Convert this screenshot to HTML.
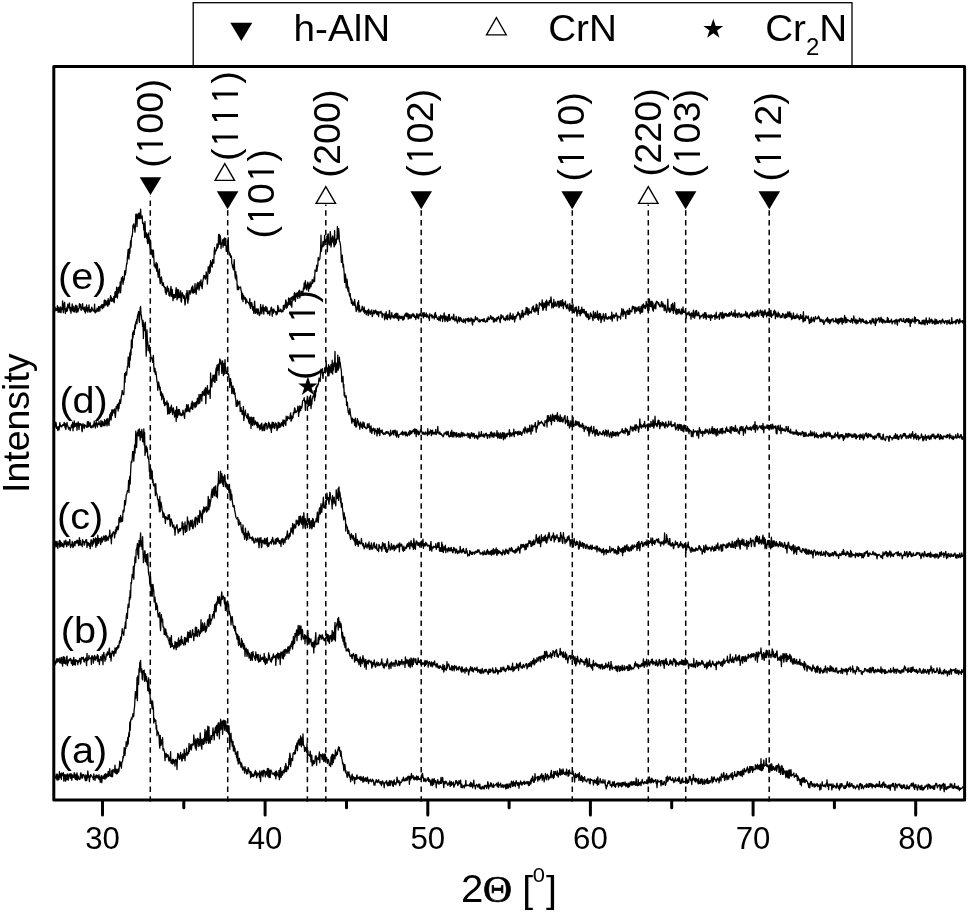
<!DOCTYPE html>
<html lang="en"><head><meta charset="utf-8"><title>XRD patterns</title>
<style>html,body{margin:0;padding:0;background:#fff}svg{display:block}</style></head>
<body>
<svg width="969" height="912" viewBox="0 0 969 912" font-family="'Liberation Sans', Arial, sans-serif" fill="#000" style="font-kerning:none">
<rect x="0" y="0" width="969" height="912" fill="#fff"/>
<line x1="150.3" y1="801.7" x2="150.3" y2="196" stroke="#000" stroke-width="1.5" stroke-dasharray="5.5 4.266"/>
<line x1="227.7" y1="801.7" x2="227.7" y2="209.5" stroke="#000" stroke-width="1.5" stroke-dasharray="5.5 4.266"/>
<line x1="307.4" y1="801.7" x2="307.4" y2="395.4" stroke="#000" stroke-width="1.5" stroke-dasharray="5.5 4.266"/>
<line x1="325.8" y1="801.7" x2="325.8" y2="204.6" stroke="#000" stroke-width="1.5" stroke-dasharray="5.5 4.266"/>
<line x1="421.2" y1="801.7" x2="421.2" y2="209.5" stroke="#000" stroke-width="1.5" stroke-dasharray="5.5 4.266"/>
<line x1="572.3" y1="801.7" x2="572.3" y2="209.5" stroke="#000" stroke-width="1.5" stroke-dasharray="5.5 4.266"/>
<line x1="648.3" y1="801.7" x2="648.3" y2="204.6" stroke="#000" stroke-width="1.5" stroke-dasharray="5.5 4.266"/>
<line x1="685.7" y1="801.7" x2="685.7" y2="209.5" stroke="#000" stroke-width="1.5" stroke-dasharray="5.5 4.266"/>
<line x1="769.2" y1="801.7" x2="769.2" y2="209.5" stroke="#000" stroke-width="1.5" stroke-dasharray="5.5 4.266"/>
<polyline points="54.6,776.6 55.0,778.2 55.4,776.8 55.8,778.3 56.2,774.1 56.6,776.5 57.0,780.0 57.4,774.1 57.8,775.2 58.2,780.0 58.6,777.8 59.0,779.3 59.4,771.7 59.8,777.2 60.2,774.1 60.6,773.7 61.0,777.8 61.4,779.3 61.8,773.0 62.2,773.9 62.6,774.8 63.0,775.6 63.4,772.7 63.8,781.0 64.2,776.7 64.6,774.6 65.0,774.6 65.4,781.2 65.8,781.0 66.2,775.0 66.6,777.2 67.0,779.4 67.4,773.9 67.8,775.7 68.2,780.3 68.6,775.2 69.0,775.9 69.4,773.9 69.8,775.4 70.2,778.5 70.6,774.9 71.0,773.5 71.4,774.6 71.8,780.3 72.2,776.8 72.6,774.9 73.0,776.8 73.4,777.4 73.8,777.0 74.2,772.6 74.6,777.9 75.0,776.7 75.4,779.3 75.8,774.2 76.2,779.6 76.6,775.8 77.0,772.8 77.4,780.0 77.8,775.5 78.2,777.4 78.6,776.5 79.0,779.2 79.4,779.2 79.8,779.5 80.2,778.6 80.6,773.1 81.0,773.0 81.4,777.6 81.8,774.8 82.2,778.2 82.6,777.9 83.0,774.4 83.4,775.0 83.8,774.8 84.2,775.6 84.6,777.0 85.0,778.8 85.4,780.6 85.8,774.9 86.2,775.7 86.6,780.6 87.0,779.1 87.4,777.3 87.8,771.0 88.2,774.2 88.6,777.3 89.0,775.7 89.4,781.7 89.8,777.1 90.2,777.4 90.6,774.7 91.0,774.9 91.4,775.9 91.8,776.0 92.2,776.7 92.6,777.8 93.0,777.6 93.4,779.6 93.8,774.0 94.2,777.4 94.6,777.4 95.0,780.4 95.4,776.1 95.8,777.6 96.2,774.9 96.6,777.7 97.0,777.8 97.4,775.4 97.8,776.2 98.2,777.2 98.6,778.8 99.0,774.6 99.4,779.4 99.8,777.0 100.2,782.3 100.6,780.9 101.0,776.6 101.4,775.5 101.8,782.7 102.2,778.3 102.6,778.4 103.0,775.9 103.4,776.1 103.8,778.6 104.2,778.0 104.6,774.4 105.0,779.1 105.4,776.5 105.8,773.6 106.2,778.0 106.6,775.0 107.0,777.2 107.4,773.9 107.8,776.2 108.2,771.3 108.6,776.4 109.0,771.7 109.4,775.5 109.8,768.6 110.2,774.3 110.6,776.0 111.0,775.0 111.4,776.5 111.8,770.3 112.2,776.6 112.6,776.6 113.0,769.3 113.4,770.3 113.8,770.9 114.2,772.0 114.6,772.2 115.0,765.1 115.4,773.2 115.8,771.2 116.2,769.1 116.6,773.9 117.0,769.9 117.4,773.5 117.8,771.6 118.2,768.8 118.6,772.2 119.0,770.5 119.4,765.5 119.8,761.1 120.2,763.6 120.6,766.2 121.0,762.7 121.4,768.1 121.8,762.6 122.2,761.5 122.6,761.3 123.0,756.4 123.4,757.8 123.8,754.9 124.2,747.6 124.6,748.1 125.0,755.3 125.4,749.4 125.8,748.5 126.2,741.7 126.6,743.0 127.0,746.4 127.4,741.9 127.8,737.5 128.2,744.0 128.6,735.5 129.0,732.1 129.4,736.6 129.8,722.1 130.2,730.2 130.6,720.6 131.0,719.8 131.4,717.9 131.8,719.7 132.2,717.2 132.6,716.2 133.0,713.7 133.4,716.8 133.8,715.9 134.2,708.8 134.6,706.5 135.0,698.3 135.4,691.6 135.8,698.3 136.2,692.7 136.6,694.7 137.0,677.7 137.4,700.7 137.8,676.0 138.2,681.1 138.6,684.4 139.0,668.6 139.4,672.2 139.8,662.4 140.2,664.5 140.6,660.3 141.0,671.8 141.4,672.4 141.8,668.9 142.2,678.6 142.6,679.9 143.0,671.7 143.4,670.8 143.8,671.0 144.2,670.2 144.6,681.3 145.0,675.9 145.4,673.6 145.8,675.5 146.2,681.1 146.6,676.7 147.0,681.7 147.4,681.1 147.8,690.6 148.2,690.9 148.6,677.9 149.0,686.7 149.4,693.5 149.8,688.9 150.2,698.1 150.6,698.3 151.0,702.0 151.4,701.1 151.8,705.7 152.2,708.9 152.6,701.0 153.0,706.1 153.4,707.9 153.8,723.1 154.2,718.2 154.6,720.5 155.0,721.4 155.4,719.8 155.8,720.4 156.2,729.3 156.6,725.5 157.0,735.7 157.4,730.9 157.8,732.2 158.2,732.1 158.6,734.0 159.0,735.8 159.4,743.4 159.8,748.2 160.2,735.3 160.6,742.1 161.0,745.4 161.4,740.0 161.8,742.2 162.2,743.8 162.6,737.6 163.0,750.2 163.4,748.4 163.8,749.1 164.2,750.9 164.6,752.2 165.0,760.6 165.4,754.2 165.8,757.4 166.2,753.5 166.6,756.9 167.0,755.1 167.4,756.5 167.8,754.6 168.2,755.4 168.6,759.9 169.0,761.1 169.4,760.5 169.8,756.9 170.2,760.7 170.6,751.6 171.0,763.1 171.4,760.1 171.8,761.1 172.2,764.0 172.6,759.2 173.0,763.7 173.4,759.3 173.8,762.5 174.2,760.5 174.6,762.2 175.0,766.0 175.4,759.5 175.8,759.5 176.2,760.1 176.6,761.7 177.0,769.5 177.4,758.6 177.8,753.4 178.2,757.6 178.6,754.3 179.0,757.9 179.4,759.3 179.8,755.9 180.2,756.7 180.6,752.3 181.0,758.9 181.4,755.2 181.8,761.0 182.2,760.6 182.6,753.8 183.0,755.5 183.4,756.3 183.8,758.3 184.2,749.4 184.6,754.4 185.0,760.6 185.4,753.9 185.8,754.6 186.2,753.1 186.6,748.2 187.0,755.7 187.4,752.9 187.8,752.4 188.2,753.9 188.6,753.7 189.0,743.3 189.4,751.4 189.8,746.9 190.2,749.0 190.6,745.3 191.0,744.2 191.4,749.9 191.8,746.0 192.2,744.7 192.6,744.0 193.0,745.1 193.4,744.3 193.8,735.0 194.2,740.0 194.6,742.1 195.0,746.0 195.4,748.1 195.8,738.9 196.2,750.1 196.6,742.1 197.0,742.9 197.4,738.6 197.8,738.4 198.2,746.5 198.6,739.5 199.0,739.6 199.4,743.9 199.8,745.9 200.2,733.0 200.6,738.6 201.0,739.3 201.4,746.7 201.8,749.2 202.2,739.1 202.6,741.0 203.0,743.4 203.4,744.4 203.8,738.5 204.2,743.5 204.6,737.2 205.0,729.5 205.4,734.8 205.8,741.1 206.2,743.2 206.6,730.9 207.0,732.9 207.4,740.2 207.8,726.2 208.2,741.8 208.6,743.3 209.0,727.0 209.4,741.5 209.8,737.3 210.2,743.3 210.6,738.2 211.0,735.3 211.4,736.4 211.8,739.6 212.2,735.9 212.6,734.4 213.0,727.9 213.4,735.3 213.8,732.9 214.2,739.9 214.6,731.3 215.0,730.4 215.4,727.2 215.8,732.8 216.2,728.1 216.6,725.3 217.0,735.4 217.4,735.8 217.8,725.6 218.2,722.9 218.6,732.1 219.0,722.8 219.4,738.8 219.8,725.3 220.2,730.2 220.6,719.2 221.0,724.5 221.4,729.0 221.8,725.7 222.2,721.0 222.6,734.4 223.0,726.6 223.4,722.0 223.8,720.1 224.2,722.2 224.6,730.1 225.0,720.7 225.4,725.0 225.8,721.5 226.2,731.4 226.6,725.4 227.0,730.1 227.4,729.8 227.8,725.4 228.2,731.6 228.6,734.1 229.0,725.8 229.4,735.3 229.8,749.2 230.2,734.2 230.6,739.9 231.0,733.2 231.4,742.1 231.8,739.6 232.2,746.1 232.6,744.3 233.0,741.3 233.4,750.9 233.8,747.3 234.2,745.8 234.6,751.1 235.0,748.4 235.4,754.1 235.8,753.6 236.2,753.3 236.6,757.7 237.0,751.8 237.4,760.7 237.8,751.4 238.2,764.0 238.6,760.0 239.0,758.9 239.4,758.2 239.8,763.6 240.2,762.0 240.6,762.9 241.0,767.0 241.4,762.8 241.8,764.2 242.2,767.1 242.6,770.0 243.0,766.8 243.4,768.1 243.8,768.1 244.2,770.5 244.6,773.0 245.0,766.6 245.4,769.2 245.8,769.5 246.2,771.2 246.6,774.0 247.0,769.9 247.4,771.1 247.8,773.7 248.2,767.6 248.6,769.3 249.0,770.3 249.4,771.8 249.8,773.0 250.2,771.5 250.6,777.8 251.0,771.6 251.4,773.1 251.8,776.6 252.2,776.2 252.6,774.2 253.0,775.5 253.4,776.6 253.8,774.3 254.2,775.8 254.6,772.1 255.0,774.9 255.4,770.3 255.8,772.2 256.2,771.7 256.6,777.7 257.0,773.8 257.4,775.8 257.8,772.9 258.2,774.7 258.6,774.5 259.0,773.3 259.4,777.3 259.8,771.0 260.2,776.6 260.6,781.5 261.0,772.6 261.4,774.9 261.8,771.0 262.2,775.1 262.6,770.8 263.0,776.6 263.4,773.5 263.8,770.1 264.2,771.4 264.6,771.0 265.0,774.2 265.4,776.9 265.8,773.6 266.2,771.4 266.6,772.3 267.0,774.7 267.4,768.5 267.8,776.2 268.2,775.7 268.6,768.6 269.0,777.6 269.4,770.3 269.8,774.0 270.2,777.5 270.6,770.4 271.0,769.9 271.4,771.9 271.8,772.0 272.2,774.2 272.6,773.3 273.0,773.6 273.4,773.5 273.8,774.5 274.2,773.0 274.6,775.7 275.0,774.5 275.4,771.6 275.8,778.9 276.2,771.0 276.6,775.9 277.0,772.1 277.4,774.5 277.8,774.5 278.2,775.3 278.6,776.6 279.0,770.4 279.4,779.6 279.8,772.8 280.2,769.4 280.6,767.6 281.0,777.6 281.4,776.0 281.8,771.4 282.2,773.6 282.6,775.2 283.0,771.7 283.4,770.1 283.8,770.7 284.2,773.0 284.6,770.2 285.0,766.2 285.4,771.5 285.8,763.5 286.2,765.9 286.6,771.6 287.0,768.1 287.4,767.9 287.8,766.6 288.2,769.1 288.6,764.8 289.0,758.4 289.4,764.6 289.8,753.1 290.2,755.3 290.6,766.5 291.0,763.7 291.4,758.4 291.8,758.7 292.2,758.4 292.6,760.6 293.0,754.0 293.4,752.8 293.8,752.7 294.2,754.1 294.6,753.5 295.0,750.2 295.4,753.7 295.8,745.9 296.2,748.6 296.6,744.9 297.0,742.8 297.4,750.6 297.8,743.7 298.2,740.4 298.6,743.9 299.0,738.9 299.4,745.0 299.8,744.9 300.2,744.8 300.6,735.9 301.0,738.9 301.4,746.8 301.8,737.9 302.2,743.8 302.6,744.9 303.0,733.9 303.4,745.5 303.8,745.1 304.2,746.6 304.6,751.4 305.0,747.7 305.4,747.6 305.8,750.7 306.2,748.3 306.6,752.0 307.0,743.6 307.4,758.1 307.8,750.6 308.2,755.1 308.6,755.2 309.0,755.0 309.4,755.7 309.8,756.1 310.2,751.1 310.6,755.4 311.0,761.8 311.4,755.1 311.8,755.1 312.2,765.9 312.6,763.2 313.0,764.8 313.4,760.4 313.8,761.4 314.2,763.5 314.6,763.0 315.0,760.3 315.4,755.8 315.8,758.4 316.2,755.8 316.6,765.3 317.0,758.1 317.4,758.0 317.8,759.1 318.2,758.0 318.6,759.5 319.0,755.4 319.4,752.0 319.8,762.8 320.2,754.7 320.6,755.2 321.0,754.5 321.4,755.3 321.8,757.0 322.2,759.6 322.6,754.0 323.0,758.2 323.4,755.3 323.8,761.6 324.2,754.0 324.6,758.3 325.0,760.8 325.4,754.2 325.8,759.2 326.2,759.7 326.6,757.4 327.0,759.5 327.4,763.5 327.8,761.2 328.2,759.4 328.6,759.9 329.0,762.5 329.4,765.6 329.8,764.0 330.2,763.7 330.6,766.5 331.0,757.0 331.4,757.5 331.8,754.9 332.2,764.6 332.6,754.2 333.0,760.8 333.4,762.5 333.8,754.9 334.2,756.3 334.6,756.4 335.0,758.8 335.4,750.0 335.8,755.5 336.2,755.8 336.6,752.8 337.0,751.9 337.4,754.5 337.8,749.9 338.2,748.7 338.6,746.8 339.0,750.3 339.4,747.4 339.8,751.4 340.2,750.8 340.6,756.2 341.0,751.1 341.4,755.7 341.8,758.2 342.2,760.2 342.6,764.0 343.0,762.6 343.4,765.9 343.8,770.5 344.2,768.2 344.6,764.3 345.0,765.0 345.4,772.1 345.8,770.3 346.2,773.3 346.6,773.1 347.0,777.1 347.4,777.1 347.8,771.8 348.2,775.4 348.6,774.2 349.0,772.0 349.4,777.2 349.8,775.1 350.2,776.6 350.6,781.8 351.0,779.2 351.4,779.1 351.8,775.8 352.2,774.2 352.6,780.1 353.0,776.5 353.4,777.8 353.8,777.1 354.2,778.4 354.6,783.8 355.0,777.7 355.4,777.8 355.8,778.8 356.2,779.5 356.6,776.3 357.0,774.9 357.4,777.9 357.8,778.8 358.2,777.7 358.6,777.3 359.0,777.2 359.4,778.8 359.8,779.4 360.2,776.3 360.6,779.0 361.0,780.6 361.4,779.5 361.8,777.0 362.2,779.3 362.6,780.5 363.0,782.1 363.4,776.7 363.8,781.5 364.2,778.7 364.6,780.2 365.0,781.1 365.4,777.9 365.8,778.0 366.2,779.1 366.6,781.4 367.0,778.9 367.4,777.2 367.8,779.2 368.2,781.8 368.6,783.5 369.0,779.8 369.4,780.2 369.8,781.1 370.2,780.7 370.6,779.1 371.0,780.4 371.4,781.8 371.8,781.2 372.2,781.2 372.6,779.1 373.0,780.6 373.4,780.5 373.8,784.2 374.2,785.2 374.6,783.1 375.0,785.1 375.4,781.7 375.8,781.6 376.2,779.6 376.6,782.2 377.0,780.5 377.4,781.6 377.8,782.5 378.2,781.1 378.6,779.6 379.0,781.8 379.4,782.0 379.8,782.6 380.2,783.9 380.6,781.8 381.0,781.5 381.4,785.7 381.8,784.4 382.2,782.3 382.6,780.8 383.0,781.8 383.4,783.4 383.8,784.3 384.2,787.8 384.6,782.9 385.0,783.2 385.4,782.0 385.8,782.9 386.2,782.0 386.6,780.7 387.0,784.8 387.4,783.2 387.8,785.9 388.2,782.5 388.6,784.2 389.0,785.5 389.4,780.6 389.8,781.5 390.2,785.5 390.6,784.4 391.0,780.6 391.4,782.3 391.8,781.5 392.2,782.2 392.6,785.9 393.0,781.6 393.4,786.3 393.8,781.5 394.2,779.9 394.6,784.1 395.0,782.8 395.4,783.4 395.8,784.8 396.2,782.5 396.6,782.8 397.0,777.1 397.4,779.1 397.8,782.1 398.2,781.7 398.6,782.7 399.0,780.3 399.4,783.5 399.8,785.5 400.2,782.5 400.6,782.8 401.0,781.8 401.4,782.4 401.8,781.2 402.2,779.4 402.6,780.9 403.0,780.4 403.4,777.1 403.8,780.7 404.2,780.3 404.6,780.7 405.0,778.8 405.4,780.6 405.8,780.7 406.2,777.7 406.6,779.6 407.0,780.3 407.4,780.0 407.8,776.5 408.2,776.1 408.6,778.7 409.0,776.5 409.4,784.3 409.8,776.5 410.2,776.6 410.6,779.9 411.0,777.6 411.4,773.5 411.8,778.0 412.2,776.5 412.6,777.6 413.0,775.4 413.4,777.4 413.8,779.5 414.2,779.8 414.6,777.2 415.0,777.8 415.4,777.5 415.8,779.3 416.2,778.5 416.6,776.0 417.0,780.2 417.4,776.7 417.8,779.3 418.2,776.4 418.6,779.2 419.0,778.3 419.4,778.7 419.8,779.7 420.2,779.5 420.6,778.8 421.0,778.7 421.4,775.2 421.8,778.1 422.2,773.6 422.6,773.5 423.0,777.4 423.4,777.6 423.8,781.3 424.2,779.6 424.6,780.9 425.0,778.3 425.4,780.1 425.8,781.7 426.2,780.5 426.6,780.6 427.0,780.3 427.4,778.1 427.8,778.5 428.2,777.6 428.6,781.3 429.0,780.0 429.4,779.3 429.8,781.8 430.2,780.2 430.6,783.7 431.0,785.6 431.4,782.5 431.8,780.4 432.2,778.8 432.6,785.7 433.0,782.6 433.4,779.5 433.8,784.1 434.2,778.7 434.6,781.4 435.0,782.1 435.4,781.9 435.8,780.5 436.2,787.8 436.6,782.3 437.0,783.6 437.4,783.0 437.8,779.6 438.2,781.9 438.6,783.0 439.0,784.4 439.4,781.8 439.8,782.8 440.2,781.1 440.6,783.4 441.0,777.3 441.4,783.4 441.8,781.1 442.2,781.5 442.6,777.3 443.0,780.7 443.4,784.1 443.8,787.7 444.2,781.7 444.6,781.8 445.0,783.8 445.4,783.0 445.8,781.2 446.2,782.1 446.6,782.0 447.0,784.0 447.4,784.1 447.8,785.4 448.2,783.7 448.6,783.5 449.0,782.8 449.4,784.5 449.8,780.8 450.2,786.4 450.6,782.8 451.0,785.3 451.4,781.6 451.8,785.2 452.2,784.5 452.6,783.5 453.0,782.6 453.4,782.1 453.8,787.2 454.2,786.4 454.6,784.5 455.0,784.7 455.4,783.1 455.8,780.7 456.2,780.6 456.6,782.2 457.0,783.6 457.4,782.0 457.8,785.5 458.2,784.7 458.6,783.9 459.0,780.6 459.4,783.0 459.8,783.6 460.2,782.1 460.6,780.1 461.0,787.5 461.4,785.2 461.8,784.1 462.2,787.8 462.6,786.5 463.0,785.8 463.4,785.7 463.8,786.6 464.2,788.0 464.6,785.4 465.0,784.7 465.4,786.0 465.8,780.4 466.2,786.1 466.6,785.1 467.0,785.4 467.4,785.0 467.8,785.7 468.2,785.5 468.6,785.7 469.0,785.0 469.4,785.8 469.8,783.9 470.2,786.6 470.6,782.2 471.0,785.6 471.4,786.2 471.8,783.2 472.2,784.6 472.6,787.8 473.0,785.4 473.4,784.1 473.8,780.1 474.2,785.9 474.6,785.5 475.0,786.5 475.4,788.9 475.8,785.4 476.2,785.8 476.6,784.3 477.0,785.4 477.4,785.5 477.8,787.1 478.2,786.5 478.6,784.1 479.0,784.7 479.4,788.0 479.8,784.1 480.2,787.1 480.6,788.9 481.0,787.6 481.4,787.1 481.8,789.1 482.2,787.5 482.6,786.7 483.0,786.3 483.4,788.5 483.8,787.9 484.2,789.0 484.6,785.7 485.0,785.3 485.4,785.4 485.8,786.9 486.2,785.5 486.6,788.4 487.0,787.3 487.4,784.8 487.8,781.6 488.2,783.4 488.6,788.8 489.0,786.1 489.4,786.1 489.8,784.9 490.2,786.5 490.6,782.8 491.0,782.8 491.4,783.3 491.8,786.2 492.2,787.2 492.6,786.9 493.0,785.9 493.4,784.0 493.8,787.3 494.2,785.4 494.6,785.5 495.0,785.5 495.4,784.9 495.8,784.5 496.2,784.5 496.6,783.3 497.0,786.0 497.4,785.1 497.8,786.9 498.2,782.2 498.6,787.3 499.0,785.4 499.4,785.3 499.8,784.4 500.2,784.1 500.6,783.1 501.0,787.2 501.4,785.5 501.8,787.2 502.2,787.2 502.6,784.7 503.0,785.1 503.4,785.1 503.8,787.6 504.2,785.3 504.6,785.2 505.0,786.2 505.4,784.9 505.8,788.9 506.2,784.1 506.6,788.1 507.0,788.4 507.4,784.1 507.8,787.8 508.2,787.0 508.6,788.0 509.0,784.0 509.4,786.5 509.8,784.0 510.2,784.8 510.6,787.6 511.0,784.6 511.4,781.1 511.8,782.3 512.2,782.7 512.6,786.3 513.0,783.1 513.4,781.1 513.8,785.9 514.2,784.4 514.6,784.6 515.0,782.4 515.4,786.5 515.8,783.8 516.2,780.6 516.6,782.2 517.0,782.8 517.4,784.0 517.8,785.5 518.2,782.6 518.6,782.9 519.0,788.1 519.4,783.7 519.8,782.7 520.2,783.5 520.6,781.0 521.0,784.3 521.4,784.9 521.8,782.3 522.2,785.0 522.6,782.7 523.0,783.8 523.4,782.1 523.8,782.1 524.2,781.1 524.6,784.4 525.0,783.6 525.4,783.6 525.8,782.3 526.2,781.7 526.6,782.6 527.0,783.8 527.4,783.2 527.8,781.3 528.2,783.0 528.6,785.6 529.0,782.0 529.4,785.3 529.8,782.0 530.2,784.0 530.6,780.2 531.0,783.8 531.4,778.5 531.8,781.2 532.2,779.7 532.6,776.1 533.0,777.2 533.4,782.2 533.8,780.6 534.2,782.3 534.6,780.1 535.0,773.6 535.4,780.0 535.8,778.2 536.2,778.0 536.6,777.8 537.0,777.1 537.4,776.6 537.8,781.2 538.2,779.0 538.6,776.3 539.0,776.7 539.4,779.9 539.8,778.7 540.2,778.6 540.6,775.2 541.0,777.0 541.4,775.4 541.8,773.6 542.2,780.1 542.6,777.2 543.0,776.6 543.4,775.3 543.8,778.8 544.2,781.8 544.6,777.9 545.0,778.8 545.4,773.5 545.8,776.2 546.2,776.4 546.6,779.8 547.0,776.4 547.4,774.1 547.8,776.2 548.2,775.5 548.6,779.8 549.0,777.9 549.4,777.2 549.8,776.6 550.2,777.9 550.6,774.0 551.0,772.8 551.4,770.3 551.8,777.6 552.2,775.8 552.6,776.1 553.0,774.8 553.4,778.5 553.8,771.5 554.2,777.2 554.6,772.2 555.0,773.4 555.4,771.3 555.8,774.4 556.2,773.4 556.6,775.3 557.0,772.7 557.4,770.9 557.8,775.6 558.2,777.2 558.6,775.3 559.0,773.2 559.4,774.3 559.8,768.6 560.2,771.4 560.6,775.1 561.0,773.2 561.4,769.9 561.8,774.2 562.2,771.8 562.6,774.2 563.0,768.9 563.4,771.2 563.8,773.7 564.2,773.8 564.6,774.3 565.0,772.7 565.4,772.3 565.8,773.9 566.2,775.2 566.6,769.1 567.0,772.3 567.4,772.7 567.8,774.0 568.2,776.3 568.6,770.7 569.0,775.4 569.4,770.0 569.8,772.2 570.2,773.1 570.6,773.6 571.0,773.0 571.4,773.3 571.8,774.0 572.2,774.3 572.6,770.6 573.0,771.4 573.4,773.8 573.8,776.3 574.2,777.7 574.6,782.0 575.0,775.3 575.4,773.4 575.8,776.0 576.2,777.6 576.6,776.9 577.0,774.3 577.4,776.2 577.8,776.7 578.2,774.0 578.6,774.7 579.0,780.5 579.4,772.6 579.8,778.0 580.2,777.0 580.6,780.4 581.0,779.1 581.4,775.7 581.8,780.4 582.2,776.3 582.6,782.0 583.0,781.4 583.4,777.6 583.8,779.4 584.2,778.7 584.6,776.6 585.0,780.9 585.4,779.8 585.8,780.6 586.2,781.2 586.6,781.9 587.0,781.0 587.4,779.1 587.8,779.2 588.2,779.8 588.6,778.8 589.0,778.8 589.4,783.1 589.8,780.5 590.2,783.8 590.6,778.8 591.0,780.5 591.4,779.9 591.8,779.6 592.2,780.1 592.6,780.7 593.0,780.6 593.4,785.0 593.8,782.7 594.2,779.8 594.6,779.8 595.0,782.5 595.4,782.6 595.8,780.6 596.2,783.4 596.6,778.9 597.0,781.0 597.4,785.1 597.8,777.0 598.2,781.9 598.6,784.5 599.0,782.8 599.4,781.3 599.8,781.0 600.2,778.7 600.6,780.2 601.0,783.0 601.4,781.3 601.8,782.6 602.2,782.4 602.6,783.0 603.0,779.5 603.4,782.6 603.8,782.7 604.2,783.0 604.6,782.4 605.0,779.9 605.4,785.6 605.8,785.8 606.2,788.8 606.6,785.5 607.0,786.7 607.4,784.4 607.8,782.4 608.2,783.7 608.6,780.8 609.0,783.2 609.4,782.6 609.8,780.9 610.2,785.3 610.6,785.6 611.0,784.6 611.4,785.4 611.8,787.0 612.2,784.0 612.6,781.9 613.0,782.6 613.4,785.6 613.8,784.6 614.2,781.3 614.6,786.4 615.0,784.5 615.4,787.4 615.8,786.3 616.2,783.6 616.6,784.4 617.0,783.1 617.4,783.0 617.8,783.8 618.2,785.5 618.6,787.0 619.0,782.6 619.4,785.4 619.8,784.0 620.2,783.4 620.6,785.7 621.0,783.2 621.4,786.8 621.8,783.5 622.2,782.6 622.6,786.0 623.0,782.3 623.4,782.5 623.8,784.7 624.2,785.1 624.6,784.9 625.0,781.8 625.4,783.1 625.8,786.5 626.2,786.1 626.6,783.4 627.0,785.9 627.4,785.9 627.8,787.3 628.2,783.1 628.6,787.1 629.0,783.5 629.4,786.5 629.8,785.6 630.2,782.0 630.6,783.4 631.0,784.2 631.4,785.2 631.8,781.4 632.2,782.9 632.6,785.1 633.0,784.7 633.4,781.7 633.8,782.2 634.2,784.6 634.6,781.8 635.0,784.4 635.4,785.2 635.8,783.2 636.2,777.9 636.6,785.2 637.0,785.5 637.4,785.7 637.8,784.3 638.2,779.3 638.6,785.4 639.0,783.6 639.4,784.9 639.8,782.4 640.2,782.4 640.6,782.0 641.0,785.6 641.4,782.8 641.8,781.8 642.2,779.4 642.6,782.8 643.0,782.1 643.4,782.7 643.8,784.0 644.2,783.4 644.6,781.6 645.0,782.4 645.4,782.0 645.8,783.4 646.2,783.2 646.6,781.9 647.0,779.7 647.4,783.6 647.8,783.9 648.2,780.0 648.6,782.5 649.0,780.7 649.4,776.8 649.8,780.9 650.2,782.9 650.6,779.5 651.0,779.2 651.4,782.6 651.8,778.2 652.2,778.8 652.6,780.2 653.0,782.3 653.4,782.6 653.8,780.2 654.2,780.6 654.6,781.5 655.0,780.6 655.4,780.0 655.8,779.5 656.2,783.4 656.6,781.4 657.0,787.6 657.4,782.9 657.8,779.8 658.2,781.3 658.6,781.9 659.0,781.6 659.4,781.9 659.8,781.8 660.2,780.7 660.6,782.5 661.0,785.8 661.4,780.5 661.8,780.6 662.2,783.4 662.6,784.7 663.0,783.8 663.4,784.6 663.8,782.0 664.2,781.4 664.6,782.9 665.0,783.1 665.4,785.3 665.8,784.5 666.2,777.4 666.6,782.5 667.0,779.4 667.4,776.1 667.8,781.2 668.2,780.2 668.6,779.5 669.0,777.2 669.4,777.7 669.8,779.2 670.2,776.7 670.6,779.5 671.0,780.1 671.4,779.6 671.8,780.5 672.2,780.1 672.6,778.0 673.0,778.3 673.4,781.0 673.8,782.7 674.2,781.1 674.6,780.0 675.0,781.5 675.4,777.6 675.8,779.2 676.2,780.4 676.6,780.9 677.0,780.4 677.4,780.5 677.8,778.6 678.2,779.6 678.6,781.4 679.0,776.8 679.4,778.1 679.8,779.6 680.2,783.6 680.6,781.5 681.0,783.3 681.4,782.9 681.8,779.1 682.2,779.8 682.6,777.8 683.0,782.6 683.4,781.9 683.8,781.5 684.2,782.1 684.6,781.9 685.0,781.3 685.4,781.3 685.8,783.4 686.2,779.0 686.6,778.5 687.0,780.6 687.4,783.4 687.8,780.9 688.2,780.1 688.6,782.3 689.0,780.7 689.4,776.4 689.8,778.7 690.2,776.5 690.6,780.3 691.0,779.4 691.4,781.4 691.8,784.5 692.2,778.6 692.6,780.4 693.0,779.7 693.4,774.3 693.8,778.4 694.2,778.8 694.6,781.1 695.0,778.8 695.4,778.3 695.8,782.1 696.2,780.4 696.6,778.7 697.0,779.3 697.4,780.3 697.8,782.5 698.2,783.9 698.6,778.4 699.0,783.5 699.4,781.5 699.8,782.3 700.2,783.6 700.6,779.4 701.0,783.2 701.4,778.9 701.8,780.1 702.2,779.1 702.6,784.4 703.0,784.2 703.4,782.2 703.8,781.6 704.2,779.5 704.6,784.1 705.0,783.3 705.4,782.5 705.8,780.5 706.2,779.7 706.6,780.4 707.0,783.3 707.4,778.3 707.8,780.5 708.2,783.5 708.6,781.5 709.0,783.4 709.4,780.6 709.8,780.6 710.2,782.4 710.6,780.9 711.0,780.7 711.4,778.6 711.8,776.6 712.2,782.9 712.6,778.6 713.0,778.1 713.4,781.5 713.8,777.8 714.2,776.8 714.6,778.3 715.0,779.5 715.4,780.0 715.8,780.8 716.2,781.8 716.6,779.2 717.0,780.2 717.4,779.0 717.8,777.9 718.2,779.6 718.6,779.2 719.0,782.8 719.4,779.8 719.8,777.0 720.2,779.6 720.6,777.3 721.0,781.0 721.4,773.8 721.8,776.1 722.2,776.2 722.6,777.4 723.0,776.7 723.4,773.2 723.8,772.5 724.2,777.4 724.6,780.3 725.0,779.9 725.4,775.7 725.8,777.7 726.2,774.8 726.6,773.7 727.0,779.9 727.4,778.6 727.8,776.0 728.2,776.1 728.6,779.0 729.0,777.2 729.4,775.4 729.8,776.8 730.2,775.6 730.6,774.7 731.0,773.9 731.4,777.5 731.8,773.9 732.2,772.6 732.6,779.7 733.0,778.2 733.4,776.4 733.8,775.3 734.2,775.8 734.6,771.7 735.0,775.3 735.4,776.0 735.8,774.7 736.2,776.6 736.6,773.8 737.0,776.1 737.4,771.4 737.8,775.0 738.2,773.4 738.6,771.3 739.0,773.5 739.4,774.0 739.8,772.2 740.2,775.7 740.6,771.4 741.0,775.3 741.4,774.5 741.8,771.2 742.2,776.5 742.6,769.8 743.0,774.4 743.4,772.9 743.8,774.6 744.2,768.4 744.6,769.2 745.0,769.9 745.4,771.9 745.8,772.0 746.2,770.8 746.6,770.1 747.0,768.8 747.4,766.8 747.8,769.4 748.2,771.8 748.6,773.0 749.0,769.0 749.4,772.7 749.8,766.5 750.2,772.0 750.6,766.6 751.0,770.2 751.4,766.7 751.8,766.6 752.2,767.4 752.6,772.4 753.0,766.7 753.4,770.3 753.8,768.8 754.2,769.4 754.6,769.1 755.0,769.9 755.4,764.7 755.8,768.3 756.2,768.9 756.6,766.0 757.0,768.0 757.4,764.5 757.8,769.0 758.2,765.1 758.6,766.3 759.0,769.0 759.4,769.6 759.8,764.8 760.2,765.0 760.6,770.0 761.0,758.7 761.4,770.5 761.8,770.6 762.2,764.1 762.6,770.1 763.0,767.9 763.4,768.4 763.8,760.1 764.2,765.0 764.6,766.0 765.0,765.5 765.4,765.3 765.8,765.3 766.2,758.3 766.6,766.0 767.0,764.6 767.4,766.5 767.8,765.1 768.2,766.8 768.6,767.8 769.0,772.3 769.4,764.9 769.8,772.0 770.2,766.9 770.6,765.3 771.0,763.8 771.4,770.5 771.8,763.8 772.2,770.4 772.6,768.6 773.0,766.5 773.4,766.5 773.8,769.5 774.2,768.3 774.6,770.1 775.0,768.1 775.4,766.9 775.8,769.9 776.2,765.6 776.6,771.1 777.0,768.9 777.4,765.4 777.8,765.9 778.2,767.7 778.6,763.8 779.0,772.5 779.4,771.8 779.8,766.2 780.2,768.8 780.6,774.3 781.0,771.5 781.4,768.1 781.8,765.5 782.2,766.8 782.6,774.4 783.0,772.1 783.4,768.4 783.8,774.1 784.2,771.3 784.6,770.9 785.0,771.4 785.4,771.7 785.8,777.5 786.2,770.8 786.6,772.2 787.0,776.5 787.4,777.0 787.8,770.8 788.2,778.1 788.6,775.9 789.0,770.0 789.4,778.0 789.8,770.2 790.2,775.7 790.6,771.2 791.0,769.7 791.4,776.2 791.8,775.4 792.2,774.4 792.6,775.1 793.0,774.7 793.4,774.6 793.8,773.0 794.2,777.3 794.6,776.3 795.0,775.9 795.4,775.5 795.8,776.4 796.2,773.7 796.6,776.7 797.0,775.4 797.4,780.7 797.8,776.0 798.2,777.1 798.6,778.3 799.0,780.5 799.4,779.8 799.8,779.1 800.2,784.4 800.6,779.6 801.0,780.5 801.4,785.8 801.8,778.4 802.2,782.4 802.6,781.2 803.0,777.6 803.4,779.0 803.8,782.1 804.2,777.6 804.6,780.1 805.0,782.6 805.4,780.2 805.8,781.5 806.2,779.9 806.6,780.6 807.0,781.0 807.4,781.6 807.8,783.8 808.2,783.3 808.6,787.3 809.0,784.3 809.4,783.9 809.8,787.8 810.2,783.4 810.6,781.7 811.0,783.9 811.4,781.6 811.8,784.7 812.2,786.3 812.6,785.4 813.0,783.7 813.4,784.4 813.8,785.4 814.2,787.1 814.6,784.0 815.0,784.1 815.4,786.7 815.8,785.2 816.2,785.7 816.6,785.7 817.0,783.3 817.4,784.2 817.8,786.7 818.2,784.9 818.6,785.1 819.0,786.3 819.4,786.4 819.8,790.0 820.2,784.0 820.6,785.8 821.0,789.2 821.4,785.2 821.8,785.3 822.2,781.7 822.6,785.7 823.0,785.9 823.4,786.2 823.8,785.2 824.2,786.0 824.6,784.8 825.0,786.7 825.4,785.7 825.8,787.0 826.2,783.3 826.6,784.8 827.0,780.0 827.4,784.4 827.8,786.3 828.2,785.1 828.6,789.6 829.0,783.8 829.4,785.6 829.8,784.5 830.2,785.1 830.6,785.3 831.0,783.9 831.4,784.7 831.8,789.9 832.2,785.9 832.6,787.9 833.0,783.8 833.4,786.0 833.8,787.4 834.2,786.2 834.6,785.5 835.0,786.3 835.4,786.3 835.8,787.9 836.2,788.1 836.6,784.1 837.0,783.2 837.4,786.4 837.8,786.8 838.2,787.8 838.6,788.3 839.0,785.4 839.4,790.0 839.8,787.2 840.2,783.6 840.6,787.8 841.0,786.5 841.4,786.2 841.8,783.3 842.2,785.4 842.6,786.0 843.0,785.5 843.4,787.0 843.8,788.1 844.2,788.6 844.6,788.0 845.0,785.5 845.4,788.3 845.8,785.8 846.2,787.3 846.6,785.1 847.0,783.1 847.4,781.7 847.8,785.7 848.2,784.3 848.6,786.0 849.0,787.4 849.4,783.5 849.8,782.8 850.2,786.4 850.6,786.5 851.0,785.3 851.4,785.0 851.8,783.4 852.2,786.2 852.6,785.3 853.0,787.0 853.4,788.1 853.8,785.3 854.2,787.1 854.6,786.9 855.0,787.7 855.4,788.8 855.8,786.8 856.2,787.1 856.6,787.2 857.0,784.8 857.4,785.5 857.8,786.1 858.2,787.7 858.6,787.7 859.0,789.7 859.4,784.4 859.8,785.9 860.2,783.3 860.6,785.6 861.0,784.0 861.4,788.6 861.8,787.6 862.2,784.7 862.6,786.7 863.0,787.4 863.4,788.8 863.8,787.1 864.2,785.9 864.6,785.7 865.0,787.0 865.4,786.6 865.8,785.4 866.2,783.8 866.6,787.4 867.0,784.1 867.4,784.9 867.8,786.9 868.2,785.3 868.6,787.4 869.0,783.4 869.4,786.6 869.8,783.6 870.2,783.5 870.6,784.5 871.0,786.6 871.4,785.1 871.8,783.7 872.2,788.0 872.6,784.6 873.0,785.6 873.4,786.4 873.8,785.0 874.2,786.4 874.6,786.8 875.0,785.7 875.4,787.7 875.8,784.9 876.2,784.1 876.6,786.3 877.0,783.8 877.4,786.4 877.8,785.6 878.2,784.9 878.6,786.7 879.0,786.7 879.4,781.3 879.8,785.5 880.2,786.3 880.6,787.1 881.0,785.5 881.4,784.6 881.8,786.6 882.2,787.6 882.6,782.8 883.0,783.3 883.4,785.2 883.8,781.9 884.2,785.1 884.6,787.3 885.0,784.2 885.4,786.5 885.8,784.4 886.2,786.8 886.6,787.0 887.0,787.7 887.4,786.0 887.8,787.8 888.2,786.8 888.6,785.2 889.0,788.4 889.4,785.1 889.8,786.2 890.2,790.2 890.6,787.7 891.0,784.6 891.4,786.1 891.8,784.8 892.2,785.7 892.6,783.5 893.0,786.3 893.4,783.5 893.8,786.8 894.2,786.9 894.6,787.8 895.0,790.3 895.4,783.5 895.8,784.4 896.2,784.4 896.6,785.3 897.0,787.8 897.4,785.3 897.8,785.0 898.2,784.1 898.6,784.9 899.0,785.3 899.4,785.7 899.8,784.0 900.2,786.2 900.6,787.6 901.0,787.7 901.4,785.1 901.8,788.7 902.2,788.5 902.6,787.8 903.0,785.3 903.4,784.8 903.8,787.5 904.2,785.6 904.6,785.0 905.0,788.6 905.4,788.3 905.8,788.0 906.2,789.1 906.6,788.5 907.0,784.9 907.4,788.4 907.8,786.6 908.2,787.0 908.6,788.8 909.0,786.6 909.4,788.6 909.8,786.1 910.2,785.3 910.6,784.9 911.0,785.6 911.4,783.4 911.8,786.2 912.2,786.2 912.6,785.6 913.0,782.9 913.4,783.1 913.8,787.8 914.2,785.0 914.6,789.4 915.0,785.5 915.4,787.1 915.8,784.4 916.2,786.1 916.6,786.6 917.0,788.3 917.4,790.2 917.8,788.9 918.2,784.8 918.6,787.2 919.0,787.1 919.4,786.2 919.8,788.0 920.2,789.6 920.6,786.0 921.0,788.6 921.4,789.2 921.8,785.2 922.2,790.0 922.6,789.9 923.0,787.5 923.4,789.9 923.8,787.7 924.2,788.8 924.6,788.0 925.0,786.0 925.4,787.4 925.8,786.9 926.2,786.0 926.6,785.0 927.0,785.9 927.4,785.3 927.8,789.3 928.2,784.0 928.6,786.5 929.0,785.8 929.4,784.5 929.8,788.0 930.2,785.5 930.6,788.5 931.0,786.1 931.4,787.1 931.8,786.3 932.2,788.1 932.6,788.0 933.0,786.0 933.4,786.6 933.8,789.4 934.2,785.5 934.6,789.2 935.0,785.6 935.4,785.5 935.8,783.3 936.2,785.2 936.6,783.5 937.0,785.7 937.4,787.8 937.8,786.5 938.2,785.8 938.6,785.3 939.0,785.7 939.4,784.6 939.8,785.0 940.2,790.1 940.6,787.0 941.0,785.2 941.4,787.7 941.8,788.6 942.2,784.7 942.6,785.7 943.0,784.1 943.4,783.4 943.8,788.4 944.2,791.7 944.6,785.0 945.0,784.0 945.4,789.2 945.8,789.1 946.2,788.0 946.6,789.5 947.0,786.6 947.4,787.3 947.8,788.5 948.2,786.5 948.6,787.6 949.0,786.5 949.4,787.5 949.8,787.2 950.2,783.7 950.6,787.2 951.0,785.1 951.4,785.7 951.8,784.0 952.2,788.0 952.6,786.2 953.0,785.9 953.4,788.3 953.8,787.6 954.2,786.0 954.6,783.3 955.0,787.9 955.4,786.8 955.8,786.8 956.2,788.4 956.6,786.4 957.0,787.5 957.4,788.9 957.8,788.2 958.2,785.9 958.6,789.0 959.0,788.8 959.4,790.5 959.8,787.7 960.2,788.2 960.6,789.5 961.0,788.6 961.4,788.5 961.8,788.1 962.2,788.0 962.6,787.2 963.0,786.7 963.4,788.2 963.8,786.9" fill="none" stroke="#000" stroke-width="1.3" stroke-linejoin="round"/>
<polyline points="54.6,662.9 55.0,664.8 55.4,661.4 55.8,663.5 56.2,661.0 56.6,658.9 57.0,662.2 57.4,661.8 57.8,658.6 58.2,658.8 58.6,661.1 59.0,659.9 59.4,662.4 59.8,658.0 60.2,663.2 60.6,659.6 61.0,662.0 61.4,657.3 61.8,663.5 62.2,661.8 62.6,666.1 63.0,657.1 63.4,656.7 63.8,662.7 64.2,663.4 64.6,657.1 65.0,662.6 65.4,663.3 65.8,664.1 66.2,661.1 66.6,657.2 67.0,656.1 67.4,665.7 67.8,661.6 68.2,662.8 68.6,659.8 69.0,660.2 69.4,660.7 69.8,659.0 70.2,660.1 70.6,658.3 71.0,659.9 71.4,663.7 71.8,661.4 72.2,659.8 72.6,665.4 73.0,664.7 73.4,661.5 73.8,657.4 74.2,664.7 74.6,664.6 75.0,660.2 75.4,665.0 75.8,659.6 76.2,661.2 76.6,660.3 77.0,661.6 77.4,660.9 77.8,664.6 78.2,660.5 78.6,662.2 79.0,660.9 79.4,661.0 79.8,658.3 80.2,660.3 80.6,663.9 81.0,662.4 81.4,657.3 81.8,659.5 82.2,657.7 82.6,658.4 83.0,658.5 83.4,657.2 83.8,661.0 84.2,662.1 84.6,660.5 85.0,659.0 85.4,660.2 85.8,657.9 86.2,662.4 86.6,665.7 87.0,653.3 87.4,660.7 87.8,659.7 88.2,659.9 88.6,658.9 89.0,655.5 89.4,658.8 89.8,658.1 90.2,658.5 90.6,658.7 91.0,657.7 91.4,664.5 91.8,655.8 92.2,657.8 92.6,656.0 93.0,659.0 93.4,663.1 93.8,659.0 94.2,657.0 94.6,655.4 95.0,659.9 95.4,656.8 95.8,660.1 96.2,656.8 96.6,657.2 97.0,658.4 97.4,654.5 97.8,661.5 98.2,655.7 98.6,659.2 99.0,660.0 99.4,664.6 99.8,659.4 100.2,660.3 100.6,656.6 101.0,657.5 101.4,657.8 101.8,660.6 102.2,654.8 102.6,658.3 103.0,664.6 103.4,654.9 103.8,652.4 104.2,655.9 104.6,656.6 105.0,661.3 105.4,657.6 105.8,659.4 106.2,654.0 106.6,655.4 107.0,655.7 107.4,651.9 107.8,654.9 108.2,653.3 108.6,654.4 109.0,650.1 109.4,648.1 109.8,657.4 110.2,653.5 110.6,653.3 111.0,661.0 111.4,656.4 111.8,654.4 112.2,650.9 112.6,653.2 113.0,652.7 113.4,651.3 113.8,656.1 114.2,653.7 114.6,652.7 115.0,648.0 115.4,648.3 115.8,653.2 116.2,650.6 116.6,647.6 117.0,649.5 117.4,647.7 117.8,645.6 118.2,645.7 118.6,647.8 119.0,645.6 119.4,641.3 119.8,640.7 120.2,642.8 120.6,637.2 121.0,640.4 121.4,638.9 121.8,633.6 122.2,628.7 122.6,632.6 123.0,633.7 123.4,632.1 123.8,635.3 124.2,629.3 124.6,627.2 125.0,626.8 125.4,621.9 125.8,628.4 126.2,617.0 126.6,613.7 127.0,613.2 127.4,618.4 127.8,607.7 128.2,604.1 128.6,607.5 129.0,607.3 129.4,597.1 129.8,599.8 130.2,590.4 130.6,597.8 131.0,582.4 131.4,583.7 131.8,579.3 132.2,574.3 132.6,576.0 133.0,577.3 133.4,566.1 133.8,579.2 134.2,567.2 134.6,565.7 135.0,557.0 135.4,559.1 135.8,562.6 136.2,549.3 136.6,549.5 137.0,547.5 137.4,543.5 137.8,554.8 138.2,544.7 138.6,558.7 139.0,540.4 139.4,545.2 139.8,546.7 140.2,540.1 140.6,533.0 141.0,542.1 141.4,546.3 141.8,541.1 142.2,549.3 142.6,536.6 143.0,550.5 143.4,562.6 143.8,556.8 144.2,557.8 144.6,550.9 145.0,551.0 145.4,561.7 145.8,554.6 146.2,562.2 146.6,554.7 147.0,564.5 147.4,565.3 147.8,553.7 148.2,567.6 148.6,573.5 149.0,575.4 149.4,576.5 149.8,583.9 150.2,578.5 150.6,576.8 151.0,587.7 151.4,595.9 151.8,584.7 152.2,596.3 152.6,589.3 153.0,584.3 153.4,588.6 153.8,590.4 154.2,602.1 154.6,598.3 155.0,597.2 155.4,602.2 155.8,609.9 156.2,604.3 156.6,603.1 157.0,609.5 157.4,605.9 157.8,613.5 158.2,617.0 158.6,614.8 159.0,613.4 159.4,617.2 159.8,612.3 160.2,626.0 160.6,630.7 161.0,622.2 161.4,614.7 161.8,621.7 162.2,619.7 162.6,619.1 163.0,626.5 163.4,627.7 163.8,627.0 164.2,634.4 164.6,631.3 165.0,628.8 165.4,635.1 165.8,629.2 166.2,633.5 166.6,632.9 167.0,637.2 167.4,636.4 167.8,635.9 168.2,639.2 168.6,640.5 169.0,640.4 169.4,644.2 169.8,637.6 170.2,642.6 170.6,647.4 171.0,642.1 171.4,635.4 171.8,646.6 172.2,643.2 172.6,646.4 173.0,645.5 173.4,646.5 173.8,649.0 174.2,645.8 174.6,647.8 175.0,641.5 175.4,642.6 175.8,644.7 176.2,649.7 176.6,642.3 177.0,644.5 177.4,647.2 177.8,643.1 178.2,640.7 178.6,638.0 179.0,646.8 179.4,640.6 179.8,644.9 180.2,645.1 180.6,639.7 181.0,644.6 181.4,636.1 181.8,642.7 182.2,639.6 182.6,643.5 183.0,643.3 183.4,643.3 183.8,645.1 184.2,640.6 184.6,637.3 185.0,637.8 185.4,644.8 185.8,637.8 186.2,639.5 186.6,641.5 187.0,639.5 187.4,636.0 187.8,631.8 188.2,642.2 188.6,636.4 189.0,632.6 189.4,635.2 189.8,637.5 190.2,630.3 190.6,637.1 191.0,636.2 191.4,637.6 191.8,635.4 192.2,631.8 192.6,629.6 193.0,634.6 193.4,633.5 193.8,640.7 194.2,633.8 194.6,635.9 195.0,634.3 195.4,627.2 195.8,636.1 196.2,631.0 196.6,627.3 197.0,633.8 197.4,636.7 197.8,631.6 198.2,631.2 198.6,629.7 199.0,630.7 199.4,636.1 199.8,632.1 200.2,632.9 200.6,633.3 201.0,619.7 201.4,631.0 201.8,631.8 202.2,630.0 202.6,623.0 203.0,625.4 203.4,630.6 203.8,629.7 204.2,629.6 204.6,622.8 205.0,628.0 205.4,632.1 205.8,626.4 206.2,631.2 206.6,628.7 207.0,627.9 207.4,621.1 207.8,619.9 208.2,619.2 208.6,626.2 209.0,626.3 209.4,616.0 209.8,614.3 210.2,619.6 210.6,624.3 211.0,619.5 211.4,620.7 211.8,619.3 212.2,618.5 212.6,614.4 213.0,616.0 213.4,615.8 213.8,611.4 214.2,618.2 214.6,604.9 215.0,606.8 215.4,604.0 215.8,611.9 216.2,610.9 216.6,602.0 217.0,605.2 217.4,601.7 217.8,596.6 218.2,598.1 218.6,602.8 219.0,603.4 219.4,596.7 219.8,600.2 220.2,603.7 220.6,605.9 221.0,600.6 221.4,595.1 221.8,591.8 222.2,599.4 222.6,597.4 223.0,596.6 223.4,596.1 223.8,597.2 224.2,600.9 224.6,604.0 225.0,597.7 225.4,610.6 225.8,609.2 226.2,602.1 226.6,605.1 227.0,611.3 227.4,600.9 227.8,603.6 228.2,605.1 228.6,604.3 229.0,613.6 229.4,611.1 229.8,614.0 230.2,615.5 230.6,616.1 231.0,624.9 231.4,619.2 231.8,617.3 232.2,616.6 232.6,620.4 233.0,625.0 233.4,626.2 233.8,628.0 234.2,626.0 234.6,630.2 235.0,631.1 235.4,626.3 235.8,633.4 236.2,634.7 236.6,633.3 237.0,639.2 237.4,636.3 237.8,634.7 238.2,641.6 238.6,645.5 239.0,636.3 239.4,640.6 239.8,644.5 240.2,644.2 240.6,646.2 241.0,647.6 241.4,638.5 241.8,646.9 242.2,640.5 242.6,643.5 243.0,643.6 243.4,648.8 243.8,643.3 244.2,649.4 244.6,645.6 245.0,656.3 245.4,649.6 245.8,651.3 246.2,648.2 246.6,650.6 247.0,656.4 247.4,653.6 247.8,649.6 248.2,651.5 248.6,652.6 249.0,658.0 249.4,653.3 249.8,654.8 250.2,656.6 250.6,660.4 251.0,656.3 251.4,652.3 251.8,653.1 252.2,660.3 252.6,657.2 253.0,651.5 253.4,655.4 253.8,655.7 254.2,655.8 254.6,658.5 255.0,658.8 255.4,660.3 255.8,651.9 256.2,657.7 256.6,656.4 257.0,654.7 257.4,659.9 257.8,654.8 258.2,654.5 258.6,662.1 259.0,659.2 259.4,660.3 259.8,661.5 260.2,654.9 260.6,661.2 261.0,657.5 261.4,658.9 261.8,659.5 262.2,659.3 262.6,657.1 263.0,658.3 263.4,659.1 263.8,661.3 264.2,653.4 264.6,662.6 265.0,656.7 265.4,664.5 265.8,660.2 266.2,663.2 266.6,658.5 267.0,663.2 267.4,659.9 267.8,660.2 268.2,660.2 268.6,652.9 269.0,655.6 269.4,655.3 269.8,659.8 270.2,658.8 270.6,661.3 271.0,660.2 271.4,662.1 271.8,657.3 272.2,659.8 272.6,657.5 273.0,655.8 273.4,653.9 273.8,657.9 274.2,656.3 274.6,657.2 275.0,656.3 275.4,655.7 275.8,665.4 276.2,658.3 276.6,654.4 277.0,657.0 277.4,657.5 277.8,652.8 278.2,659.1 278.6,653.6 279.0,657.5 279.4,654.9 279.8,653.6 280.2,664.6 280.6,654.6 281.0,651.9 281.4,654.2 281.8,652.6 282.2,658.2 282.6,656.0 283.0,651.2 283.4,658.9 283.8,653.2 284.2,649.7 284.6,656.1 285.0,654.8 285.4,649.7 285.8,649.3 286.2,651.8 286.6,650.1 287.0,653.3 287.4,652.1 287.8,647.2 288.2,646.8 288.6,648.8 289.0,653.3 289.4,646.9 289.8,650.1 290.2,645.6 290.6,648.2 291.0,644.0 291.4,646.3 291.8,641.6 292.2,641.3 292.6,649.0 293.0,644.6 293.4,636.4 293.8,644.0 294.2,638.5 294.6,643.3 295.0,633.3 295.4,636.9 295.8,634.6 296.2,632.9 296.6,630.0 297.0,640.7 297.4,632.8 297.8,631.3 298.2,625.5 298.6,635.3 299.0,635.0 299.4,630.3 299.8,625.6 300.2,633.6 300.6,631.3 301.0,626.2 301.4,639.8 301.8,635.3 302.2,629.3 302.6,630.6 303.0,637.0 303.4,639.2 303.8,637.0 304.2,637.5 304.6,634.6 305.0,643.8 305.4,635.5 305.8,637.7 306.2,638.4 306.6,636.0 307.0,640.1 307.4,643.2 307.8,630.2 308.2,637.5 308.6,643.2 309.0,644.2 309.4,638.1 309.8,642.3 310.2,641.3 310.6,641.2 311.0,638.8 311.4,645.0 311.8,645.7 312.2,646.8 312.6,642.5 313.0,642.6 313.4,646.1 313.8,653.0 314.2,641.0 314.6,641.4 315.0,647.0 315.4,637.2 315.8,632.6 316.2,643.8 316.6,644.7 317.0,644.4 317.4,643.3 317.8,643.8 318.2,637.7 318.6,643.9 319.0,637.1 319.4,634.8 319.8,639.5 320.2,635.3 320.6,635.4 321.0,636.9 321.4,637.5 321.8,639.2 322.2,634.7 322.6,635.8 323.0,637.3 323.4,638.6 323.8,639.7 324.2,640.9 324.6,638.6 325.0,639.3 325.4,640.0 325.8,637.3 326.2,637.6 326.6,633.9 327.0,637.8 327.4,640.3 327.8,634.3 328.2,641.5 328.6,635.3 329.0,640.9 329.4,643.4 329.8,638.4 330.2,635.7 330.6,638.9 331.0,636.0 331.4,634.8 331.8,641.5 332.2,630.5 332.6,640.0 333.0,632.9 333.4,638.2 333.8,632.1 334.2,639.7 334.6,630.1 335.0,622.3 335.4,641.1 335.8,628.6 336.2,626.7 336.6,625.5 337.0,622.9 337.4,624.3 337.8,618.6 338.2,630.1 338.6,617.4 339.0,623.4 339.4,627.0 339.8,621.4 340.2,627.6 340.6,623.3 341.0,623.7 341.4,626.6 341.8,636.1 342.2,638.1 342.6,632.5 343.0,641.3 343.4,636.2 343.8,641.7 344.2,645.0 344.6,637.1 345.0,647.6 345.4,645.8 345.8,643.0 346.2,650.9 346.6,650.2 347.0,651.1 347.4,649.6 347.8,649.4 348.2,648.3 348.6,651.7 349.0,649.6 349.4,651.8 349.8,654.9 350.2,656.3 350.6,655.7 351.0,655.9 351.4,654.6 351.8,657.8 352.2,658.8 352.6,654.7 353.0,655.2 353.4,653.5 353.8,655.8 354.2,655.7 354.6,662.1 355.0,660.8 355.4,654.4 355.8,660.4 356.2,658.2 356.6,654.7 357.0,660.2 357.4,658.4 357.8,661.4 358.2,662.2 358.6,659.3 359.0,664.6 359.4,661.2 359.8,659.0 360.2,657.0 360.6,666.5 361.0,659.1 361.4,661.3 361.8,662.1 362.2,663.7 362.6,658.1 363.0,655.6 363.4,661.8 363.8,658.3 364.2,661.5 364.6,667.0 365.0,660.4 365.4,663.4 365.8,659.3 366.2,669.3 366.6,661.7 367.0,663.3 367.4,661.9 367.8,660.6 368.2,664.0 368.6,661.4 369.0,659.9 369.4,661.1 369.8,661.6 370.2,662.4 370.6,662.9 371.0,661.0 371.4,662.0 371.8,668.0 372.2,662.5 372.6,666.7 373.0,662.7 373.4,664.6 373.8,663.0 374.2,659.9 374.6,663.0 375.0,665.9 375.4,667.1 375.8,667.0 376.2,663.2 376.6,663.5 377.0,662.0 377.4,664.8 377.8,665.9 378.2,664.8 378.6,662.6 379.0,665.0 379.4,664.4 379.8,665.5 380.2,664.1 380.6,664.4 381.0,662.4 381.4,662.2 381.8,658.8 382.2,665.1 382.6,665.3 383.0,662.8 383.4,667.6 383.8,667.0 384.2,668.1 384.6,664.0 385.0,663.7 385.4,664.7 385.8,665.6 386.2,666.2 386.6,661.2 387.0,662.9 387.4,658.8 387.8,663.0 388.2,665.7 388.6,665.3 389.0,668.8 389.4,665.7 389.8,663.8 390.2,663.0 390.6,665.6 391.0,668.3 391.4,661.8 391.8,662.3 392.2,664.4 392.6,663.6 393.0,666.1 393.4,662.9 393.8,663.6 394.2,663.1 394.6,663.9 395.0,666.4 395.4,660.6 395.8,660.0 396.2,660.7 396.6,663.3 397.0,664.5 397.4,665.8 397.8,665.3 398.2,665.0 398.6,660.8 399.0,663.1 399.4,665.6 399.8,661.3 400.2,662.6 400.6,662.5 401.0,664.6 401.4,661.5 401.8,659.6 402.2,662.5 402.6,662.5 403.0,664.7 403.4,661.6 403.8,662.8 404.2,661.9 404.6,661.8 405.0,667.5 405.4,656.8 405.8,663.7 406.2,660.9 406.6,662.9 407.0,659.3 407.4,663.1 407.8,660.8 408.2,664.1 408.6,666.0 409.0,660.0 409.4,659.3 409.8,665.6 410.2,667.5 410.6,663.1 411.0,657.9 411.4,659.0 411.8,664.8 412.2,666.7 412.6,661.7 413.0,658.6 413.4,664.3 413.8,658.1 414.2,659.6 414.6,659.9 415.0,659.9 415.4,662.5 415.8,658.7 416.2,661.9 416.6,664.4 417.0,664.2 417.4,664.6 417.8,661.1 418.2,658.0 418.6,662.3 419.0,662.2 419.4,662.4 419.8,660.8 420.2,662.9 420.6,659.8 421.0,664.4 421.4,666.1 421.8,662.7 422.2,662.6 422.6,664.3 423.0,664.0 423.4,664.0 423.8,663.0 424.2,661.9 424.6,666.3 425.0,660.3 425.4,665.4 425.8,661.3 426.2,664.4 426.6,661.7 427.0,660.4 427.4,662.1 427.8,662.2 428.2,667.1 428.6,662.6 429.0,662.2 429.4,661.7 429.8,664.0 430.2,664.3 430.6,666.2 431.0,663.2 431.4,661.8 431.8,664.5 432.2,666.8 432.6,666.3 433.0,662.4 433.4,663.5 433.8,664.9 434.2,662.7 434.6,660.9 435.0,665.0 435.4,664.4 435.8,665.6 436.2,667.2 436.6,664.6 437.0,663.3 437.4,664.3 437.8,667.7 438.2,666.7 438.6,668.1 439.0,665.8 439.4,668.4 439.8,666.0 440.2,665.7 440.6,667.3 441.0,667.2 441.4,667.1 441.8,667.8 442.2,669.7 442.6,666.5 443.0,664.3 443.4,668.8 443.8,672.0 444.2,670.1 444.6,665.5 445.0,668.4 445.4,669.5 445.8,668.8 446.2,670.3 446.6,668.7 447.0,661.6 447.4,668.0 447.8,665.2 448.2,665.0 448.6,664.0 449.0,664.9 449.4,666.9 449.8,669.6 450.2,669.5 450.6,668.3 451.0,669.7 451.4,666.7 451.8,665.7 452.2,670.7 452.6,668.0 453.0,666.3 453.4,669.0 453.8,666.3 454.2,670.8 454.6,665.5 455.0,666.9 455.4,667.9 455.8,668.0 456.2,666.2 456.6,670.2 457.0,669.4 457.4,668.1 457.8,669.2 458.2,667.2 458.6,669.9 459.0,667.2 459.4,666.5 459.8,667.9 460.2,668.3 460.6,669.5 461.0,670.7 461.4,672.1 461.8,666.9 462.2,666.8 462.6,669.9 463.0,671.9 463.4,671.4 463.8,669.3 464.2,669.2 464.6,669.0 465.0,673.1 465.4,669.1 465.8,670.1 466.2,667.5 466.6,671.3 467.0,669.7 467.4,669.2 467.8,669.3 468.2,669.8 468.6,674.9 469.0,671.3 469.4,671.8 469.8,668.9 470.2,667.9 470.6,666.6 471.0,669.7 471.4,670.9 471.8,670.5 472.2,667.4 472.6,671.3 473.0,668.8 473.4,671.9 473.8,669.4 474.2,669.6 474.6,667.9 475.0,667.9 475.4,669.3 475.8,670.4 476.2,670.4 476.6,668.3 477.0,667.2 477.4,670.3 477.8,672.1 478.2,669.7 478.6,670.1 479.0,670.0 479.4,671.4 479.8,672.8 480.2,669.5 480.6,672.2 481.0,673.7 481.4,672.4 481.8,669.8 482.2,668.3 482.6,671.1 483.0,673.2 483.4,672.0 483.8,672.9 484.2,670.2 484.6,671.1 485.0,669.4 485.4,671.7 485.8,670.5 486.2,669.3 486.6,670.1 487.0,671.9 487.4,672.4 487.8,671.9 488.2,674.4 488.6,671.8 489.0,669.1 489.4,672.5 489.8,669.4 490.2,669.1 490.6,672.1 491.0,670.0 491.4,670.9 491.8,670.3 492.2,670.7 492.6,668.0 493.0,672.2 493.4,672.9 493.8,670.2 494.2,672.8 494.6,672.0 495.0,672.6 495.4,672.7 495.8,667.7 496.2,671.3 496.6,669.9 497.0,671.6 497.4,670.0 497.8,674.2 498.2,673.5 498.6,670.6 499.0,671.6 499.4,671.3 499.8,670.7 500.2,672.0 500.6,668.4 501.0,667.3 501.4,671.6 501.8,670.3 502.2,668.9 502.6,668.5 503.0,667.1 503.4,669.7 503.8,667.1 504.2,670.7 504.6,670.7 505.0,669.0 505.4,671.7 505.8,671.0 506.2,670.3 506.6,668.5 507.0,668.5 507.4,667.7 507.8,665.5 508.2,669.2 508.6,670.0 509.0,666.1 509.4,669.7 509.8,668.1 510.2,668.8 510.6,669.8 511.0,670.0 511.4,666.9 511.8,669.4 512.2,667.4 512.6,663.1 513.0,671.5 513.4,667.8 513.8,667.1 514.2,670.4 514.6,668.9 515.0,667.0 515.4,668.4 515.8,668.6 516.2,667.6 516.6,663.5 517.0,667.9 517.4,665.5 517.8,664.8 518.2,666.5 518.6,670.5 519.0,663.9 519.4,666.6 519.8,663.3 520.2,662.4 520.6,664.9 521.0,667.7 521.4,666.6 521.8,666.8 522.2,668.4 522.6,667.1 523.0,665.0 523.4,664.4 523.8,666.3 524.2,667.5 524.6,666.1 525.0,666.0 525.4,664.9 525.8,664.5 526.2,663.5 526.6,663.7 527.0,668.9 527.4,666.7 527.8,667.5 528.2,664.4 528.6,663.7 529.0,666.0 529.4,663.0 529.8,666.4 530.2,664.2 530.6,665.2 531.0,661.4 531.4,666.9 531.8,663.0 532.2,664.0 532.6,660.5 533.0,660.7 533.4,663.6 533.8,658.3 534.2,664.9 534.6,660.5 535.0,663.8 535.4,659.9 535.8,661.0 536.2,660.7 536.6,662.3 537.0,657.7 537.4,660.8 537.8,659.9 538.2,660.9 538.6,657.1 539.0,658.5 539.4,656.6 539.8,657.6 540.2,661.3 540.6,661.7 541.0,656.2 541.4,658.1 541.8,658.4 542.2,655.9 542.6,657.5 543.0,655.9 543.4,659.3 543.8,655.1 544.2,660.5 544.6,651.4 545.0,657.5 545.4,657.3 545.8,653.9 546.2,651.1 546.6,655.8 547.0,652.2 547.4,658.2 547.8,655.9 548.2,655.4 548.6,655.8 549.0,657.1 549.4,655.0 549.8,656.3 550.2,655.3 550.6,652.7 551.0,656.9 551.4,658.1 551.8,656.7 552.2,653.7 552.6,655.4 553.0,650.6 553.4,651.3 553.8,651.5 554.2,652.5 554.6,656.5 555.0,651.9 555.4,652.6 555.8,650.5 556.2,652.6 556.6,649.7 557.0,656.4 557.4,653.5 557.8,656.4 558.2,657.4 558.6,655.1 559.0,655.0 559.4,654.2 559.8,652.9 560.2,648.5 560.6,655.0 561.0,652.7 561.4,651.9 561.8,653.2 562.2,654.7 562.6,656.8 563.0,652.7 563.4,651.8 563.8,657.7 564.2,656.4 564.6,657.1 565.0,654.8 565.4,652.2 565.8,659.5 566.2,659.1 566.6,654.1 567.0,657.1 567.4,659.4 567.8,663.0 568.2,659.7 568.6,658.1 569.0,656.3 569.4,655.6 569.8,656.9 570.2,655.4 570.6,659.2 571.0,657.9 571.4,657.3 571.8,655.3 572.2,658.1 572.6,656.8 573.0,658.8 573.4,655.7 573.8,659.9 574.2,657.9 574.6,663.3 575.0,656.6 575.4,663.3 575.8,665.8 576.2,658.6 576.6,663.8 577.0,661.5 577.4,656.2 577.8,657.8 578.2,661.5 578.6,660.3 579.0,662.2 579.4,661.5 579.8,664.2 580.2,660.4 580.6,658.7 581.0,659.8 581.4,661.5 581.8,659.7 582.2,662.0 582.6,661.7 583.0,661.3 583.4,662.3 583.8,661.5 584.2,665.0 584.6,662.7 585.0,664.5 585.4,659.4 585.8,662.4 586.2,661.4 586.6,658.1 587.0,667.0 587.4,660.0 587.8,665.1 588.2,665.6 588.6,666.4 589.0,663.2 589.4,658.7 589.8,665.9 590.2,664.6 590.6,666.7 591.0,665.0 591.4,668.0 591.8,666.2 592.2,664.3 592.6,670.2 593.0,664.0 593.4,660.5 593.8,665.4 594.2,665.8 594.6,665.9 595.0,663.6 595.4,664.8 595.8,662.9 596.2,664.0 596.6,666.2 597.0,664.0 597.4,666.6 597.8,665.0 598.2,665.7 598.6,664.8 599.0,668.0 599.4,666.4 599.8,664.7 600.2,666.7 600.6,668.8 601.0,667.0 601.4,664.4 601.8,664.8 602.2,664.3 602.6,669.1 603.0,666.9 603.4,668.2 603.8,668.0 604.2,665.7 604.6,668.6 605.0,666.3 605.4,667.5 605.8,663.1 606.2,666.9 606.6,666.1 607.0,665.3 607.4,667.6 607.8,664.6 608.2,666.6 608.6,662.1 609.0,666.4 609.4,665.8 609.8,670.3 610.2,667.3 610.6,668.3 611.0,661.4 611.4,666.3 611.8,664.9 612.2,669.5 612.6,669.1 613.0,667.3 613.4,667.5 613.8,667.7 614.2,667.3 614.6,668.4 615.0,668.6 615.4,667.0 615.8,666.0 616.2,670.5 616.6,666.7 617.0,666.1 617.4,671.6 617.8,667.6 618.2,667.9 618.6,665.8 619.0,666.6 619.4,671.3 619.8,667.8 620.2,670.6 620.6,666.5 621.0,670.2 621.4,669.2 621.8,668.0 622.2,665.1 622.6,670.5 623.0,668.1 623.4,668.2 623.8,669.7 624.2,665.7 624.6,670.2 625.0,669.0 625.4,668.4 625.8,668.5 626.2,666.5 626.6,667.8 627.0,668.3 627.4,666.3 627.8,670.5 628.2,669.6 628.6,670.5 629.0,664.6 629.4,670.0 629.8,665.9 630.2,665.0 630.6,666.1 631.0,669.8 631.4,667.7 631.8,667.3 632.2,668.6 632.6,668.6 633.0,669.0 633.4,668.5 633.8,667.6 634.2,667.8 634.6,663.7 635.0,666.0 635.4,662.0 635.8,665.7 636.2,665.9 636.6,663.9 637.0,664.3 637.4,666.9 637.8,664.1 638.2,664.8 638.6,668.6 639.0,664.8 639.4,666.4 639.8,665.4 640.2,665.7 640.6,666.9 641.0,664.5 641.4,666.2 641.8,663.7 642.2,663.5 642.6,665.9 643.0,663.2 643.4,658.8 643.8,663.9 644.2,667.4 644.6,661.9 645.0,665.9 645.4,663.8 645.8,661.3 646.2,663.9 646.6,659.2 647.0,666.8 647.4,663.3 647.8,664.9 648.2,664.2 648.6,660.5 649.0,662.5 649.4,665.8 649.8,664.9 650.2,662.5 650.6,661.6 651.0,662.7 651.4,659.7 651.8,663.1 652.2,659.0 652.6,660.8 653.0,664.6 653.4,662.9 653.8,661.4 654.2,663.2 654.6,662.4 655.0,663.5 655.4,665.4 655.8,663.1 656.2,660.0 656.6,664.5 657.0,661.6 657.4,666.0 657.8,666.0 658.2,663.6 658.6,664.8 659.0,660.3 659.4,659.3 659.8,662.2 660.2,663.9 660.6,665.9 661.0,661.5 661.4,660.7 661.8,661.1 662.2,661.5 662.6,663.6 663.0,660.5 663.4,665.2 663.8,660.5 664.2,668.3 664.6,663.0 665.0,663.4 665.4,659.4 665.8,663.3 666.2,658.6 666.6,664.6 667.0,661.4 667.4,663.3 667.8,664.0 668.2,664.6 668.6,665.4 669.0,664.7 669.4,664.0 669.8,661.2 670.2,659.8 670.6,663.8 671.0,662.9 671.4,661.2 671.8,662.5 672.2,665.0 672.6,665.1 673.0,661.7 673.4,659.8 673.8,658.3 674.2,661.6 674.6,661.9 675.0,659.5 675.4,664.6 675.8,666.4 676.2,660.8 676.6,664.2 677.0,662.5 677.4,664.2 677.8,663.5 678.2,663.0 678.6,665.2 679.0,664.8 679.4,662.0 679.8,663.8 680.2,661.5 680.6,662.9 681.0,664.2 681.4,663.9 681.8,659.6 682.2,664.4 682.6,660.6 683.0,663.8 683.4,665.0 683.8,660.4 684.2,660.9 684.6,664.8 685.0,663.2 685.4,658.2 685.8,664.9 686.2,661.3 686.6,660.1 687.0,663.1 687.4,661.0 687.8,662.8 688.2,663.6 688.6,668.6 689.0,665.6 689.4,664.4 689.8,664.1 690.2,665.1 690.6,665.9 691.0,663.9 691.4,666.5 691.8,663.9 692.2,664.3 692.6,664.9 693.0,667.0 693.4,666.8 693.8,658.5 694.2,666.6 694.6,664.3 695.0,664.5 695.4,667.7 695.8,663.0 696.2,662.7 696.6,660.7 697.0,662.2 697.4,666.6 697.8,663.8 698.2,663.0 698.6,665.6 699.0,662.2 699.4,663.0 699.8,662.6 700.2,665.2 700.6,663.1 701.0,663.4 701.4,663.8 701.8,660.5 702.2,664.0 702.6,661.2 703.0,662.3 703.4,663.7 703.8,665.1 704.2,664.3 704.6,667.3 705.0,665.4 705.4,666.6 705.8,664.4 706.2,663.7 706.6,668.9 707.0,662.1 707.4,667.7 707.8,663.6 708.2,666.3 708.6,662.2 709.0,665.6 709.4,665.4 709.8,660.2 710.2,663.2 710.6,665.9 711.0,667.0 711.4,665.3 711.8,663.6 712.2,664.0 712.6,661.2 713.0,661.8 713.4,664.5 713.8,663.9 714.2,665.6 714.6,664.6 715.0,665.3 715.4,663.6 715.8,665.5 716.2,669.7 716.6,661.9 717.0,663.9 717.4,662.3 717.8,664.2 718.2,663.7 718.6,661.2 719.0,663.0 719.4,663.0 719.8,662.0 720.2,663.1 720.6,665.7 721.0,664.2 721.4,661.9 721.8,662.9 722.2,666.5 722.6,661.1 723.0,665.3 723.4,661.4 723.8,658.9 724.2,661.1 724.6,663.5 725.0,662.4 725.4,661.2 725.8,661.1 726.2,660.4 726.6,659.9 727.0,660.5 727.4,656.2 727.8,662.4 728.2,661.9 728.6,661.3 729.0,663.1 729.4,659.3 729.8,660.3 730.2,654.1 730.6,660.7 731.0,659.4 731.4,662.0 731.8,662.4 732.2,659.8 732.6,656.9 733.0,661.1 733.4,662.4 733.8,662.6 734.2,659.0 734.6,658.0 735.0,659.1 735.4,657.5 735.8,654.6 736.2,660.7 736.6,660.4 737.0,660.9 737.4,657.3 737.8,659.5 738.2,656.6 738.6,656.0 739.0,660.4 739.4,655.1 739.8,658.7 740.2,665.3 740.6,662.1 741.0,660.6 741.4,660.0 741.8,657.6 742.2,656.6 742.6,663.2 743.0,657.7 743.4,656.6 743.8,659.8 744.2,657.9 744.6,661.5 745.0,656.4 745.4,656.1 745.8,656.9 746.2,661.7 746.6,659.8 747.0,658.1 747.4,657.2 747.8,657.9 748.2,654.1 748.6,658.1 749.0,655.4 749.4,656.9 749.8,656.3 750.2,656.7 750.6,654.4 751.0,657.9 751.4,656.3 751.8,653.6 752.2,656.5 752.6,654.2 753.0,656.1 753.4,656.9 753.8,653.3 754.2,654.7 754.6,655.2 755.0,654.9 755.4,660.2 755.8,656.2 756.2,652.2 756.6,655.6 757.0,653.9 757.4,662.1 757.8,653.3 758.2,651.9 758.6,656.8 759.0,653.2 759.4,653.4 759.8,653.5 760.2,652.2 760.6,652.9 761.0,648.0 761.4,654.2 761.8,656.2 762.2,659.3 762.6,654.5 763.0,656.2 763.4,652.6 763.8,658.4 764.2,660.4 764.6,655.2 765.0,652.9 765.4,653.8 765.8,657.7 766.2,650.2 766.6,657.4 767.0,650.9 767.4,651.0 767.8,654.1 768.2,655.0 768.6,656.0 769.0,657.7 769.4,651.0 769.8,654.0 770.2,655.7 770.6,654.7 771.0,657.7 771.4,654.8 771.8,653.9 772.2,648.9 772.6,649.8 773.0,656.8 773.4,651.9 773.8,656.0 774.2,657.0 774.6,654.8 775.0,657.6 775.4,653.6 775.8,657.1 776.2,655.0 776.6,652.0 777.0,650.8 777.4,655.6 777.8,660.4 778.2,659.5 778.6,657.9 779.0,659.1 779.4,659.6 779.8,656.8 780.2,660.6 780.6,658.0 781.0,655.4 781.4,666.6 781.8,658.5 782.2,656.5 782.6,658.6 783.0,653.6 783.4,653.9 783.8,662.2 784.2,658.7 784.6,654.7 785.0,653.5 785.4,657.6 785.8,655.7 786.2,661.7 786.6,653.6 787.0,661.1 787.4,655.7 787.8,655.6 788.2,659.4 788.6,656.4 789.0,658.4 789.4,658.4 789.8,654.1 790.2,657.6 790.6,661.7 791.0,656.0 791.4,657.5 791.8,658.4 792.2,662.9 792.6,662.8 793.0,664.3 793.4,658.8 793.8,663.1 794.2,661.6 794.6,658.7 795.0,663.8 795.4,663.1 795.8,661.6 796.2,660.7 796.6,659.4 797.0,664.2 797.4,663.9 797.8,662.5 798.2,662.0 798.6,661.5 799.0,664.5 799.4,663.4 799.8,659.1 800.2,663.9 800.6,665.1 801.0,662.8 801.4,663.1 801.8,663.1 802.2,665.5 802.6,663.7 803.0,664.6 803.4,664.9 803.8,667.8 804.2,661.5 804.6,669.9 805.0,662.9 805.4,665.1 805.8,664.2 806.2,666.4 806.6,667.2 807.0,671.2 807.4,669.0 807.8,665.5 808.2,667.5 808.6,667.6 809.0,666.3 809.4,669.0 809.8,668.4 810.2,667.3 810.6,667.1 811.0,670.1 811.4,668.8 811.8,671.2 812.2,670.7 812.6,666.5 813.0,664.8 813.4,668.7 813.8,667.7 814.2,667.2 814.6,667.8 815.0,671.4 815.4,668.6 815.8,672.6 816.2,671.1 816.6,666.7 817.0,670.5 817.4,672.1 817.8,666.0 818.2,667.1 818.6,669.4 819.0,669.0 819.4,673.0 819.8,668.6 820.2,673.1 820.6,668.0 821.0,669.2 821.4,671.2 821.8,671.2 822.2,670.4 822.6,672.8 823.0,672.8 823.4,672.7 823.8,669.2 824.2,670.9 824.6,668.7 825.0,672.2 825.4,665.8 825.8,669.0 826.2,669.7 826.6,669.1 827.0,673.0 827.4,667.8 827.8,668.6 828.2,668.3 828.6,670.0 829.0,668.4 829.4,671.4 829.8,671.0 830.2,665.9 830.6,666.0 831.0,671.0 831.4,670.5 831.8,667.0 832.2,669.6 832.6,668.1 833.0,671.7 833.4,668.2 833.8,669.5 834.2,671.3 834.6,670.6 835.0,672.0 835.4,671.2 835.8,668.2 836.2,670.6 836.6,667.9 837.0,672.4 837.4,672.5 837.8,671.5 838.2,673.4 838.6,671.0 839.0,671.9 839.4,670.9 839.8,671.4 840.2,671.4 840.6,670.8 841.0,673.3 841.4,668.9 841.8,668.2 842.2,669.8 842.6,673.5 843.0,670.6 843.4,669.5 843.8,669.3 844.2,670.8 844.6,670.1 845.0,671.8 845.4,669.2 845.8,671.2 846.2,668.4 846.6,670.5 847.0,674.8 847.4,669.4 847.8,669.7 848.2,671.3 848.6,668.2 849.0,668.9 849.4,668.5 849.8,669.6 850.2,666.9 850.6,671.6 851.0,669.2 851.4,669.4 851.8,669.4 852.2,669.6 852.6,666.0 853.0,672.7 853.4,669.0 853.8,671.9 854.2,670.3 854.6,670.9 855.0,672.2 855.4,674.0 855.8,670.7 856.2,669.9 856.6,671.4 857.0,666.4 857.4,669.1 857.8,668.6 858.2,669.5 858.6,667.7 859.0,671.7 859.4,670.2 859.8,670.9 860.2,670.8 860.6,670.7 861.0,670.4 861.4,673.8 861.8,673.0 862.2,674.5 862.6,671.6 863.0,672.1 863.4,672.2 863.8,671.2 864.2,671.5 864.6,668.5 865.0,669.4 865.4,669.7 865.8,668.8 866.2,671.1 866.6,671.0 867.0,671.0 867.4,669.7 867.8,671.8 868.2,671.5 868.6,670.7 869.0,669.0 869.4,672.7 869.8,668.2 870.2,667.7 870.6,668.5 871.0,672.8 871.4,671.0 871.8,670.2 872.2,667.1 872.6,670.8 873.0,669.2 873.4,667.7 873.8,672.7 874.2,671.0 874.6,672.8 875.0,670.2 875.4,671.1 875.8,669.5 876.2,671.8 876.6,670.5 877.0,671.9 877.4,671.2 877.8,668.9 878.2,670.8 878.6,671.2 879.0,669.7 879.4,670.3 879.8,671.9 880.2,672.4 880.6,670.7 881.0,666.8 881.4,671.8 881.8,673.4 882.2,670.2 882.6,669.1 883.0,671.5 883.4,671.2 883.8,672.1 884.2,669.7 884.6,673.6 885.0,672.7 885.4,669.9 885.8,673.4 886.2,671.4 886.6,672.6 887.0,672.6 887.4,672.0 887.8,672.6 888.2,671.5 888.6,670.2 889.0,671.0 889.4,671.0 889.8,672.2 890.2,671.8 890.6,668.5 891.0,672.6 891.4,670.4 891.8,671.5 892.2,671.6 892.6,670.7 893.0,670.6 893.4,667.5 893.8,672.4 894.2,673.0 894.6,670.5 895.0,669.1 895.4,671.4 895.8,669.8 896.2,673.4 896.6,670.2 897.0,668.9 897.4,669.5 897.8,669.7 898.2,672.2 898.6,670.9 899.0,671.6 899.4,670.3 899.8,673.0 900.2,670.8 900.6,671.1 901.0,673.3 901.4,671.1 901.8,669.8 902.2,670.1 902.6,672.1 903.0,671.1 903.4,669.0 903.8,671.9 904.2,667.6 904.6,666.0 905.0,668.3 905.4,667.1 905.8,670.0 906.2,670.7 906.6,670.1 907.0,669.6 907.4,669.2 907.8,672.5 908.2,668.0 908.6,671.8 909.0,671.3 909.4,670.6 909.8,671.3 910.2,667.7 910.6,672.2 911.0,671.2 911.4,672.5 911.8,667.4 912.2,671.4 912.6,670.6 913.0,666.8 913.4,669.9 913.8,670.8 914.2,669.4 914.6,671.5 915.0,671.7 915.4,670.0 915.8,670.3 916.2,672.0 916.6,669.4 917.0,672.1 917.4,673.4 917.8,671.0 918.2,671.7 918.6,671.2 919.0,672.4 919.4,668.7 919.8,668.4 920.2,670.0 920.6,670.2 921.0,672.7 921.4,673.2 921.8,671.9 922.2,673.2 922.6,670.7 923.0,670.5 923.4,668.9 923.8,673.2 924.2,672.4 924.6,671.5 925.0,669.5 925.4,670.0 925.8,672.4 926.2,671.5 926.6,673.2 927.0,671.6 927.4,670.2 927.8,669.4 928.2,671.1 928.6,673.9 929.0,674.1 929.4,669.7 929.8,671.4 930.2,669.2 930.6,670.8 931.0,665.8 931.4,669.1 931.8,667.7 932.2,673.2 932.6,670.0 933.0,671.2 933.4,670.8 933.8,668.6 934.2,671.9 934.6,672.6 935.0,671.3 935.4,671.5 935.8,672.4 936.2,671.8 936.6,670.6 937.0,667.9 937.4,669.5 937.8,669.6 938.2,672.2 938.6,673.6 939.0,671.8 939.4,673.3 939.8,667.9 940.2,672.2 940.6,670.2 941.0,673.3 941.4,673.8 941.8,673.4 942.2,672.4 942.6,672.9 943.0,674.1 943.4,670.4 943.8,673.8 944.2,670.6 944.6,669.3 945.0,672.6 945.4,672.9 945.8,672.7 946.2,670.9 946.6,672.8 947.0,671.4 947.4,675.9 947.8,672.5 948.2,672.4 948.6,671.0 949.0,673.0 949.4,674.7 949.8,670.7 950.2,671.4 950.6,668.8 951.0,671.6 951.4,674.2 951.8,669.7 952.2,671.0 952.6,670.2 953.0,670.4 953.4,669.9 953.8,670.5 954.2,669.4 954.6,671.4 955.0,672.8 955.4,672.7 955.8,668.3 956.2,673.2 956.6,672.5 957.0,673.2 957.4,670.1 957.8,670.8 958.2,672.7 958.6,674.6 959.0,670.2 959.4,672.2 959.8,672.9 960.2,671.9 960.6,673.0 961.0,671.5 961.4,674.3 961.8,669.6 962.2,672.5 962.6,671.1 963.0,671.8 963.4,670.3 963.8,666.8" fill="none" stroke="#000" stroke-width="1.3" stroke-linejoin="round"/>
<polyline points="54.6,540.7 55.0,547.0 55.4,541.7 55.8,541.5 56.2,543.4 56.6,546.7 57.0,541.3 57.4,544.2 57.8,548.5 58.2,545.0 58.6,543.7 59.0,542.4 59.4,540.4 59.8,547.2 60.2,540.9 60.6,544.0 61.0,546.3 61.4,542.3 61.8,543.2 62.2,546.0 62.6,543.7 63.0,546.3 63.4,546.2 63.8,547.3 64.2,540.8 64.6,544.5 65.0,544.2 65.4,543.7 65.8,540.1 66.2,543.8 66.6,546.7 67.0,546.0 67.4,541.8 67.8,542.8 68.2,542.9 68.6,545.1 69.0,541.4 69.4,541.4 69.8,539.5 70.2,544.9 70.6,547.7 71.0,544.6 71.4,545.1 71.8,545.8 72.2,541.3 72.6,545.3 73.0,547.6 73.4,546.6 73.8,543.9 74.2,542.0 74.6,541.8 75.0,545.8 75.4,541.3 75.8,542.8 76.2,543.1 76.6,541.5 77.0,540.1 77.4,543.0 77.8,540.5 78.2,541.4 78.6,545.7 79.0,544.4 79.4,537.6 79.8,540.4 80.2,545.0 80.6,540.6 81.0,544.6 81.4,544.9 81.8,545.0 82.2,546.7 82.6,539.7 83.0,540.8 83.4,541.6 83.8,541.8 84.2,545.2 84.6,544.5 85.0,541.3 85.4,542.0 85.8,540.0 86.2,542.2 86.6,539.6 87.0,547.4 87.4,545.0 87.8,542.4 88.2,542.7 88.6,545.2 89.0,543.2 89.4,546.1 89.8,543.3 90.2,548.7 90.6,544.5 91.0,540.0 91.4,540.0 91.8,541.2 92.2,546.5 92.6,541.4 93.0,544.4 93.4,538.5 93.8,543.2 94.2,539.3 94.6,540.7 95.0,541.7 95.4,537.9 95.8,547.2 96.2,538.4 96.6,540.0 97.0,545.6 97.4,543.5 97.8,535.1 98.2,542.0 98.6,543.4 99.0,538.5 99.4,540.9 99.8,538.7 100.2,538.5 100.6,544.5 101.0,542.7 101.4,537.8 101.8,536.9 102.2,542.0 102.6,540.2 103.0,538.7 103.4,540.0 103.8,536.0 104.2,536.9 104.6,536.4 105.0,541.3 105.4,537.9 105.8,535.3 106.2,536.0 106.6,540.9 107.0,539.1 107.4,537.1 107.8,537.4 108.2,540.1 108.6,536.9 109.0,536.5 109.4,534.9 109.8,530.1 110.2,538.0 110.6,535.6 111.0,537.5 111.4,543.8 111.8,534.0 112.2,536.7 112.6,533.8 113.0,532.4 113.4,531.7 113.8,532.6 114.2,533.5 114.6,537.9 115.0,533.4 115.4,530.0 115.8,533.6 116.2,527.2 116.6,531.5 117.0,529.3 117.4,526.1 117.8,528.4 118.2,529.6 118.6,527.0 119.0,518.1 119.4,517.6 119.8,522.2 120.2,520.6 120.6,515.5 121.0,521.9 121.4,520.0 121.8,521.6 122.2,517.0 122.6,521.0 123.0,511.0 123.4,510.1 123.8,512.2 124.2,509.6 124.6,500.3 125.0,501.2 125.4,504.9 125.8,501.2 126.2,495.2 126.6,494.4 127.0,493.2 127.4,490.6 127.8,491.1 128.2,489.6 128.6,480.4 129.0,492.5 129.4,480.5 129.8,476.4 130.2,484.1 130.6,472.4 131.0,464.1 131.4,461.2 131.8,462.3 132.2,459.7 132.6,451.6 133.0,456.5 133.4,451.4 133.8,461.2 134.2,454.3 134.6,445.1 135.0,453.1 135.4,444.0 135.8,431.2 136.2,440.6 136.6,447.5 137.0,438.0 137.4,432.3 137.8,435.1 138.2,430.0 138.6,435.9 139.0,433.4 139.4,429.0 139.8,435.2 140.2,440.1 140.6,431.7 141.0,437.6 141.4,435.0 141.8,429.5 142.2,432.0 142.6,441.7 143.0,436.7 143.4,442.0 143.8,429.0 144.2,445.0 144.6,432.4 145.0,455.4 145.4,447.7 145.8,452.8 146.2,445.9 146.6,451.2 147.0,447.5 147.4,450.0 147.8,457.9 148.2,456.7 148.6,459.0 149.0,461.7 149.4,471.6 149.8,471.6 150.2,478.1 150.6,468.9 151.0,468.9 151.4,474.8 151.8,479.2 152.2,470.8 152.6,482.4 153.0,479.5 153.4,485.2 153.8,485.8 154.2,484.6 154.6,484.0 155.0,487.9 155.4,495.5 155.8,483.7 156.2,493.5 156.6,493.3 157.0,494.3 157.4,497.6 157.8,499.8 158.2,499.2 158.6,505.8 159.0,500.1 159.4,511.8 159.8,496.3 160.2,511.6 160.6,504.6 161.0,502.2 161.4,504.6 161.8,507.1 162.2,510.9 162.6,511.3 163.0,517.4 163.4,512.9 163.8,513.3 164.2,514.1 164.6,518.2 165.0,517.4 165.4,523.4 165.8,516.5 166.2,517.8 166.6,518.3 167.0,517.7 167.4,519.7 167.8,518.8 168.2,514.8 168.6,517.0 169.0,519.3 169.4,514.6 169.8,521.0 170.2,526.3 170.6,525.3 171.0,519.0 171.4,519.4 171.8,522.9 172.2,522.1 172.6,527.1 173.0,526.1 173.4,526.6 173.8,524.9 174.2,529.2 174.6,527.4 175.0,535.2 175.4,529.3 175.8,527.8 176.2,526.7 176.6,525.9 177.0,524.7 177.4,528.5 177.8,529.8 178.2,533.2 178.6,529.5 179.0,531.9 179.4,530.0 179.8,528.5 180.2,530.8 180.6,530.7 181.0,528.3 181.4,528.1 181.8,528.1 182.2,521.9 182.6,529.0 183.0,523.3 183.4,534.8 183.8,526.9 184.2,528.6 184.6,528.8 185.0,522.0 185.4,532.4 185.8,525.4 186.2,530.6 186.6,531.5 187.0,529.8 187.4,517.0 187.8,522.0 188.2,523.9 188.6,521.1 189.0,524.8 189.4,530.2 189.8,529.0 190.2,523.1 190.6,520.5 191.0,526.2 191.4,526.1 191.8,522.4 192.2,520.0 192.6,528.4 193.0,528.6 193.4,526.9 193.8,524.9 194.2,520.9 194.6,523.2 195.0,517.9 195.4,526.9 195.8,517.2 196.2,517.7 196.6,519.1 197.0,518.8 197.4,524.4 197.8,521.4 198.2,515.3 198.6,518.9 199.0,518.5 199.4,522.4 199.8,510.3 200.2,513.9 200.6,511.8 201.0,516.1 201.4,518.4 201.8,513.9 202.2,522.7 202.6,510.1 203.0,514.0 203.4,510.5 203.8,506.9 204.2,510.4 204.6,512.0 205.0,508.1 205.4,507.8 205.8,509.9 206.2,506.6 206.6,512.2 207.0,510.1 207.4,507.7 207.8,510.8 208.2,496.4 208.6,501.0 209.0,509.4 209.4,499.5 209.8,506.7 210.2,503.6 210.6,501.4 211.0,498.9 211.4,493.5 211.8,491.0 212.2,488.9 212.6,497.4 213.0,493.9 213.4,494.6 213.8,487.4 214.2,491.6 214.6,495.6 215.0,486.3 215.4,486.2 215.8,485.9 216.2,496.4 216.6,491.3 217.0,494.8 217.4,497.9 217.8,483.7 218.2,485.5 218.6,471.7 219.0,483.7 219.4,480.4 219.8,483.2 220.2,483.2 220.6,471.2 221.0,482.7 221.4,478.0 221.8,473.7 222.2,477.0 222.6,484.0 223.0,476.6 223.4,486.4 223.8,481.9 224.2,479.1 224.6,474.8 225.0,476.2 225.4,486.9 225.8,481.9 226.2,483.8 226.6,484.7 227.0,488.7 227.4,489.2 227.8,484.8 228.2,489.0 228.6,487.9 229.0,492.4 229.4,484.4 229.8,491.9 230.2,500.2 230.6,489.9 231.0,494.1 231.4,499.3 231.8,494.3 232.2,500.7 232.6,503.2 233.0,506.5 233.4,505.3 233.8,507.2 234.2,505.7 234.6,510.1 235.0,512.0 235.4,514.2 235.8,516.8 236.2,517.9 236.6,518.8 237.0,518.4 237.4,518.7 237.8,517.5 238.2,522.3 238.6,525.1 239.0,519.8 239.4,524.6 239.8,523.2 240.2,524.0 240.6,522.3 241.0,525.6 241.4,529.9 241.8,530.5 242.2,532.5 242.6,528.9 243.0,525.0 243.4,534.7 243.8,532.7 244.2,535.2 244.6,539.3 245.0,537.2 245.4,528.1 245.8,533.6 246.2,534.2 246.6,540.3 247.0,533.3 247.4,534.9 247.8,539.1 248.2,531.1 248.6,535.2 249.0,533.1 249.4,534.0 249.8,538.5 250.2,537.5 250.6,537.3 251.0,538.0 251.4,537.5 251.8,538.7 252.2,540.5 252.6,536.9 253.0,539.4 253.4,538.3 253.8,542.2 254.2,543.2 254.6,541.4 255.0,542.4 255.4,538.4 255.8,538.4 256.2,540.5 256.6,539.6 257.0,542.2 257.4,540.6 257.8,537.9 258.2,539.0 258.6,542.5 259.0,547.8 259.4,542.5 259.8,537.9 260.2,542.0 260.6,539.3 261.0,537.7 261.4,547.5 261.8,547.0 262.2,540.5 262.6,540.8 263.0,540.1 263.4,542.6 263.8,542.9 264.2,543.9 264.6,538.3 265.0,540.9 265.4,543.9 265.8,542.9 266.2,538.7 266.6,542.3 267.0,545.3 267.4,537.7 267.8,546.8 268.2,542.6 268.6,546.4 269.0,544.9 269.4,543.3 269.8,542.6 270.2,542.6 270.6,541.4 271.0,543.4 271.4,544.0 271.8,539.5 272.2,541.8 272.6,537.5 273.0,539.5 273.4,541.4 273.8,544.5 274.2,543.0 274.6,543.1 275.0,541.5 275.4,539.2 275.8,544.1 276.2,543.5 276.6,538.4 277.0,540.2 277.4,541.6 277.8,537.9 278.2,538.5 278.6,541.8 279.0,541.3 279.4,543.5 279.8,540.4 280.2,542.8 280.6,542.6 281.0,546.5 281.4,539.6 281.8,541.4 282.2,538.4 282.6,542.3 283.0,542.4 283.4,544.3 283.8,539.0 284.2,541.5 284.6,539.1 285.0,542.8 285.4,537.9 285.8,536.8 286.2,539.3 286.6,536.2 287.0,534.5 287.4,531.0 287.8,537.1 288.2,539.1 288.6,535.5 289.0,537.9 289.4,533.3 289.8,536.4 290.2,536.3 290.6,531.7 291.0,528.0 291.4,531.0 291.8,531.2 292.2,532.7 292.6,523.4 293.0,534.1 293.4,530.7 293.8,527.2 294.2,524.2 294.6,525.0 295.0,528.2 295.4,528.0 295.8,527.4 296.2,520.1 296.6,523.2 297.0,524.0 297.4,522.7 297.8,520.5 298.2,522.5 298.6,525.5 299.0,516.3 299.4,524.7 299.8,516.6 300.2,516.3 300.6,516.2 301.0,523.0 301.4,521.8 301.8,524.3 302.2,517.8 302.6,516.3 303.0,528.3 303.4,523.0 303.8,512.7 304.2,517.9 304.6,521.8 305.0,527.1 305.4,528.7 305.8,518.5 306.2,524.9 306.6,521.8 307.0,521.5 307.4,520.9 307.8,518.3 308.2,519.4 308.6,521.3 309.0,524.5 309.4,518.6 309.8,528.7 310.2,522.7 310.6,527.0 311.0,521.0 311.4,520.6 311.8,528.8 312.2,527.0 312.6,518.3 313.0,526.5 313.4,519.2 313.8,526.0 314.2,526.7 314.6,523.5 315.0,521.8 315.4,521.6 315.8,521.5 316.2,518.3 316.6,521.8 317.0,517.2 317.4,512.1 317.8,518.2 318.2,522.5 318.6,518.3 319.0,512.1 319.4,508.4 319.8,507.8 320.2,514.1 320.6,510.9 321.0,503.7 321.4,508.0 321.8,512.4 322.2,506.1 322.6,505.6 323.0,502.3 323.4,497.2 323.8,507.7 324.2,506.3 324.6,506.2 325.0,508.1 325.4,502.5 325.8,500.7 326.2,504.4 326.6,497.0 327.0,493.2 327.4,499.7 327.8,498.5 328.2,497.5 328.6,501.5 329.0,504.1 329.4,498.4 329.8,492.3 330.2,493.3 330.6,496.8 331.0,499.7 331.4,500.3 331.8,502.4 332.2,509.0 332.6,495.7 333.0,504.0 333.4,498.5 333.8,499.8 334.2,497.2 334.6,503.1 335.0,501.6 335.4,503.9 335.8,505.8 336.2,489.9 336.6,495.3 337.0,498.7 337.4,498.2 337.8,495.1 338.2,488.3 338.6,500.6 339.0,486.8 339.4,496.7 339.8,492.0 340.2,494.9 340.6,502.6 341.0,497.9 341.4,507.2 341.8,506.2 342.2,503.2 342.6,509.5 343.0,512.8 343.4,516.7 343.8,519.9 344.2,512.8 344.6,516.7 345.0,518.5 345.4,517.6 345.8,531.0 346.2,524.2 346.6,525.9 347.0,526.9 347.4,527.1 347.8,533.5 348.2,532.3 348.6,530.4 349.0,532.5 349.4,535.0 349.8,535.2 350.2,537.6 350.6,539.4 351.0,534.4 351.4,533.7 351.8,535.6 352.2,537.9 352.6,536.0 353.0,539.1 353.4,535.6 353.8,539.6 354.2,541.0 354.6,538.1 355.0,542.8 355.4,545.5 355.8,533.5 356.2,539.9 356.6,541.9 357.0,544.4 357.4,539.5 357.8,542.5 358.2,546.3 358.6,543.4 359.0,541.2 359.4,541.2 359.8,543.4 360.2,543.8 360.6,543.8 361.0,543.2 361.4,538.4 361.8,541.9 362.2,543.7 362.6,545.0 363.0,546.1 363.4,543.5 363.8,546.7 364.2,548.8 364.6,546.7 365.0,547.3 365.4,544.5 365.8,542.8 366.2,546.4 366.6,546.4 367.0,548.1 367.4,545.4 367.8,544.2 368.2,544.2 368.6,547.0 369.0,541.9 369.4,549.5 369.8,545.5 370.2,546.4 370.6,545.5 371.0,549.5 371.4,543.0 371.8,547.4 372.2,547.1 372.6,549.0 373.0,548.3 373.4,544.5 373.8,543.5 374.2,542.5 374.6,546.5 375.0,548.0 375.4,547.6 375.8,546.2 376.2,548.4 376.6,544.1 377.0,549.7 377.4,550.3 377.8,550.1 378.2,549.0 378.6,551.6 379.0,544.5 379.4,545.6 379.8,547.9 380.2,547.9 380.6,547.3 381.0,548.9 381.4,546.5 381.8,551.1 382.2,547.5 382.6,542.4 383.0,545.9 383.4,545.3 383.8,543.8 384.2,548.9 384.6,545.0 385.0,543.7 385.4,546.6 385.8,551.4 386.2,547.5 386.6,552.3 387.0,549.6 387.4,552.1 387.8,550.0 388.2,549.5 388.6,541.7 389.0,545.4 389.4,545.5 389.8,547.7 390.2,550.1 390.6,549.5 391.0,549.5 391.4,543.6 391.8,545.6 392.2,547.4 392.6,549.0 393.0,548.2 393.4,546.2 393.8,545.1 394.2,550.7 394.6,546.1 395.0,547.9 395.4,548.3 395.8,549.1 396.2,546.3 396.6,545.2 397.0,547.1 397.4,545.4 397.8,547.3 398.2,543.9 398.6,546.4 399.0,544.4 399.4,551.8 399.8,542.9 400.2,545.8 400.6,546.1 401.0,545.9 401.4,544.2 401.8,544.5 402.2,546.4 402.6,550.2 403.0,550.1 403.4,551.3 403.8,546.2 404.2,548.2 404.6,550.3 405.0,548.7 405.4,547.8 405.8,547.1 406.2,548.7 406.6,545.2 407.0,546.8 407.4,543.6 407.8,546.9 408.2,546.5 408.6,545.1 409.0,542.2 409.4,544.9 409.8,548.9 410.2,543.4 410.6,545.6 411.0,540.7 411.4,542.3 411.8,544.9 412.2,546.9 412.6,546.8 413.0,543.3 413.4,549.3 413.8,538.7 414.2,541.6 414.6,548.2 415.0,548.4 415.4,549.3 415.8,543.1 416.2,541.3 416.6,540.9 417.0,542.1 417.4,545.1 417.8,543.1 418.2,542.8 418.6,545.3 419.0,543.1 419.4,543.7 419.8,547.2 420.2,542.2 420.6,544.1 421.0,541.9 421.4,545.4 421.8,540.8 422.2,541.5 422.6,545.6 423.0,539.2 423.4,548.3 423.8,545.5 424.2,544.0 424.6,543.7 425.0,545.9 425.4,545.8 425.8,542.4 426.2,544.9 426.6,543.4 427.0,544.6 427.4,545.9 427.8,546.1 428.2,545.2 428.6,545.7 429.0,545.3 429.4,545.8 429.8,550.5 430.2,549.7 430.6,544.4 431.0,541.5 431.4,548.4 431.8,551.2 432.2,546.9 432.6,548.2 433.0,547.4 433.4,547.9 433.8,546.1 434.2,547.2 434.6,546.8 435.0,546.4 435.4,547.3 435.8,543.7 436.2,549.3 436.6,547.1 437.0,547.5 437.4,545.7 437.8,542.9 438.2,547.4 438.6,546.7 439.0,542.5 439.4,550.2 439.8,551.3 440.2,547.7 440.6,549.4 441.0,551.4 441.4,549.5 441.8,542.1 442.2,551.5 442.6,545.0 443.0,548.3 443.4,552.5 443.8,547.7 444.2,546.8 444.6,549.9 445.0,549.7 445.4,545.2 445.8,552.7 446.2,549.4 446.6,548.9 447.0,549.6 447.4,549.2 447.8,551.8 448.2,548.4 448.6,547.6 449.0,550.3 449.4,550.0 449.8,551.0 450.2,548.0 450.6,550.3 451.0,551.0 451.4,547.5 451.8,550.7 452.2,549.5 452.6,552.4 453.0,552.7 453.4,550.2 453.8,547.4 454.2,550.1 454.6,548.5 455.0,548.8 455.4,553.1 455.8,551.8 456.2,550.3 456.6,549.2 457.0,551.6 457.4,553.7 457.8,552.2 458.2,551.2 458.6,551.0 459.0,553.0 459.4,551.9 459.8,551.2 460.2,546.4 460.6,552.1 461.0,551.2 461.4,550.6 461.8,552.9 462.2,549.4 462.6,551.8 463.0,551.6 463.4,548.4 463.8,550.8 464.2,551.0 464.6,553.0 465.0,552.4 465.4,551.7 465.8,553.3 466.2,548.3 466.6,551.5 467.0,550.5 467.4,553.2 467.8,556.1 468.2,554.3 468.6,554.6 469.0,554.4 469.4,555.7 469.8,550.6 470.2,553.5 470.6,551.5 471.0,552.2 471.4,554.3 471.8,554.2 472.2,552.2 472.6,554.3 473.0,552.3 473.4,552.3 473.8,552.5 474.2,552.2 474.6,554.2 475.0,553.7 475.4,551.4 475.8,552.0 476.2,551.0 476.6,552.7 477.0,552.0 477.4,552.4 477.8,549.7 478.2,551.9 478.6,550.6 479.0,549.9 479.4,552.1 479.8,552.1 480.2,554.1 480.6,553.9 481.0,552.9 481.4,553.8 481.8,553.6 482.2,553.1 482.6,552.0 483.0,555.2 483.4,554.7 483.8,554.6 484.2,550.9 484.6,551.3 485.0,553.5 485.4,554.5 485.8,553.2 486.2,554.7 486.6,550.9 487.0,553.9 487.4,549.3 487.8,551.3 488.2,551.1 488.6,554.2 489.0,551.8 489.4,552.4 489.8,554.0 490.2,551.5 490.6,554.1 491.0,550.9 491.4,555.1 491.8,550.7 492.2,550.1 492.6,553.1 493.0,554.7 493.4,548.6 493.8,553.7 494.2,554.1 494.6,552.7 495.0,549.6 495.4,550.2 495.8,553.0 496.2,548.0 496.6,554.3 497.0,555.5 497.4,549.6 497.8,550.0 498.2,553.6 498.6,551.0 499.0,553.2 499.4,551.2 499.8,551.2 500.2,551.7 500.6,553.7 501.0,553.7 501.4,552.5 501.8,555.0 502.2,555.2 502.6,553.7 503.0,550.0 503.4,551.2 503.8,552.2 504.2,553.1 504.6,554.6 505.0,550.6 505.4,553.9 505.8,549.1 506.2,551.9 506.6,550.0 507.0,550.6 507.4,553.4 507.8,550.2 508.2,551.0 508.6,553.8 509.0,551.0 509.4,548.2 509.8,548.5 510.2,549.5 510.6,550.8 511.0,551.1 511.4,547.5 511.8,548.4 512.2,548.7 512.6,551.4 513.0,551.7 513.4,550.9 513.8,552.2 514.2,550.5 514.6,550.9 515.0,553.2 515.4,552.1 515.8,549.1 516.2,549.2 516.6,552.1 517.0,549.7 517.4,548.4 517.8,550.7 518.2,546.5 518.6,549.7 519.0,547.8 519.4,549.5 519.8,553.2 520.2,549.1 520.6,546.0 521.0,544.3 521.4,548.0 521.8,547.3 522.2,544.6 522.6,546.0 523.0,546.9 523.4,544.4 523.8,546.4 524.2,547.7 524.6,545.4 525.0,549.9 525.4,544.6 525.8,544.1 526.2,549.3 526.6,545.6 527.0,544.6 527.4,543.8 527.8,546.8 528.2,543.8 528.6,543.5 529.0,540.5 529.4,541.3 529.8,543.4 530.2,540.8 530.6,542.7 531.0,546.5 531.4,544.0 531.8,546.2 532.2,541.2 532.6,545.0 533.0,542.2 533.4,544.9 533.8,539.9 534.2,542.7 534.6,544.5 535.0,541.8 535.4,542.0 535.8,540.5 536.2,534.6 536.6,538.3 537.0,538.7 537.4,543.0 537.8,541.2 538.2,537.9 538.6,543.2 539.0,541.7 539.4,536.2 539.8,543.4 540.2,540.8 540.6,546.6 541.0,541.8 541.4,534.7 541.8,542.0 542.2,539.5 542.6,537.6 543.0,539.6 543.4,540.8 543.8,537.9 544.2,536.4 544.6,540.5 545.0,539.7 545.4,535.1 545.8,542.0 546.2,537.3 546.6,543.2 547.0,541.8 547.4,537.2 547.8,539.8 548.2,534.4 548.6,537.6 549.0,532.4 549.4,534.3 549.8,537.1 550.2,539.0 550.6,539.8 551.0,540.7 551.4,540.2 551.8,536.4 552.2,537.6 552.6,535.7 553.0,537.7 553.4,532.8 553.8,535.8 554.2,541.9 554.6,538.3 555.0,535.9 555.4,539.7 555.8,538.5 556.2,537.3 556.6,536.2 557.0,534.7 557.4,537.5 557.8,538.1 558.2,537.9 558.6,541.8 559.0,537.7 559.4,538.5 559.8,541.6 560.2,540.4 560.6,532.4 561.0,537.5 561.4,535.1 561.8,536.5 562.2,541.7 562.6,543.4 563.0,540.2 563.4,532.7 563.8,537.5 564.2,538.2 564.6,537.9 565.0,543.7 565.4,540.2 565.8,540.9 566.2,539.6 566.6,542.1 567.0,539.6 567.4,536.8 567.8,540.5 568.2,539.0 568.6,537.0 569.0,535.7 569.4,539.6 569.8,540.7 570.2,546.1 570.6,539.8 571.0,540.1 571.4,541.9 571.8,544.0 572.2,538.9 572.6,542.0 573.0,546.0 573.4,546.9 573.8,540.8 574.2,538.5 574.6,542.4 575.0,542.2 575.4,545.5 575.8,545.3 576.2,543.2 576.6,541.1 577.0,544.4 577.4,542.0 577.8,542.0 578.2,544.4 578.6,549.0 579.0,549.0 579.4,548.1 579.8,540.8 580.2,546.0 580.6,542.4 581.0,545.3 581.4,546.3 581.8,545.9 582.2,543.3 582.6,542.5 583.0,546.7 583.4,548.2 583.8,543.5 584.2,543.7 584.6,545.4 585.0,544.5 585.4,548.4 585.8,548.5 586.2,548.0 586.6,545.1 587.0,544.3 587.4,545.9 587.8,547.0 588.2,548.9 588.6,548.3 589.0,546.2 589.4,548.5 589.8,549.0 590.2,547.0 590.6,545.2 591.0,548.4 591.4,549.5 591.8,548.8 592.2,545.1 592.6,548.8 593.0,548.2 593.4,547.7 593.8,548.0 594.2,547.3 594.6,547.2 595.0,549.1 595.4,548.5 595.8,549.0 596.2,546.0 596.6,549.0 597.0,551.8 597.4,546.2 597.8,548.8 598.2,548.7 598.6,549.7 599.0,550.8 599.4,547.9 599.8,551.1 600.2,550.7 600.6,548.9 601.0,551.2 601.4,552.3 601.8,552.8 602.2,549.7 602.6,552.0 603.0,550.2 603.4,548.5 603.8,555.0 604.2,552.6 604.6,552.0 605.0,550.2 605.4,551.2 605.8,549.8 606.2,554.3 606.6,549.5 607.0,550.7 607.4,552.4 607.8,550.6 608.2,552.5 608.6,551.0 609.0,550.3 609.4,550.5 609.8,546.5 610.2,552.5 610.6,551.9 611.0,551.4 611.4,550.5 611.8,548.2 612.2,550.7 612.6,549.0 613.0,549.8 613.4,548.7 613.8,550.4 614.2,553.1 614.6,552.2 615.0,549.6 615.4,549.6 615.8,553.1 616.2,550.6 616.6,552.6 617.0,554.3 617.4,552.7 617.8,548.7 618.2,546.1 618.6,553.7 619.0,548.1 619.4,547.9 619.8,549.6 620.2,549.8 620.6,551.6 621.0,549.2 621.4,548.7 621.8,552.1 622.2,548.5 622.6,555.6 623.0,547.3 623.4,550.1 623.8,552.3 624.2,549.6 624.6,546.0 625.0,549.0 625.4,551.5 625.8,547.7 626.2,545.6 626.6,549.1 627.0,544.6 627.4,550.0 627.8,550.6 628.2,549.6 628.6,546.8 629.0,551.2 629.4,551.2 629.8,551.2 630.2,547.6 630.6,549.1 631.0,546.4 631.4,550.5 631.8,546.4 632.2,544.8 632.6,547.0 633.0,549.0 633.4,547.1 633.8,546.7 634.2,544.8 634.6,547.2 635.0,546.7 635.4,546.7 635.8,546.0 636.2,546.3 636.6,544.4 637.0,550.4 637.4,542.3 637.8,546.4 638.2,548.3 638.6,541.3 639.0,541.4 639.4,546.8 639.8,550.8 640.2,547.0 640.6,543.6 641.0,543.2 641.4,543.3 641.8,541.4 642.2,543.0 642.6,546.6 643.0,543.8 643.4,545.2 643.8,546.1 644.2,542.4 644.6,543.3 645.0,544.2 645.4,541.9 645.8,543.8 646.2,545.4 646.6,543.9 647.0,540.0 647.4,544.9 647.8,543.4 648.2,543.2 648.6,540.6 649.0,543.5 649.4,543.3 649.8,541.7 650.2,541.0 650.6,542.4 651.0,537.8 651.4,543.3 651.8,541.6 652.2,545.5 652.6,538.2 653.0,541.2 653.4,543.3 653.8,543.0 654.2,541.1 654.6,544.4 655.0,540.5 655.4,542.9 655.8,541.1 656.2,540.5 656.6,539.1 657.0,539.3 657.4,539.7 657.8,542.2 658.2,539.9 658.6,538.7 659.0,542.9 659.4,541.8 659.8,543.1 660.2,542.2 660.6,546.1 661.0,543.5 661.4,542.0 661.8,542.4 662.2,543.9 662.6,542.1 663.0,543.4 663.4,540.8 663.8,545.0 664.2,540.9 664.6,533.0 665.0,543.1 665.4,541.1 665.8,541.1 666.2,542.8 666.6,534.7 667.0,537.6 667.4,541.7 667.8,538.9 668.2,544.2 668.6,543.8 669.0,541.4 669.4,544.9 669.8,538.3 670.2,542.9 670.6,545.0 671.0,546.1 671.4,543.9 671.8,545.9 672.2,543.5 672.6,542.5 673.0,543.7 673.4,548.8 673.8,548.1 674.2,544.3 674.6,544.9 675.0,545.3 675.4,540.8 675.8,543.2 676.2,544.6 676.6,542.9 677.0,544.4 677.4,542.4 677.8,545.0 678.2,547.6 678.6,545.3 679.0,547.2 679.4,544.9 679.8,543.8 680.2,545.8 680.6,541.6 681.0,543.8 681.4,545.0 681.8,544.2 682.2,546.8 682.6,544.2 683.0,548.1 683.4,547.7 683.8,546.2 684.2,544.5 684.6,543.7 685.0,547.4 685.4,545.7 685.8,552.4 686.2,548.7 686.6,550.0 687.0,545.0 687.4,547.0 687.8,546.1 688.2,542.0 688.6,547.8 689.0,546.5 689.4,547.1 689.8,548.7 690.2,550.5 690.6,549.9 691.0,552.3 691.4,547.5 691.8,550.9 692.2,547.8 692.6,549.0 693.0,551.5 693.4,550.2 693.8,549.2 694.2,549.3 694.6,550.5 695.0,551.4 695.4,550.1 695.8,547.9 696.2,550.4 696.6,548.4 697.0,549.1 697.4,549.2 697.8,550.4 698.2,548.9 698.6,548.1 699.0,545.6 699.4,545.6 699.8,549.0 700.2,547.0 700.6,550.2 701.0,548.5 701.4,549.3 701.8,549.1 702.2,554.2 702.6,551.1 703.0,550.8 703.4,551.5 703.8,545.6 704.2,548.5 704.6,552.6 705.0,552.3 705.4,547.6 705.8,544.8 706.2,546.2 706.6,549.5 707.0,547.7 707.4,550.0 707.8,547.2 708.2,548.6 708.6,549.6 709.0,548.1 709.4,547.6 709.8,547.4 710.2,548.3 710.6,548.7 711.0,551.1 711.4,549.3 711.8,547.5 712.2,546.2 712.6,547.1 713.0,549.3 713.4,548.7 713.8,551.1 714.2,548.0 714.6,546.7 715.0,550.4 715.4,549.7 715.8,550.2 716.2,544.9 716.6,547.5 717.0,548.2 717.4,548.3 717.8,542.8 718.2,548.0 718.6,547.7 719.0,550.1 719.4,547.1 719.8,547.7 720.2,546.8 720.6,545.0 721.0,548.4 721.4,551.1 721.8,545.0 722.2,550.4 722.6,550.8 723.0,544.2 723.4,544.4 723.8,545.4 724.2,544.8 724.6,545.5 725.0,545.0 725.4,546.5 725.8,547.8 726.2,548.1 726.6,545.6 727.0,543.8 727.4,547.3 727.8,547.4 728.2,543.7 728.6,546.2 729.0,542.5 729.4,543.3 729.8,545.1 730.2,544.2 730.6,547.1 731.0,544.2 731.4,545.1 731.8,547.3 732.2,541.1 732.6,546.1 733.0,547.4 733.4,544.5 733.8,547.5 734.2,542.5 734.6,542.9 735.0,541.7 735.4,548.5 735.8,542.8 736.2,546.0 736.6,540.5 737.0,546.3 737.4,541.2 737.8,542.4 738.2,538.1 738.6,541.1 739.0,546.1 739.4,540.4 739.8,547.3 740.2,549.0 740.6,543.6 741.0,540.6 741.4,542.8 741.8,544.3 742.2,539.0 742.6,542.3 743.0,544.5 743.4,545.2 743.8,539.6 744.2,543.5 744.6,543.7 745.0,546.1 745.4,544.0 745.8,545.5 746.2,544.1 746.6,540.5 747.0,549.1 747.4,544.1 747.8,543.1 748.2,541.5 748.6,546.3 749.0,542.1 749.4,543.5 749.8,542.7 750.2,541.7 750.6,538.1 751.0,540.6 751.4,546.7 751.8,542.5 752.2,540.5 752.6,540.1 753.0,540.0 753.4,541.2 753.8,541.7 754.2,546.0 754.6,543.1 755.0,546.5 755.4,537.9 755.8,541.4 756.2,536.7 756.6,535.9 757.0,541.9 757.4,536.4 757.8,541.1 758.2,538.5 758.6,543.5 759.0,543.8 759.4,536.6 759.8,542.8 760.2,540.9 760.6,542.4 761.0,539.9 761.4,544.2 761.8,543.5 762.2,540.8 762.6,536.9 763.0,535.2 763.4,543.9 763.8,542.0 764.2,537.7 764.6,539.0 765.0,548.6 765.4,539.5 765.8,543.3 766.2,546.0 766.6,548.7 767.0,543.9 767.4,544.5 767.8,540.3 768.2,544.7 768.6,543.5 769.0,540.4 769.4,540.3 769.8,546.1 770.2,545.3 770.6,548.9 771.0,541.4 771.4,537.2 771.8,547.6 772.2,544.0 772.6,546.9 773.0,540.7 773.4,541.6 773.8,546.4 774.2,541.0 774.6,542.6 775.0,543.2 775.4,545.5 775.8,546.0 776.2,541.4 776.6,545.7 777.0,543.0 777.4,543.7 777.8,544.6 778.2,546.9 778.6,544.3 779.0,545.8 779.4,542.8 779.8,541.5 780.2,542.7 780.6,546.3 781.0,546.0 781.4,546.0 781.8,542.6 782.2,543.8 782.6,545.9 783.0,547.4 783.4,547.1 783.8,545.1 784.2,544.4 784.6,542.4 785.0,545.0 785.4,548.5 785.8,545.8 786.2,545.2 786.6,547.5 787.0,553.0 787.4,545.5 787.8,544.5 788.2,542.9 788.6,542.1 789.0,547.8 789.4,548.0 789.8,546.0 790.2,548.4 790.6,549.3 791.0,546.8 791.4,548.9 791.8,550.6 792.2,545.8 792.6,548.9 793.0,549.0 793.4,544.7 793.8,553.9 794.2,550.8 794.6,552.7 795.0,546.0 795.4,548.9 795.8,551.6 796.2,548.2 796.6,554.4 797.0,547.5 797.4,549.7 797.8,549.4 798.2,546.6 798.6,549.0 799.0,549.6 799.4,547.2 799.8,548.6 800.2,551.5 800.6,551.7 801.0,550.9 801.4,551.3 801.8,552.6 802.2,549.9 802.6,548.7 803.0,550.6 803.4,550.5 803.8,549.0 804.2,551.1 804.6,551.4 805.0,552.7 805.4,549.0 805.8,553.7 806.2,551.1 806.6,549.1 807.0,554.4 807.4,553.2 807.8,552.3 808.2,550.0 808.6,554.1 809.0,550.2 809.4,550.2 809.8,551.9 810.2,553.8 810.6,552.1 811.0,552.3 811.4,550.5 811.8,554.0 812.2,551.6 812.6,553.9 813.0,557.9 813.4,553.2 813.8,550.9 814.2,549.9 814.6,550.8 815.0,550.8 815.4,553.1 815.8,555.4 816.2,552.7 816.6,552.3 817.0,553.9 817.4,551.5 817.8,552.6 818.2,554.6 818.6,554.9 819.0,552.5 819.4,552.1 819.8,552.1 820.2,553.4 820.6,555.7 821.0,552.9 821.4,551.2 821.8,555.0 822.2,555.4 822.6,555.2 823.0,555.1 823.4,553.2 823.8,551.8 824.2,554.6 824.6,553.2 825.0,553.9 825.4,556.3 825.8,551.0 826.2,551.6 826.6,551.6 827.0,552.7 827.4,554.0 827.8,554.9 828.2,553.0 828.6,556.0 829.0,553.3 829.4,555.4 829.8,556.7 830.2,556.2 830.6,553.7 831.0,554.1 831.4,555.0 831.8,555.6 832.2,552.6 832.6,552.7 833.0,552.9 833.4,555.9 833.8,554.3 834.2,553.7 834.6,551.4 835.0,551.6 835.4,554.7 835.8,551.9 836.2,555.8 836.6,553.4 837.0,555.0 837.4,555.7 837.8,555.7 838.2,554.9 838.6,558.4 839.0,554.3 839.4,555.1 839.8,553.5 840.2,555.2 840.6,555.4 841.0,555.5 841.4,553.5 841.8,554.5 842.2,551.4 842.6,552.4 843.0,554.4 843.4,549.5 843.8,550.5 844.2,554.6 844.6,553.6 845.0,553.2 845.4,553.2 845.8,555.7 846.2,554.3 846.6,553.0 847.0,551.3 847.4,554.2 847.8,552.0 848.2,554.1 848.6,553.0 849.0,556.6 849.4,553.6 849.8,554.7 850.2,557.1 850.6,550.5 851.0,553.7 851.4,551.8 851.8,556.8 852.2,554.5 852.6,553.9 853.0,554.3 853.4,555.3 853.8,554.9 854.2,554.6 854.6,555.6 855.0,554.8 855.4,557.6 855.8,552.9 856.2,553.8 856.6,555.3 857.0,555.6 857.4,553.4 857.8,556.2 858.2,555.5 858.6,556.5 859.0,553.1 859.4,555.5 859.8,553.2 860.2,554.4 860.6,555.4 861.0,553.6 861.4,553.9 861.8,557.8 862.2,553.6 862.6,556.2 863.0,557.4 863.4,557.8 863.8,554.3 864.2,552.7 864.6,556.0 865.0,553.1 865.4,553.6 865.8,552.3 866.2,551.5 866.6,552.7 867.0,553.3 867.4,550.9 867.8,556.3 868.2,553.4 868.6,556.4 869.0,555.9 869.4,552.9 869.8,553.8 870.2,553.3 870.6,554.0 871.0,554.4 871.4,554.7 871.8,554.6 872.2,554.4 872.6,552.9 873.0,551.3 873.4,554.1 873.8,553.4 874.2,555.0 874.6,552.9 875.0,554.7 875.4,553.1 875.8,555.3 876.2,553.9 876.6,554.8 877.0,558.8 877.4,555.9 877.8,554.5 878.2,555.4 878.6,554.8 879.0,554.3 879.4,554.7 879.8,555.1 880.2,555.5 880.6,557.1 881.0,556.7 881.4,557.6 881.8,555.4 882.2,555.5 882.6,558.7 883.0,552.0 883.4,554.8 883.8,555.1 884.2,555.0 884.6,553.0 885.0,553.8 885.4,552.0 885.8,553.7 886.2,551.5 886.6,556.1 887.0,554.0 887.4,552.7 887.8,556.8 888.2,554.7 888.6,552.8 889.0,555.1 889.4,553.5 889.8,550.9 890.2,554.1 890.6,557.0 891.0,551.8 891.4,553.8 891.8,555.5 892.2,555.1 892.6,555.9 893.0,553.9 893.4,556.7 893.8,554.7 894.2,554.2 894.6,554.4 895.0,553.3 895.4,553.2 895.8,552.8 896.2,552.6 896.6,553.1 897.0,552.3 897.4,555.6 897.8,555.1 898.2,551.7 898.6,554.6 899.0,555.4 899.4,553.7 899.8,556.0 900.2,553.8 900.6,554.4 901.0,553.0 901.4,555.2 901.8,555.3 902.2,558.8 902.6,557.4 903.0,555.3 903.4,554.8 903.8,555.1 904.2,555.6 904.6,551.5 905.0,554.7 905.4,555.7 905.8,554.5 906.2,552.7 906.6,551.9 907.0,551.7 907.4,557.2 907.8,555.6 908.2,556.5 908.6,553.7 909.0,552.8 909.4,551.7 909.8,554.7 910.2,551.8 910.6,552.6 911.0,556.0 911.4,556.6 911.8,554.0 912.2,556.3 912.6,555.1 913.0,555.8 913.4,552.9 913.8,555.5 914.2,555.3 914.6,555.3 915.0,555.3 915.4,554.8 915.8,555.3 916.2,553.1 916.6,554.7 917.0,552.4 917.4,554.0 917.8,553.2 918.2,552.7 918.6,553.1 919.0,553.1 919.4,555.4 919.8,552.9 920.2,555.0 920.6,555.4 921.0,558.7 921.4,556.6 921.8,553.9 922.2,553.1 922.6,555.2 923.0,555.9 923.4,554.2 923.8,557.0 924.2,552.3 924.6,551.4 925.0,553.2 925.4,555.3 925.8,555.8 926.2,554.3 926.6,556.5 927.0,555.0 927.4,553.6 927.8,556.7 928.2,555.0 928.6,553.3 929.0,555.3 929.4,553.3 929.8,557.0 930.2,554.6 930.6,552.1 931.0,557.3 931.4,555.5 931.8,554.2 932.2,555.5 932.6,556.2 933.0,554.8 933.4,555.4 933.8,556.8 934.2,554.3 934.6,554.9 935.0,558.0 935.4,554.3 935.8,554.0 936.2,555.5 936.6,557.0 937.0,554.1 937.4,555.1 937.8,554.5 938.2,558.4 938.6,557.2 939.0,556.0 939.4,556.8 939.8,552.4 940.2,553.1 940.6,554.5 941.0,556.3 941.4,551.7 941.8,554.5 942.2,554.0 942.6,554.1 943.0,554.9 943.4,553.0 943.8,557.3 944.2,554.1 944.6,555.4 945.0,552.8 945.4,553.2 945.8,551.3 946.2,556.7 946.6,558.5 947.0,554.3 947.4,554.9 947.8,557.7 948.2,553.5 948.6,555.1 949.0,553.9 949.4,556.4 949.8,555.7 950.2,556.8 950.6,556.8 951.0,553.7 951.4,554.2 951.8,555.7 952.2,556.3 952.6,555.1 953.0,556.2 953.4,556.4 953.8,554.2 954.2,554.9 954.6,554.0 955.0,553.0 955.4,556.6 955.8,557.8 956.2,554.9 956.6,558.1 957.0,558.2 957.4,554.7 957.8,555.2 958.2,555.0 958.6,557.2 959.0,557.6 959.4,554.9 959.8,553.1 960.2,555.9 960.6,557.6 961.0,556.2 961.4,555.6 961.8,552.8 962.2,556.6 962.6,555.3 963.0,555.7 963.4,555.6 963.8,554.5" fill="none" stroke="#000" stroke-width="1.3" stroke-linejoin="round"/>
<polyline points="54.6,424.7 55.0,427.1 55.4,423.5 55.8,422.1 56.2,423.7 56.6,428.4 57.0,427.2 57.4,426.9 57.8,430.5 58.2,428.0 58.6,426.6 59.0,429.8 59.4,426.8 59.8,422.7 60.2,425.0 60.6,425.3 61.0,426.9 61.4,425.9 61.8,426.9 62.2,425.7 62.6,424.9 63.0,424.6 63.4,425.4 63.8,424.8 64.2,422.4 64.6,424.1 65.0,427.5 65.4,423.6 65.8,429.5 66.2,427.2 66.6,425.9 67.0,422.3 67.4,425.8 67.8,425.6 68.2,427.3 68.6,429.0 69.0,428.4 69.4,427.3 69.8,428.2 70.2,430.6 70.6,428.2 71.0,427.9 71.4,424.8 71.8,426.3 72.2,427.3 72.6,422.2 73.0,430.8 73.4,425.6 73.8,427.5 74.2,420.8 74.6,426.5 75.0,423.4 75.4,426.3 75.8,423.7 76.2,423.9 76.6,423.1 77.0,430.1 77.4,424.7 77.8,423.5 78.2,422.0 78.6,425.2 79.0,429.5 79.4,425.5 79.8,423.4 80.2,424.9 80.6,423.8 81.0,425.3 81.4,424.4 81.8,429.7 82.2,431.7 82.6,425.3 83.0,423.7 83.4,426.7 83.8,426.6 84.2,428.7 84.6,424.6 85.0,425.2 85.4,425.9 85.8,425.6 86.2,427.0 86.6,427.3 87.0,427.0 87.4,421.7 87.8,427.1 88.2,426.8 88.6,421.7 89.0,426.4 89.4,424.2 89.8,425.2 90.2,422.7 90.6,427.5 91.0,427.1 91.4,427.7 91.8,425.9 92.2,426.1 92.6,426.0 93.0,427.5 93.4,424.4 93.8,426.2 94.2,421.2 94.6,425.9 95.0,423.4 95.4,428.0 95.8,424.9 96.2,421.4 96.6,424.9 97.0,422.9 97.4,427.0 97.8,424.2 98.2,423.6 98.6,424.2 99.0,421.4 99.4,424.5 99.8,423.5 100.2,424.0 100.6,426.5 101.0,420.4 101.4,423.0 101.8,426.7 102.2,422.5 102.6,421.4 103.0,423.0 103.4,425.6 103.8,423.0 104.2,425.5 104.6,419.7 105.0,425.6 105.4,420.8 105.8,422.9 106.2,424.0 106.6,419.2 107.0,425.9 107.4,420.3 107.8,418.3 108.2,423.9 108.6,421.3 109.0,425.4 109.4,419.0 109.8,414.7 110.2,419.0 110.6,412.8 111.0,420.2 111.4,417.5 111.8,409.8 112.2,415.7 112.6,412.9 113.0,409.6 113.4,411.6 113.8,411.1 114.2,413.1 114.6,409.0 115.0,415.1 115.4,417.4 115.8,411.9 116.2,406.4 116.6,408.5 117.0,408.1 117.4,404.5 117.8,406.0 118.2,411.0 118.6,403.1 119.0,408.4 119.4,403.3 119.8,399.7 120.2,400.7 120.6,403.5 121.0,398.9 121.4,395.7 121.8,394.9 122.2,390.3 122.6,393.2 123.0,394.1 123.4,393.1 123.8,394.7 124.2,388.3 124.6,373.7 125.0,382.3 125.4,372.9 125.8,374.9 126.2,371.6 126.6,375.1 127.0,370.5 127.4,366.3 127.8,366.8 128.2,357.0 128.6,357.8 129.0,363.3 129.4,367.5 129.8,352.9 130.2,360.3 130.6,349.9 131.0,355.1 131.4,339.9 131.8,345.1 132.2,347.9 132.6,333.0 133.0,337.9 133.4,330.8 133.8,332.4 134.2,334.4 134.6,328.5 135.0,324.7 135.4,328.5 135.8,321.8 136.2,322.8 136.6,319.3 137.0,323.8 137.4,316.6 137.8,314.6 138.2,313.4 138.6,311.4 139.0,319.5 139.4,322.3 139.8,314.8 140.2,308.0 140.6,306.5 141.0,314.3 141.4,315.5 141.8,319.5 142.2,320.5 142.6,326.4 143.0,320.5 143.4,338.5 143.8,323.0 144.2,328.4 144.6,330.5 145.0,328.4 145.4,322.2 145.8,341.6 146.2,356.2 146.6,344.5 147.0,329.9 147.4,341.7 147.8,341.6 148.2,350.8 148.6,347.0 149.0,346.5 149.4,345.1 149.8,353.0 150.2,350.6 150.6,355.7 151.0,357.7 151.4,357.7 151.8,359.0 152.2,359.2 152.6,362.4 153.0,357.6 153.4,355.4 153.8,366.1 154.2,371.8 154.6,368.3 155.0,368.4 155.4,374.4 155.8,371.4 156.2,373.6 156.6,377.8 157.0,381.7 157.4,383.2 157.8,390.3 158.2,385.4 158.6,381.8 159.0,384.4 159.4,387.1 159.8,389.8 160.2,387.2 160.6,395.2 161.0,395.7 161.4,391.9 161.8,399.8 162.2,396.1 162.6,393.8 163.0,396.0 163.4,396.4 163.8,403.4 164.2,398.3 164.6,405.6 165.0,403.1 165.4,402.4 165.8,404.9 166.2,403.3 166.6,403.3 167.0,400.9 167.4,408.7 167.8,414.3 168.2,403.1 168.6,406.9 169.0,413.2 169.4,413.7 169.8,412.8 170.2,407.5 170.6,412.4 171.0,408.6 171.4,405.1 171.8,409.7 172.2,410.6 172.6,414.5 173.0,408.6 173.4,407.9 173.8,412.1 174.2,413.1 174.6,417.0 175.0,413.2 175.4,410.4 175.8,412.3 176.2,421.5 176.6,406.6 177.0,412.3 177.4,417.6 177.8,413.0 178.2,409.5 178.6,410.6 179.0,415.2 179.4,409.7 179.8,413.3 180.2,412.7 180.6,414.9 181.0,415.6 181.4,415.6 181.8,413.6 182.2,415.3 182.6,412.9 183.0,410.2 183.4,412.5 183.8,414.7 184.2,415.9 184.6,418.3 185.0,411.1 185.4,409.2 185.8,408.6 186.2,411.8 186.6,404.6 187.0,406.6 187.4,411.1 187.8,410.8 188.2,404.6 188.6,411.1 189.0,409.2 189.4,411.1 189.8,411.9 190.2,407.5 190.6,407.5 191.0,408.7 191.4,403.5 191.8,408.6 192.2,401.2 192.6,409.4 193.0,407.5 193.4,403.0 193.8,405.0 194.2,402.8 194.6,405.6 195.0,407.7 195.4,402.3 195.8,403.7 196.2,406.7 196.6,401.4 197.0,404.5 197.4,398.1 197.8,399.0 198.2,402.7 198.6,403.9 199.0,394.4 199.4,398.2 199.8,403.0 200.2,399.1 200.6,394.5 201.0,398.6 201.4,395.0 201.8,401.0 202.2,392.7 202.6,391.5 203.0,395.5 203.4,394.5 203.8,393.8 204.2,389.8 204.6,395.3 205.0,391.3 205.4,387.7 205.8,403.7 206.2,392.9 206.6,388.4 207.0,393.2 207.4,385.6 207.8,393.9 208.2,394.3 208.6,391.0 209.0,390.6 209.4,390.1 209.8,393.6 210.2,398.4 210.6,372.9 211.0,384.7 211.4,380.2 211.8,387.0 212.2,378.9 212.6,379.9 213.0,375.1 213.4,381.2 213.8,378.8 214.2,375.1 214.6,382.2 215.0,382.3 215.4,374.7 215.8,371.2 216.2,367.9 216.6,380.4 217.0,365.1 217.4,370.8 217.8,365.2 218.2,364.4 218.6,364.1 219.0,375.0 219.4,365.5 219.8,359.0 220.2,362.0 220.6,360.1 221.0,364.4 221.4,363.7 221.8,373.3 222.2,362.1 222.6,360.8 223.0,367.6 223.4,375.6 223.8,364.7 224.2,363.3 224.6,374.0 225.0,359.6 225.4,368.6 225.8,367.6 226.2,373.4 226.6,373.4 227.0,371.4 227.4,371.5 227.8,374.3 228.2,373.8 228.6,374.1 229.0,377.4 229.4,379.0 229.8,387.4 230.2,382.8 230.6,378.6 231.0,385.0 231.4,382.5 231.8,393.6 232.2,388.8 232.6,386.3 233.0,386.0 233.4,393.7 233.8,389.0 234.2,388.8 234.6,394.4 235.0,392.8 235.4,397.7 235.8,400.0 236.2,406.4 236.6,406.0 237.0,406.1 237.4,400.2 237.8,405.8 238.2,401.6 238.6,403.6 239.0,403.9 239.4,402.7 239.8,401.1 240.2,411.5 240.6,409.7 241.0,407.5 241.4,411.3 241.8,410.4 242.2,414.4 242.6,411.7 243.0,414.6 243.4,406.4 243.8,420.5 244.2,417.2 244.6,413.5 245.0,412.5 245.4,410.1 245.8,415.3 246.2,415.4 246.6,417.4 247.0,417.6 247.4,418.7 247.8,413.6 248.2,414.2 248.6,421.9 249.0,419.6 249.4,423.7 249.8,416.8 250.2,419.7 250.6,418.1 251.0,428.4 251.4,417.1 251.8,419.2 252.2,423.6 252.6,425.3 253.0,417.5 253.4,420.8 253.8,417.3 254.2,424.9 254.6,424.7 255.0,422.8 255.4,420.9 255.8,423.7 256.2,423.9 256.6,425.3 257.0,422.1 257.4,427.7 257.8,422.6 258.2,423.8 258.6,424.9 259.0,427.6 259.4,425.4 259.8,429.9 260.2,428.8 260.6,424.8 261.0,428.6 261.4,423.6 261.8,423.2 262.2,430.6 262.6,428.1 263.0,430.6 263.4,426.0 263.8,425.2 264.2,424.3 264.6,430.5 265.0,428.3 265.4,423.0 265.8,424.5 266.2,424.8 266.6,423.6 267.0,429.1 267.4,426.1 267.8,428.0 268.2,426.7 268.6,422.2 269.0,425.0 269.4,423.4 269.8,428.1 270.2,427.0 270.6,424.9 271.0,429.6 271.4,432.4 271.8,424.3 272.2,422.1 272.6,427.0 273.0,427.9 273.4,422.5 273.8,423.7 274.2,424.7 274.6,428.5 275.0,427.2 275.4,423.0 275.8,424.2 276.2,423.5 276.6,425.8 277.0,430.7 277.4,429.1 277.8,427.5 278.2,422.1 278.6,427.9 279.0,423.3 279.4,422.9 279.8,427.3 280.2,424.2 280.6,426.7 281.0,426.0 281.4,422.7 281.8,424.3 282.2,425.3 282.6,423.5 283.0,420.0 283.4,426.5 283.8,421.4 284.2,420.2 284.6,420.5 285.0,423.9 285.4,421.9 285.8,425.4 286.2,416.1 286.6,419.1 287.0,420.6 287.4,419.5 287.8,416.3 288.2,417.3 288.6,418.2 289.0,418.0 289.4,418.9 289.8,418.2 290.2,415.3 290.6,412.8 291.0,421.1 291.4,420.9 291.8,416.0 292.2,418.8 292.6,418.0 293.0,417.5 293.4,412.3 293.8,414.1 294.2,411.8 294.6,407.8 295.0,408.5 295.4,412.6 295.8,411.3 296.2,412.3 296.6,410.9 297.0,410.9 297.4,411.1 297.8,406.2 298.2,406.6 298.6,416.4 299.0,409.4 299.4,412.0 299.8,405.8 300.2,407.0 300.6,410.7 301.0,406.5 301.4,407.0 301.8,408.2 302.2,404.8 302.6,400.8 303.0,400.6 303.4,400.4 303.8,399.9 304.2,397.7 304.6,401.2 305.0,402.5 305.4,410.4 305.8,401.0 306.2,403.8 306.6,402.2 307.0,402.2 307.4,398.4 307.8,404.4 308.2,400.3 308.6,406.0 309.0,402.9 309.4,397.1 309.8,405.4 310.2,397.7 310.6,395.3 311.0,408.6 311.4,403.2 311.8,404.4 312.2,398.7 312.6,398.3 313.0,396.0 313.4,396.5 313.8,395.4 314.2,390.9 314.6,400.8 315.0,390.6 315.4,396.9 315.8,387.9 316.2,391.7 316.6,385.8 317.0,386.5 317.4,386.9 317.8,384.3 318.2,384.9 318.6,382.4 319.0,378.1 319.4,380.2 319.8,379.0 320.2,381.3 320.6,375.1 321.0,369.2 321.4,370.3 321.8,372.5 322.2,371.2 322.6,375.1 323.0,378.4 323.4,372.6 323.8,372.1 324.2,372.4 324.6,368.0 325.0,369.8 325.4,373.0 325.8,372.1 326.2,361.1 326.6,367.9 327.0,367.5 327.4,369.8 327.8,375.9 328.2,375.5 328.6,364.7 329.0,375.8 329.4,366.4 329.8,372.9 330.2,370.0 330.6,368.2 331.0,364.6 331.4,372.8 331.8,371.4 332.2,360.2 332.6,374.1 333.0,366.7 333.4,369.9 333.8,363.0 334.2,366.1 334.6,365.4 335.0,351.4 335.4,372.3 335.8,367.4 336.2,363.2 336.6,372.2 337.0,369.8 337.4,368.0 337.8,355.1 338.2,370.1 338.6,361.6 339.0,368.0 339.4,357.2 339.8,363.1 340.2,362.4 340.6,366.7 341.0,368.4 341.4,371.4 341.8,381.9 342.2,379.6 342.6,381.2 343.0,376.3 343.4,387.5 343.8,384.4 344.2,395.6 344.6,392.3 345.0,397.2 345.4,395.9 345.8,395.8 346.2,396.1 346.6,405.6 347.0,404.5 347.4,402.2 347.8,408.1 348.2,412.4 348.6,410.9 349.0,414.6 349.4,412.0 349.8,408.5 350.2,411.5 350.6,415.2 351.0,417.2 351.4,419.5 351.8,423.1 352.2,418.2 352.6,418.8 353.0,421.7 353.4,420.5 353.8,419.3 354.2,420.9 354.6,425.6 355.0,422.0 355.4,418.1 355.8,426.9 356.2,422.8 356.6,426.8 357.0,421.7 357.4,418.6 357.8,422.8 358.2,420.8 358.6,425.1 359.0,425.1 359.4,423.8 359.8,429.1 360.2,422.1 360.6,422.3 361.0,426.0 361.4,427.1 361.8,425.9 362.2,423.9 362.6,428.4 363.0,421.8 363.4,424.0 363.8,426.5 364.2,423.0 364.6,427.4 365.0,426.7 365.4,427.5 365.8,427.9 366.2,428.9 366.6,428.2 367.0,428.2 367.4,423.8 367.8,427.6 368.2,426.4 368.6,427.4 369.0,423.3 369.4,426.8 369.8,428.4 370.2,432.1 370.6,426.9 371.0,425.9 371.4,429.7 371.8,433.5 372.2,431.1 372.6,428.9 373.0,430.4 373.4,428.2 373.8,430.4 374.2,429.4 374.6,434.2 375.0,428.7 375.4,431.6 375.8,431.6 376.2,430.7 376.6,431.3 377.0,436.0 377.4,428.4 377.8,431.8 378.2,433.5 378.6,429.6 379.0,428.9 379.4,428.1 379.8,435.6 380.2,432.7 380.6,430.3 381.0,430.7 381.4,431.2 381.8,432.5 382.2,430.0 382.6,433.3 383.0,433.3 383.4,434.5 383.8,432.9 384.2,433.9 384.6,433.2 385.0,434.5 385.4,433.6 385.8,432.2 386.2,431.6 386.6,431.7 387.0,433.3 387.4,431.7 387.8,432.9 388.2,431.9 388.6,433.8 389.0,433.6 389.4,434.5 389.8,436.1 390.2,433.9 390.6,430.2 391.0,435.0 391.4,434.1 391.8,433.9 392.2,433.1 392.6,431.8 393.0,430.3 393.4,434.1 393.8,435.0 394.2,430.6 394.6,432.6 395.0,430.1 395.4,430.6 395.8,435.5 396.2,433.7 396.6,437.0 397.0,430.9 397.4,434.1 397.8,435.6 398.2,435.5 398.6,437.5 399.0,434.8 399.4,434.4 399.8,434.3 400.2,434.4 400.6,434.0 401.0,433.2 401.4,432.7 401.8,434.4 402.2,432.1 402.6,431.1 403.0,435.2 403.4,432.6 403.8,432.7 404.2,434.1 404.6,432.5 405.0,431.8 405.4,435.4 405.8,435.9 406.2,432.1 406.6,433.3 407.0,434.7 407.4,436.0 407.8,434.7 408.2,434.4 408.6,432.1 409.0,433.2 409.4,435.1 409.8,430.6 410.2,434.3 410.6,432.8 411.0,431.0 411.4,433.5 411.8,433.4 412.2,431.3 412.6,432.0 413.0,430.2 413.4,431.5 413.8,429.9 414.2,429.1 414.6,433.8 415.0,428.9 415.4,429.6 415.8,430.3 416.2,436.6 416.6,429.4 417.0,431.5 417.4,430.9 417.8,434.1 418.2,431.1 418.6,434.9 419.0,431.8 419.4,434.4 419.8,432.4 420.2,431.9 420.6,429.7 421.0,431.0 421.4,431.8 421.8,431.2 422.2,433.3 422.6,432.6 423.0,434.3 423.4,432.5 423.8,432.1 424.2,434.1 424.6,433.3 425.0,434.6 425.4,434.0 425.8,432.0 426.2,433.3 426.6,433.5 427.0,432.9 427.4,435.6 427.8,428.6 428.2,432.9 428.6,432.9 429.0,434.6 429.4,432.0 429.8,433.3 430.2,431.8 430.6,429.9 431.0,430.8 431.4,435.6 431.8,430.7 432.2,433.6 432.6,430.1 433.0,434.2 433.4,433.9 433.8,432.9 434.2,432.3 434.6,433.6 435.0,434.1 435.4,432.5 435.8,429.4 436.2,434.5 436.6,433.3 437.0,433.2 437.4,432.5 437.8,426.4 438.2,432.6 438.6,432.3 439.0,433.9 439.4,433.7 439.8,431.8 440.2,434.3 440.6,433.4 441.0,434.4 441.4,433.8 441.8,435.3 442.2,435.2 442.6,435.1 443.0,436.8 443.4,436.4 443.8,435.2 444.2,433.0 444.6,433.3 445.0,433.9 445.4,433.9 445.8,432.3 446.2,431.6 446.6,434.9 447.0,434.2 447.4,434.6 447.8,431.5 448.2,431.4 448.6,435.3 449.0,436.7 449.4,436.9 449.8,436.0 450.2,436.5 450.6,432.1 451.0,436.0 451.4,435.2 451.8,430.2 452.2,436.8 452.6,436.6 453.0,433.7 453.4,432.2 453.8,436.9 454.2,434.7 454.6,432.5 455.0,433.5 455.4,435.4 455.8,433.1 456.2,437.2 456.6,432.6 457.0,435.7 457.4,436.3 457.8,434.4 458.2,435.5 458.6,433.4 459.0,437.3 459.4,435.5 459.8,434.0 460.2,435.3 460.6,437.0 461.0,434.7 461.4,432.2 461.8,433.2 462.2,436.8 462.6,434.2 463.0,432.7 463.4,435.2 463.8,435.6 464.2,436.0 464.6,433.8 465.0,435.2 465.4,435.2 465.8,435.4 466.2,435.6 466.6,435.2 467.0,435.0 467.4,433.1 467.8,433.8 468.2,437.4 468.6,434.7 469.0,433.4 469.4,435.7 469.8,438.2 470.2,438.4 470.6,434.3 471.0,434.3 471.4,432.6 471.8,436.0 472.2,436.8 472.6,434.5 473.0,433.1 473.4,434.5 473.8,436.5 474.2,433.6 474.6,438.3 475.0,436.1 475.4,435.6 475.8,436.5 476.2,435.1 476.6,437.9 477.0,436.1 477.4,437.4 477.8,439.1 478.2,435.5 478.6,436.7 479.0,432.0 479.4,437.0 479.8,436.4 480.2,436.6 480.6,434.7 481.0,434.5 481.4,431.5 481.8,436.2 482.2,434.6 482.6,436.0 483.0,436.1 483.4,436.5 483.8,434.0 484.2,437.2 484.6,436.8 485.0,434.9 485.4,433.6 485.8,434.7 486.2,433.1 486.6,435.8 487.0,434.7 487.4,438.4 487.8,437.5 488.2,435.0 488.6,435.3 489.0,435.3 489.4,434.6 489.8,437.9 490.2,435.6 490.6,432.3 491.0,435.7 491.4,431.9 491.8,435.8 492.2,437.0 492.6,435.1 493.0,433.0 493.4,434.9 493.8,437.3 494.2,435.6 494.6,432.8 495.0,433.8 495.4,435.7 495.8,435.6 496.2,436.2 496.6,434.7 497.0,430.6 497.4,435.5 497.8,438.2 498.2,437.4 498.6,432.8 499.0,434.7 499.4,434.5 499.8,438.4 500.2,436.1 500.6,432.8 501.0,434.7 501.4,438.4 501.8,436.8 502.2,435.6 502.6,432.7 503.0,432.6 503.4,439.8 503.8,434.1 504.2,432.9 504.6,433.8 505.0,438.8 505.4,437.7 505.8,436.3 506.2,433.5 506.6,435.8 507.0,436.7 507.4,434.3 507.8,433.2 508.2,434.1 508.6,434.6 509.0,432.7 509.4,429.6 509.8,436.9 510.2,435.3 510.6,432.6 511.0,434.4 511.4,435.5 511.8,436.1 512.2,433.3 512.6,432.9 513.0,433.3 513.4,434.8 513.8,429.1 514.2,436.7 514.6,432.8 515.0,433.4 515.4,431.9 515.8,431.7 516.2,433.5 516.6,432.3 517.0,432.8 517.4,431.7 517.8,435.1 518.2,432.0 518.6,433.8 519.0,431.2 519.4,434.4 519.8,434.1 520.2,434.3 520.6,431.7 521.0,433.4 521.4,433.8 521.8,435.4 522.2,432.3 522.6,432.9 523.0,431.7 523.4,430.0 523.8,429.0 524.2,428.9 524.6,433.2 525.0,426.8 525.4,430.6 525.8,428.2 526.2,431.1 526.6,430.3 527.0,433.0 527.4,431.1 527.8,428.4 528.2,431.7 528.6,429.5 529.0,431.6 529.4,428.7 529.8,425.2 530.2,431.3 530.6,429.0 531.0,434.2 531.4,428.9 531.8,424.9 532.2,426.7 532.6,431.0 533.0,427.2 533.4,425.8 533.8,426.3 534.2,426.8 534.6,425.5 535.0,423.8 535.4,422.5 535.8,428.1 536.2,432.3 536.6,426.4 537.0,428.5 537.4,426.5 537.8,425.1 538.2,420.7 538.6,424.4 539.0,424.8 539.4,423.4 539.8,422.3 540.2,423.2 540.6,422.9 541.0,422.1 541.4,421.2 541.8,422.4 542.2,423.2 542.6,423.0 543.0,423.3 543.4,425.4 543.8,424.5 544.2,426.2 544.6,426.2 545.0,420.7 545.4,422.4 545.8,422.3 546.2,422.6 546.6,419.9 547.0,427.0 547.4,415.7 547.8,418.8 548.2,421.7 548.6,415.7 549.0,419.1 549.4,420.2 549.8,417.6 550.2,421.3 550.6,415.0 551.0,416.7 551.4,424.8 551.8,420.3 552.2,420.2 552.6,414.2 553.0,417.3 553.4,420.6 553.8,415.8 554.2,416.8 554.6,421.4 555.0,415.5 555.4,418.5 555.8,417.5 556.2,415.1 556.6,419.1 557.0,419.7 557.4,412.6 557.8,421.3 558.2,416.1 558.6,416.6 559.0,419.5 559.4,421.0 559.8,421.5 560.2,414.9 560.6,418.8 561.0,421.7 561.4,417.4 561.8,417.3 562.2,419.1 562.6,422.0 563.0,421.8 563.4,420.6 563.8,418.8 564.2,416.8 564.6,417.7 565.0,415.3 565.4,423.7 565.8,421.8 566.2,420.9 566.6,420.3 567.0,422.2 567.4,416.5 567.8,425.5 568.2,423.9 568.6,420.3 569.0,421.9 569.4,428.0 569.8,424.6 570.2,426.7 570.6,423.1 571.0,420.7 571.4,422.2 571.8,426.3 572.2,423.8 572.6,422.3 573.0,417.1 573.4,425.9 573.8,426.6 574.2,424.6 574.6,424.6 575.0,424.0 575.4,421.0 575.8,425.4 576.2,421.1 576.6,423.8 577.0,424.9 577.4,424.5 577.8,421.6 578.2,422.9 578.6,426.0 579.0,422.0 579.4,423.1 579.8,427.0 580.2,424.6 580.6,426.9 581.0,425.8 581.4,427.0 581.8,425.7 582.2,424.1 582.6,423.4 583.0,428.4 583.4,428.3 583.8,425.5 584.2,431.5 584.6,428.5 585.0,427.7 585.4,428.8 585.8,426.1 586.2,427.0 586.6,427.2 587.0,428.0 587.4,430.7 587.8,430.1 588.2,427.1 588.6,431.6 589.0,435.9 589.4,428.1 589.8,433.2 590.2,427.5 590.6,429.7 591.0,431.2 591.4,426.2 591.8,430.5 592.2,431.8 592.6,433.5 593.0,432.1 593.4,432.1 593.8,426.5 594.2,431.1 594.6,430.6 595.0,436.2 595.4,433.9 595.8,430.0 596.2,434.1 596.6,429.3 597.0,433.2 597.4,430.4 597.8,435.1 598.2,433.7 598.6,435.3 599.0,434.2 599.4,432.6 599.8,431.7 600.2,432.9 600.6,433.3 601.0,434.2 601.4,434.3 601.8,433.4 602.2,434.8 602.6,431.8 603.0,433.9 603.4,430.6 603.8,433.6 604.2,432.8 604.6,435.8 605.0,432.2 605.4,432.0 605.8,429.9 606.2,434.8 606.6,431.0 607.0,436.3 607.4,431.6 607.8,432.4 608.2,430.1 608.6,433.7 609.0,434.8 609.4,437.0 609.8,434.8 610.2,433.8 610.6,432.2 611.0,432.7 611.4,437.5 611.8,437.1 612.2,435.3 612.6,431.4 613.0,434.6 613.4,435.9 613.8,432.1 614.2,435.2 614.6,435.3 615.0,434.1 615.4,432.4 615.8,436.2 616.2,432.4 616.6,434.1 617.0,434.8 617.4,431.9 617.8,434.2 618.2,436.1 618.6,434.6 619.0,432.7 619.4,433.7 619.8,433.1 620.2,432.1 620.6,432.8 621.0,432.1 621.4,431.1 621.8,430.2 622.2,428.6 622.6,432.4 623.0,430.3 623.4,433.2 623.8,431.1 624.2,431.8 624.6,430.7 625.0,433.6 625.4,428.1 625.8,431.1 626.2,431.7 626.6,429.1 627.0,429.7 627.4,429.6 627.8,435.3 628.2,433.0 628.6,431.4 629.0,434.6 629.4,434.3 629.8,431.5 630.2,429.7 630.6,426.1 631.0,426.8 631.4,428.4 631.8,428.5 632.2,430.7 632.6,427.1 633.0,431.1 633.4,427.3 633.8,428.8 634.2,426.8 634.6,429.7 635.0,424.8 635.4,428.7 635.8,430.5 636.2,424.6 636.6,428.1 637.0,426.5 637.4,427.7 637.8,426.2 638.2,429.4 638.6,432.1 639.0,429.0 639.4,427.1 639.8,419.0 640.2,424.4 640.6,427.0 641.0,424.4 641.4,428.2 641.8,426.9 642.2,426.1 642.6,425.3 643.0,426.8 643.4,426.9 643.8,424.0 644.2,426.0 644.6,421.5 645.0,426.3 645.4,428.1 645.8,426.6 646.2,425.1 646.6,425.7 647.0,426.2 647.4,424.1 647.8,430.6 648.2,425.4 648.6,425.3 649.0,423.5 649.4,426.6 649.8,424.6 650.2,427.1 650.6,426.7 651.0,421.4 651.4,424.7 651.8,426.0 652.2,426.3 652.6,424.4 653.0,419.9 653.4,421.3 653.8,428.1 654.2,424.4 654.6,425.8 655.0,416.2 655.4,423.3 655.8,424.5 656.2,423.3 656.6,425.3 657.0,426.7 657.4,425.8 657.8,421.4 658.2,420.1 658.6,424.0 659.0,420.4 659.4,424.4 659.8,428.6 660.2,422.3 660.6,426.5 661.0,425.5 661.4,423.3 661.8,424.8 662.2,421.9 662.6,424.2 663.0,425.8 663.4,422.6 663.8,424.5 664.2,424.0 664.6,427.2 665.0,428.1 665.4,422.9 665.8,421.9 666.2,425.9 666.6,424.3 667.0,425.5 667.4,427.1 667.8,425.0 668.2,426.2 668.6,421.1 669.0,423.9 669.4,424.0 669.8,425.0 670.2,424.8 670.6,424.2 671.0,421.2 671.4,425.7 671.8,426.7 672.2,425.0 672.6,426.2 673.0,425.0 673.4,424.7 673.8,425.8 674.2,424.1 674.6,426.0 675.0,422.7 675.4,427.6 675.8,429.9 676.2,428.8 676.6,427.6 677.0,426.7 677.4,424.4 677.8,427.1 678.2,430.4 678.6,429.1 679.0,424.4 679.4,424.5 679.8,428.6 680.2,424.8 680.6,424.7 681.0,430.4 681.4,424.8 681.8,428.4 682.2,429.7 682.6,431.0 683.0,425.9 683.4,428.9 683.8,431.8 684.2,424.8 684.6,426.8 685.0,428.7 685.4,428.6 685.8,428.5 686.2,431.3 686.6,429.3 687.0,428.7 687.4,426.6 687.8,431.1 688.2,431.7 688.6,428.5 689.0,433.6 689.4,429.6 689.8,430.8 690.2,430.4 690.6,431.3 691.0,431.0 691.4,436.5 691.8,431.6 692.2,432.3 692.6,435.5 693.0,436.8 693.4,429.5 693.8,433.0 694.2,431.6 694.6,431.7 695.0,431.0 695.4,431.0 695.8,431.6 696.2,431.1 696.6,433.3 697.0,435.6 697.4,431.3 697.8,430.8 698.2,432.0 698.6,438.2 699.0,433.1 699.4,427.7 699.8,430.7 700.2,429.6 700.6,432.7 701.0,433.4 701.4,432.5 701.8,431.8 702.2,431.1 702.6,436.2 703.0,431.9 703.4,431.8 703.8,433.0 704.2,431.4 704.6,433.7 705.0,430.3 705.4,429.1 705.8,433.0 706.2,432.0 706.6,431.6 707.0,429.5 707.4,430.3 707.8,432.5 708.2,432.1 708.6,434.2 709.0,431.6 709.4,429.0 709.8,432.8 710.2,433.0 710.6,433.2 711.0,432.3 711.4,428.7 711.8,432.8 712.2,426.7 712.6,433.6 713.0,432.0 713.4,433.6 713.8,428.5 714.2,432.3 714.6,428.6 715.0,434.1 715.4,432.3 715.8,429.6 716.2,436.0 716.6,431.6 717.0,430.0 717.4,428.7 717.8,435.2 718.2,431.8 718.6,431.2 719.0,432.3 719.4,431.1 719.8,433.5 720.2,428.9 720.6,431.8 721.0,432.8 721.4,428.7 721.8,431.4 722.2,433.8 722.6,428.1 723.0,433.2 723.4,431.7 723.8,431.1 724.2,431.4 724.6,431.7 725.0,433.2 725.4,432.7 725.8,428.3 726.2,430.1 726.6,427.0 727.0,431.3 727.4,431.3 727.8,429.2 728.2,429.9 728.6,431.4 729.0,431.1 729.4,430.6 729.8,432.3 730.2,426.8 730.6,429.2 731.0,433.5 731.4,429.3 731.8,426.4 732.2,429.7 732.6,429.5 733.0,430.7 733.4,427.6 733.8,430.9 734.2,428.2 734.6,431.4 735.0,430.6 735.4,425.3 735.8,427.9 736.2,431.4 736.6,430.6 737.0,429.7 737.4,428.9 737.8,430.3 738.2,433.0 738.6,431.3 739.0,431.8 739.4,434.0 739.8,428.0 740.2,427.0 740.6,428.7 741.0,430.6 741.4,426.3 741.8,428.5 742.2,429.2 742.6,430.5 743.0,426.6 743.4,435.3 743.8,430.0 744.2,431.0 744.6,429.0 745.0,430.1 745.4,433.1 745.8,427.1 746.2,428.3 746.6,425.6 747.0,427.2 747.4,427.5 747.8,429.1 748.2,429.8 748.6,429.0 749.0,427.6 749.4,427.4 749.8,429.5 750.2,428.6 750.6,426.8 751.0,429.8 751.4,430.3 751.8,428.5 752.2,427.2 752.6,427.1 753.0,425.9 753.4,428.8 753.8,424.8 754.2,429.6 754.6,427.8 755.0,421.6 755.4,432.2 755.8,425.2 756.2,428.0 756.6,425.9 757.0,425.4 757.4,429.9 757.8,428.9 758.2,428.4 758.6,427.7 759.0,427.2 759.4,425.9 759.8,425.9 760.2,426.0 760.6,428.0 761.0,427.1 761.4,428.3 761.8,425.7 762.2,429.6 762.6,428.8 763.0,423.3 763.4,427.9 763.8,432.8 764.2,427.9 764.6,427.1 765.0,426.3 765.4,428.2 765.8,427.4 766.2,428.1 766.6,427.9 767.0,424.9 767.4,426.5 767.8,428.4 768.2,425.2 768.6,428.1 769.0,429.4 769.4,426.7 769.8,429.1 770.2,425.3 770.6,424.9 771.0,424.4 771.4,429.0 771.8,426.2 772.2,428.0 772.6,424.1 773.0,429.0 773.4,426.1 773.8,427.9 774.2,427.1 774.6,427.0 775.0,426.1 775.4,428.3 775.8,426.0 776.2,433.3 776.6,431.9 777.0,433.9 777.4,426.5 777.8,428.0 778.2,425.5 778.6,429.2 779.0,429.1 779.4,430.5 779.8,429.9 780.2,425.2 780.6,428.3 781.0,433.7 781.4,428.2 781.8,430.4 782.2,428.0 782.6,430.5 783.0,429.7 783.4,429.2 783.8,430.5 784.2,428.8 784.6,430.9 785.0,430.2 785.4,431.4 785.8,430.3 786.2,426.4 786.6,430.0 787.0,429.4 787.4,428.9 787.8,431.7 788.2,426.4 788.6,430.6 789.0,431.5 789.4,432.0 789.8,432.8 790.2,430.8 790.6,429.2 791.0,433.4 791.4,432.0 791.8,432.5 792.2,432.0 792.6,432.1 793.0,434.0 793.4,432.8 793.8,431.9 794.2,434.1 794.6,433.3 795.0,432.5 795.4,432.1 795.8,433.9 796.2,429.9 796.6,431.1 797.0,434.5 797.4,432.3 797.8,432.2 798.2,435.4 798.6,434.6 799.0,433.0 799.4,434.3 799.8,433.2 800.2,432.7 800.6,434.9 801.0,435.1 801.4,433.6 801.8,433.7 802.2,431.4 802.6,432.7 803.0,432.0 803.4,436.1 803.8,436.6 804.2,432.5 804.6,435.1 805.0,436.6 805.4,435.7 805.8,432.3 806.2,433.8 806.6,435.3 807.0,436.2 807.4,435.4 807.8,435.3 808.2,435.0 808.6,436.2 809.0,433.7 809.4,435.2 809.8,434.2 810.2,435.7 810.6,430.9 811.0,435.7 811.4,433.7 811.8,435.7 812.2,432.2 812.6,435.7 813.0,433.9 813.4,434.9 813.8,434.2 814.2,431.8 814.6,437.6 815.0,435.7 815.4,434.7 815.8,436.3 816.2,432.8 816.6,435.2 817.0,437.4 817.4,434.7 817.8,435.9 818.2,438.0 818.6,435.6 819.0,435.8 819.4,435.3 819.8,436.1 820.2,436.0 820.6,434.6 821.0,438.0 821.4,435.0 821.8,434.0 822.2,435.2 822.6,437.2 823.0,436.1 823.4,436.6 823.8,431.8 824.2,436.0 824.6,435.9 825.0,433.1 825.4,434.2 825.8,436.6 826.2,437.3 826.6,433.3 827.0,432.3 827.4,434.9 827.8,435.5 828.2,434.5 828.6,434.0 829.0,432.2 829.4,436.4 829.8,435.5 830.2,433.2 830.6,435.5 831.0,436.7 831.4,435.5 831.8,438.9 832.2,436.0 832.6,435.8 833.0,438.0 833.4,436.9 833.8,437.4 834.2,435.7 834.6,434.5 835.0,437.3 835.4,432.8 835.8,435.5 836.2,434.6 836.6,435.5 837.0,435.6 837.4,436.9 837.8,432.1 838.2,436.2 838.6,438.0 839.0,438.9 839.4,435.5 839.8,437.9 840.2,434.6 840.6,436.0 841.0,436.6 841.4,434.6 841.8,435.9 842.2,434.4 842.6,437.9 843.0,436.2 843.4,440.5 843.8,435.5 844.2,436.1 844.6,438.8 845.0,436.4 845.4,436.8 845.8,433.5 846.2,437.0 846.6,433.8 847.0,436.2 847.4,433.9 847.8,437.6 848.2,436.7 848.6,433.3 849.0,434.5 849.4,436.2 849.8,434.0 850.2,435.6 850.6,435.5 851.0,434.1 851.4,436.4 851.8,437.3 852.2,437.3 852.6,434.9 853.0,436.8 853.4,434.8 853.8,436.8 854.2,433.6 854.6,436.8 855.0,435.2 855.4,434.0 855.8,438.5 856.2,438.9 856.6,435.0 857.0,436.9 857.4,437.4 857.8,437.1 858.2,436.3 858.6,435.4 859.0,435.8 859.4,435.3 859.8,439.4 860.2,434.2 860.6,436.0 861.0,437.1 861.4,435.0 861.8,437.6 862.2,435.8 862.6,438.2 863.0,433.8 863.4,439.9 863.8,437.3 864.2,438.4 864.6,436.4 865.0,434.2 865.4,435.1 865.8,434.1 866.2,432.8 866.6,436.5 867.0,435.0 867.4,435.9 867.8,437.8 868.2,433.6 868.6,436.8 869.0,433.8 869.4,435.3 869.8,435.0 870.2,436.4 870.6,434.2 871.0,436.8 871.4,435.1 871.8,436.3 872.2,436.3 872.6,436.2 873.0,438.9 873.4,437.5 873.8,436.4 874.2,436.5 874.6,439.4 875.0,435.6 875.4,436.3 875.8,437.4 876.2,438.0 876.6,437.1 877.0,434.5 877.4,435.4 877.8,433.9 878.2,433.3 878.6,434.4 879.0,437.5 879.4,436.4 879.8,433.4 880.2,436.5 880.6,436.4 881.0,439.2 881.4,437.6 881.8,437.5 882.2,439.5 882.6,437.8 883.0,434.7 883.4,434.3 883.8,438.7 884.2,439.7 884.6,439.1 885.0,439.3 885.4,440.6 885.8,439.2 886.2,436.3 886.6,436.8 887.0,436.7 887.4,436.8 887.8,436.4 888.2,436.8 888.6,439.9 889.0,441.3 889.4,438.6 889.8,435.6 890.2,436.2 890.6,437.6 891.0,437.4 891.4,437.7 891.8,437.5 892.2,439.8 892.6,437.9 893.0,438.6 893.4,437.4 893.8,437.9 894.2,435.6 894.6,436.1 895.0,438.4 895.4,433.6 895.8,434.3 896.2,438.5 896.6,437.5 897.0,435.3 897.4,435.0 897.8,439.1 898.2,436.3 898.6,439.5 899.0,437.8 899.4,437.2 899.8,436.4 900.2,435.1 900.6,434.9 901.0,434.9 901.4,438.8 901.8,437.5 902.2,437.9 902.6,435.2 903.0,435.8 903.4,433.6 903.8,436.2 904.2,436.0 904.6,433.3 905.0,435.8 905.4,434.0 905.8,436.8 906.2,438.5 906.6,436.3 907.0,435.9 907.4,436.7 907.8,436.4 908.2,438.4 908.6,435.3 909.0,437.5 909.4,436.5 909.8,434.0 910.2,436.7 910.6,437.6 911.0,438.3 911.4,433.8 911.8,435.1 912.2,436.1 912.6,431.6 913.0,435.2 913.4,436.5 913.8,439.0 914.2,436.5 914.6,434.3 915.0,437.2 915.4,437.8 915.8,433.5 916.2,437.2 916.6,439.4 917.0,437.1 917.4,436.6 917.8,435.3 918.2,435.6 918.6,439.9 919.0,436.7 919.4,438.2 919.8,438.5 920.2,438.0 920.6,437.2 921.0,437.2 921.4,434.0 921.8,435.3 922.2,436.9 922.6,438.7 923.0,440.8 923.4,436.5 923.8,440.0 924.2,438.9 924.6,436.9 925.0,437.0 925.4,435.0 925.8,438.7 926.2,440.4 926.6,436.6 927.0,436.8 927.4,437.9 927.8,438.1 928.2,435.5 928.6,438.1 929.0,437.2 929.4,439.5 929.8,438.8 930.2,435.7 930.6,437.6 931.0,439.0 931.4,437.6 931.8,435.2 932.2,434.2 932.6,435.7 933.0,436.7 933.4,436.2 933.8,434.2 934.2,438.2 934.6,437.8 935.0,435.8 935.4,438.9 935.8,437.8 936.2,436.2 936.6,437.3 937.0,435.6 937.4,437.3 937.8,434.2 938.2,436.3 938.6,434.2 939.0,437.1 939.4,438.9 939.8,439.5 940.2,436.3 940.6,434.7 941.0,438.5 941.4,438.3 941.8,435.9 942.2,438.9 942.6,437.7 943.0,439.1 943.4,436.4 943.8,436.0 944.2,436.5 944.6,436.2 945.0,436.8 945.4,436.2 945.8,436.5 946.2,437.8 946.6,435.4 947.0,435.0 947.4,437.3 947.8,434.6 948.2,434.9 948.6,436.1 949.0,435.7 949.4,438.7 949.8,434.0 950.2,437.7 950.6,437.2 951.0,435.5 951.4,437.8 951.8,438.3 952.2,439.0 952.6,437.6 953.0,435.8 953.4,439.5 953.8,437.2 954.2,438.1 954.6,436.9 955.0,436.8 955.4,437.1 955.8,434.6 956.2,438.2 956.6,438.2 957.0,438.1 957.4,437.0 957.8,433.4 958.2,436.0 958.6,437.3 959.0,436.1 959.4,437.3 959.8,438.0 960.2,436.7 960.6,434.7 961.0,434.4 961.4,436.0 961.8,438.7 962.2,439.3 962.6,437.0 963.0,438.4 963.4,439.0 963.8,438.8" fill="none" stroke="#000" stroke-width="1.3" stroke-linejoin="round"/>
<polyline points="54.6,306.8 55.0,307.4 55.4,309.6 55.8,310.8 56.2,308.8 56.6,309.0 57.0,310.4 57.4,305.7 57.8,309.1 58.2,312.3 58.6,307.3 59.0,311.9 59.4,309.3 59.8,312.2 60.2,306.8 60.6,307.3 61.0,312.8 61.4,308.3 61.8,307.8 62.2,309.3 62.6,300.8 63.0,310.4 63.4,312.6 63.8,308.4 64.2,303.1 64.6,302.4 65.0,308.6 65.4,313.5 65.8,308.8 66.2,309.1 66.6,311.4 67.0,307.2 67.4,310.8 67.8,304.1 68.2,307.8 68.6,307.6 69.0,307.8 69.4,302.9 69.8,308.1 70.2,310.9 70.6,307.4 71.0,313.1 71.4,308.5 71.8,309.2 72.2,303.8 72.6,310.7 73.0,309.3 73.4,311.6 73.8,306.2 74.2,308.8 74.6,311.8 75.0,308.3 75.4,308.0 75.8,305.1 76.2,312.5 76.6,311.6 77.0,305.8 77.4,311.1 77.8,312.0 78.2,310.7 78.6,308.4 79.0,308.8 79.4,303.6 79.8,307.2 80.2,307.0 80.6,304.5 81.0,310.2 81.4,307.3 81.8,310.0 82.2,306.6 82.6,303.7 83.0,308.3 83.4,307.5 83.8,309.8 84.2,308.0 84.6,311.5 85.0,306.8 85.4,313.0 85.8,309.3 86.2,311.2 86.6,305.0 87.0,310.3 87.4,309.0 87.8,312.2 88.2,307.4 88.6,309.3 89.0,305.0 89.4,311.1 89.8,312.1 90.2,311.6 90.6,309.4 91.0,311.8 91.4,310.4 91.8,307.1 92.2,309.4 92.6,308.8 93.0,310.9 93.4,310.3 93.8,310.2 94.2,311.7 94.6,304.1 95.0,312.5 95.4,312.8 95.8,310.4 96.2,311.4 96.6,311.7 97.0,308.2 97.4,308.5 97.8,310.2 98.2,311.5 98.6,306.6 99.0,306.7 99.4,306.8 99.8,311.0 100.2,306.9 100.6,306.3 101.0,307.3 101.4,305.1 101.8,304.7 102.2,308.7 102.6,308.6 103.0,304.5 103.4,306.3 103.8,307.4 104.2,300.8 104.6,300.0 105.0,305.8 105.4,300.4 105.8,304.3 106.2,304.7 106.6,302.6 107.0,301.0 107.4,305.2 107.8,306.4 108.2,298.6 108.6,303.1 109.0,304.8 109.4,303.6 109.8,299.8 110.2,299.4 110.6,295.6 111.0,300.9 111.4,297.4 111.8,301.4 112.2,300.7 112.6,298.7 113.0,299.1 113.4,301.5 113.8,296.5 114.2,302.7 114.6,298.0 115.0,292.4 115.4,291.6 115.8,297.3 116.2,295.2 116.6,287.2 117.0,293.5 117.4,298.0 117.8,292.5 118.2,287.3 118.6,292.9 119.0,292.9 119.4,286.6 119.8,289.8 120.2,281.8 120.6,292.8 121.0,286.1 121.4,277.8 121.8,281.0 122.2,279.7 122.6,276.3 123.0,284.3 123.4,281.5 123.8,278.6 124.2,279.9 124.6,271.2 125.0,270.6 125.4,274.9 125.8,271.7 126.2,267.8 126.6,263.7 127.0,263.9 127.4,257.7 127.8,253.5 128.2,249.3 128.6,257.2 129.0,259.1 129.4,248.6 129.8,253.4 130.2,247.2 130.6,240.9 131.0,247.2 131.4,238.6 131.8,236.0 132.2,236.3 132.6,232.4 133.0,225.2 133.4,226.5 133.8,223.8 134.2,227.6 134.6,228.8 135.0,232.2 135.4,225.5 135.8,214.3 136.2,214.0 136.6,219.4 137.0,226.6 137.4,214.8 137.8,218.7 138.2,213.8 138.6,218.1 139.0,212.8 139.4,218.6 139.8,213.8 140.2,218.6 140.6,209.1 141.0,217.1 141.4,215.9 141.8,218.5 142.2,215.8 142.6,223.4 143.0,223.6 143.4,223.0 143.8,230.0 144.2,223.8 144.6,237.5 145.0,221.3 145.4,232.1 145.8,237.0 146.2,232.7 146.6,238.1 147.0,234.3 147.4,241.8 147.8,243.6 148.2,233.4 148.6,233.0 149.0,242.9 149.4,238.0 149.8,246.4 150.2,249.5 150.6,240.8 151.0,250.7 151.4,249.6 151.8,254.7 152.2,250.0 152.6,257.2 153.0,256.5 153.4,250.1 153.8,256.5 154.2,266.2 154.6,263.9 155.0,266.1 155.4,267.9 155.8,265.8 156.2,262.3 156.6,271.2 157.0,266.1 157.4,264.0 157.8,273.1 158.2,277.3 158.6,274.7 159.0,272.2 159.4,268.8 159.8,279.5 160.2,283.7 160.6,277.6 161.0,282.1 161.4,276.9 161.8,279.6 162.2,285.3 162.6,285.3 163.0,282.7 163.4,283.0 163.8,286.5 164.2,287.2 164.6,286.6 165.0,288.3 165.4,292.5 165.8,287.6 166.2,294.4 166.6,291.0 167.0,292.2 167.4,286.1 167.8,288.9 168.2,290.9 168.6,288.7 169.0,295.4 169.4,295.9 169.8,296.1 170.2,292.3 170.6,289.4 171.0,286.5 171.4,296.3 171.8,292.9 172.2,289.4 172.6,294.2 173.0,300.6 173.4,295.2 173.8,294.5 174.2,298.0 174.6,296.0 175.0,294.5 175.4,297.3 175.8,290.8 176.2,287.7 176.6,291.7 177.0,299.8 177.4,298.3 177.8,289.4 178.2,297.8 178.6,290.0 179.0,295.6 179.4,297.6 179.8,293.1 180.2,296.8 180.6,290.9 181.0,301.0 181.4,302.1 181.8,298.6 182.2,292.7 182.6,295.0 183.0,294.3 183.4,296.5 183.8,298.3 184.2,295.7 184.6,299.1 185.0,305.0 185.4,301.9 185.8,299.2 186.2,293.7 186.6,297.9 187.0,290.4 187.4,293.4 187.8,303.2 188.2,298.9 188.6,299.6 189.0,290.8 189.4,291.6 189.8,290.8 190.2,294.2 190.6,291.5 191.0,290.8 191.4,288.8 191.8,287.2 192.2,292.9 192.6,285.8 193.0,287.2 193.4,293.0 193.8,292.0 194.2,289.6 194.6,292.5 195.0,283.6 195.4,291.1 195.8,290.2 196.2,294.1 196.6,288.4 197.0,283.8 197.4,288.9 197.8,282.5 198.2,285.2 198.6,283.1 199.0,290.0 199.4,288.2 199.8,281.7 200.2,285.5 200.6,283.4 201.0,279.9 201.4,286.7 201.8,283.1 202.2,288.7 202.6,283.0 203.0,280.2 203.4,278.5 203.8,275.4 204.2,276.0 204.6,275.8 205.0,278.3 205.4,279.1 205.8,278.1 206.2,271.9 206.6,276.4 207.0,276.3 207.4,284.0 207.8,275.6 208.2,266.9 208.6,267.5 209.0,266.7 209.4,273.3 209.8,264.8 210.2,272.2 210.6,260.6 211.0,264.3 211.4,265.8 211.8,262.7 212.2,267.1 212.6,259.5 213.0,261.0 213.4,260.4 213.8,263.3 214.2,251.7 214.6,247.5 215.0,254.2 215.4,250.2 215.8,250.0 216.2,250.7 216.6,249.4 217.0,244.0 217.4,248.1 217.8,247.9 218.2,246.5 218.6,234.4 219.0,244.2 219.4,234.5 219.8,244.2 220.2,235.6 220.6,238.0 221.0,248.6 221.4,243.5 221.8,243.9 222.2,243.6 222.6,239.8 223.0,247.1 223.4,239.2 223.8,239.4 224.2,245.3 224.6,238.0 225.0,242.4 225.4,245.3 225.8,238.5 226.2,251.3 226.6,248.7 227.0,245.9 227.4,251.1 227.8,246.0 228.2,237.5 228.6,250.5 229.0,252.1 229.4,255.1 229.8,253.2 230.2,254.0 230.6,257.4 231.0,256.2 231.4,255.9 231.8,263.9 232.2,264.4 232.6,267.5 233.0,265.5 233.4,269.8 233.8,266.8 234.2,259.6 234.6,268.2 235.0,275.3 235.4,278.1 235.8,271.6 236.2,279.9 236.6,275.2 237.0,282.2 237.4,289.6 237.8,285.4 238.2,286.3 238.6,289.6 239.0,288.3 239.4,287.7 239.8,287.1 240.2,287.1 240.6,287.0 241.0,290.2 241.4,291.1 241.8,299.2 242.2,293.7 242.6,293.2 243.0,301.6 243.4,295.5 243.8,295.9 244.2,298.3 244.6,299.1 245.0,297.3 245.4,297.8 245.8,303.6 246.2,299.5 246.6,299.1 247.0,301.8 247.4,301.6 247.8,302.4 248.2,302.3 248.6,303.4 249.0,303.5 249.4,305.1 249.8,298.6 250.2,307.7 250.6,308.5 251.0,302.7 251.4,305.8 251.8,302.7 252.2,305.0 252.6,310.0 253.0,309.9 253.4,306.7 253.8,313.4 254.2,309.1 254.6,301.1 255.0,307.7 255.4,313.3 255.8,309.4 256.2,312.3 256.6,308.8 257.0,310.2 257.4,314.1 257.8,308.9 258.2,308.9 258.6,312.1 259.0,314.0 259.4,315.6 259.8,312.5 260.2,314.0 260.6,304.5 261.0,309.5 261.4,310.1 261.8,313.8 262.2,307.3 262.6,310.6 263.0,304.8 263.4,310.7 263.8,314.2 264.2,307.7 264.6,310.0 265.0,308.2 265.4,310.9 265.8,306.4 266.2,311.4 266.6,310.9 267.0,307.6 267.4,313.1 267.8,313.9 268.2,311.8 268.6,313.5 269.0,310.8 269.4,311.2 269.8,315.3 270.2,311.4 270.6,311.1 271.0,308.2 271.4,307.2 271.8,308.7 272.2,316.3 272.6,309.7 273.0,313.4 273.4,312.8 273.8,309.0 274.2,310.8 274.6,310.6 275.0,311.9 275.4,312.6 275.8,311.5 276.2,314.9 276.6,311.8 277.0,314.3 277.4,313.6 277.8,305.5 278.2,311.4 278.6,307.3 279.0,311.8 279.4,310.7 279.8,311.0 280.2,311.4 280.6,309.2 281.0,309.6 281.4,312.0 281.8,311.5 282.2,311.5 282.6,310.1 283.0,311.7 283.4,305.3 283.8,309.3 284.2,309.6 284.6,305.2 285.0,307.9 285.4,304.3 285.8,299.8 286.2,301.4 286.6,308.2 287.0,307.7 287.4,306.8 287.8,302.5 288.2,305.2 288.6,298.0 289.0,300.7 289.4,304.3 289.8,303.7 290.2,299.7 290.6,303.8 291.0,305.5 291.4,301.3 291.8,307.2 292.2,299.9 292.6,300.2 293.0,298.3 293.4,300.2 293.8,299.6 294.2,294.1 294.6,292.7 295.0,299.1 295.4,301.4 295.8,296.0 296.2,293.2 296.6,295.2 297.0,295.3 297.4,292.8 297.8,298.4 298.2,293.1 298.6,291.5 299.0,291.4 299.4,290.2 299.8,298.0 300.2,295.1 300.6,295.6 301.0,291.1 301.4,293.0 301.8,291.5 302.2,292.9 302.6,293.2 303.0,292.6 303.4,287.8 303.8,289.6 304.2,282.8 304.6,288.5 305.0,284.7 305.4,280.7 305.8,286.4 306.2,288.5 306.6,289.9 307.0,285.0 307.4,284.3 307.8,282.1 308.2,288.1 308.6,291.1 309.0,284.0 309.4,286.5 309.8,288.3 310.2,281.8 310.6,286.1 311.0,286.7 311.4,284.1 311.8,283.2 312.2,279.6 312.6,283.5 313.0,280.1 313.4,281.8 313.8,281.3 314.2,276.9 314.6,281.6 315.0,270.0 315.4,271.0 315.8,270.3 316.2,271.3 316.6,265.2 317.0,271.2 317.4,266.3 317.8,266.2 318.2,257.3 318.6,259.3 319.0,260.4 319.4,259.2 319.8,259.1 320.2,254.7 320.6,250.9 321.0,235.1 321.4,251.2 321.8,247.5 322.2,245.4 322.6,246.9 323.0,241.5 323.4,246.0 323.8,245.8 324.2,244.6 324.6,235.4 325.0,241.5 325.4,241.9 325.8,240.0 326.2,241.1 326.6,240.2 327.0,236.1 327.4,251.7 327.8,235.0 328.2,233.8 328.6,242.6 329.0,243.6 329.4,245.1 329.8,244.0 330.2,231.4 330.6,234.5 331.0,247.0 331.4,244.5 331.8,237.9 332.2,242.0 332.6,235.8 333.0,237.4 333.4,241.3 333.8,244.6 334.2,246.8 334.6,230.6 335.0,244.3 335.4,244.8 335.8,239.3 336.2,243.2 336.6,239.3 337.0,237.8 337.4,226.4 337.8,239.1 338.2,230.3 338.6,228.6 339.0,232.6 339.4,241.4 339.8,241.5 340.2,243.6 340.6,246.2 341.0,253.0 341.4,262.4 341.8,257.4 342.2,255.1 342.6,260.5 343.0,267.1 343.4,264.1 343.8,268.6 344.2,273.2 344.6,282.4 345.0,279.0 345.4,274.2 345.8,278.1 346.2,287.9 346.6,279.6 347.0,279.2 347.4,282.7 347.8,289.5 348.2,291.7 348.6,287.1 349.0,291.8 349.4,295.2 349.8,296.3 350.2,293.7 350.6,299.4 351.0,298.2 351.4,303.3 351.8,299.6 352.2,302.2 352.6,305.1 353.0,302.5 353.4,302.2 353.8,302.1 354.2,305.3 354.6,299.3 355.0,302.6 355.4,305.8 355.8,307.6 356.2,311.5 356.6,309.9 357.0,307.9 357.4,305.3 357.8,302.3 358.2,310.2 358.6,300.6 359.0,312.1 359.4,305.7 359.8,310.4 360.2,310.5 360.6,311.9 361.0,310.5 361.4,309.5 361.8,310.1 362.2,306.2 362.6,307.7 363.0,308.5 363.4,311.3 363.8,311.7 364.2,307.0 364.6,313.1 365.0,312.1 365.4,310.5 365.8,310.7 366.2,314.8 366.6,312.8 367.0,312.4 367.4,310.5 367.8,312.1 368.2,315.7 368.6,309.1 369.0,310.4 369.4,313.1 369.8,313.4 370.2,314.4 370.6,311.1 371.0,313.0 371.4,312.6 371.8,309.8 372.2,316.7 372.6,315.4 373.0,312.7 373.4,313.3 373.8,310.4 374.2,313.9 374.6,312.4 375.0,312.8 375.4,310.2 375.8,310.4 376.2,312.2 376.6,314.1 377.0,311.7 377.4,314.6 377.8,312.0 378.2,311.6 378.6,316.6 379.0,312.6 379.4,312.5 379.8,312.0 380.2,312.8 380.6,313.1 381.0,311.2 381.4,313.0 381.8,313.6 382.2,317.5 382.6,313.2 383.0,314.3 383.4,314.2 383.8,315.2 384.2,315.5 384.6,319.8 385.0,313.3 385.4,318.2 385.8,315.0 386.2,311.7 386.6,318.8 387.0,315.8 387.4,319.5 387.8,314.3 388.2,315.3 388.6,316.9 389.0,317.6 389.4,310.3 389.8,312.7 390.2,318.5 390.6,319.0 391.0,316.0 391.4,316.7 391.8,312.6 392.2,317.1 392.6,315.8 393.0,316.2 393.4,317.9 393.8,315.7 394.2,318.1 394.6,314.4 395.0,316.0 395.4,313.8 395.8,317.6 396.2,313.1 396.6,315.2 397.0,318.2 397.4,315.4 397.8,313.5 398.2,319.2 398.6,320.7 399.0,318.6 399.4,316.0 399.8,316.0 400.2,317.4 400.6,318.5 401.0,317.0 401.4,316.3 401.8,318.1 402.2,317.3 402.6,319.9 403.0,316.1 403.4,319.8 403.8,317.3 404.2,319.0 404.6,315.4 405.0,314.6 405.4,313.9 405.8,316.2 406.2,312.9 406.6,316.6 407.0,316.6 407.4,313.8 407.8,313.3 408.2,319.2 408.6,314.9 409.0,314.7 409.4,314.9 409.8,318.3 410.2,318.2 410.6,317.8 411.0,314.6 411.4,317.8 411.8,314.8 412.2,315.7 412.6,315.7 413.0,313.3 413.4,316.3 413.8,316.1 414.2,314.6 414.6,317.4 415.0,317.4 415.4,316.4 415.8,319.5 416.2,315.9 416.6,314.7 417.0,313.5 417.4,317.9 417.8,315.4 418.2,315.3 418.6,318.7 419.0,314.2 419.4,316.0 419.8,315.2 420.2,313.5 420.6,314.1 421.0,316.1 421.4,316.2 421.8,316.2 422.2,314.8 422.6,313.1 423.0,313.8 423.4,317.9 423.8,312.6 424.2,312.7 424.6,316.3 425.0,316.6 425.4,314.7 425.8,316.3 426.2,313.0 426.6,317.0 427.0,316.5 427.4,314.8 427.8,314.9 428.2,317.5 428.6,318.1 429.0,316.3 429.4,320.5 429.8,313.6 430.2,315.4 430.6,315.3 431.0,315.6 431.4,316.5 431.8,314.6 432.2,318.1 432.6,315.9 433.0,317.2 433.4,316.5 433.8,316.8 434.2,319.0 434.6,314.0 435.0,317.2 435.4,312.3 435.8,317.4 436.2,315.1 436.6,317.4 437.0,317.2 437.4,319.4 437.8,318.5 438.2,319.0 438.6,320.2 439.0,316.5 439.4,319.9 439.8,318.7 440.2,321.0 440.6,315.2 441.0,318.4 441.4,316.9 441.8,316.4 442.2,315.8 442.6,321.5 443.0,316.6 443.4,318.1 443.8,315.4 444.2,312.8 444.6,319.4 445.0,321.5 445.4,318.0 445.8,315.9 446.2,316.7 446.6,320.2 447.0,317.8 447.4,321.5 447.8,316.7 448.2,320.8 448.6,314.7 449.0,317.7 449.4,314.3 449.8,320.4 450.2,320.0 450.6,319.3 451.0,318.1 451.4,317.7 451.8,316.8 452.2,318.2 452.6,317.6 453.0,319.7 453.4,316.3 453.8,314.2 454.2,319.5 454.6,318.9 455.0,321.0 455.4,318.9 455.8,320.1 456.2,316.3 456.6,320.9 457.0,320.0 457.4,323.0 457.8,320.3 458.2,319.5 458.6,316.8 459.0,320.4 459.4,321.8 459.8,318.5 460.2,317.5 460.6,320.2 461.0,318.1 461.4,321.1 461.8,319.4 462.2,321.7 462.6,321.8 463.0,321.1 463.4,322.3 463.8,319.0 464.2,321.6 464.6,320.1 465.0,320.5 465.4,323.0 465.8,318.6 466.2,320.1 466.6,319.8 467.0,320.1 467.4,318.3 467.8,320.8 468.2,321.8 468.6,318.1 469.0,318.4 469.4,320.4 469.8,321.5 470.2,319.4 470.6,320.9 471.0,318.0 471.4,318.3 471.8,318.8 472.2,323.6 472.6,325.0 473.0,319.1 473.4,320.4 473.8,321.4 474.2,321.7 474.6,319.7 475.0,320.0 475.4,316.5 475.8,319.7 476.2,317.8 476.6,318.6 477.0,319.9 477.4,317.8 477.8,318.6 478.2,320.7 478.6,321.7 479.0,321.3 479.4,322.0 479.8,319.3 480.2,321.9 480.6,320.5 481.0,320.7 481.4,320.3 481.8,319.7 482.2,319.5 482.6,320.7 483.0,321.4 483.4,319.2 483.8,321.6 484.2,318.7 484.6,320.8 485.0,321.3 485.4,322.1 485.8,321.7 486.2,320.8 486.6,321.5 487.0,318.6 487.4,321.6 487.8,320.0 488.2,316.8 488.6,319.3 489.0,318.9 489.4,319.5 489.8,317.8 490.2,318.5 490.6,315.7 491.0,316.2 491.4,318.2 491.8,319.3 492.2,317.1 492.6,318.8 493.0,317.3 493.4,322.0 493.8,318.2 494.2,318.5 494.6,321.8 495.0,320.8 495.4,318.9 495.8,320.5 496.2,318.9 496.6,321.2 497.0,317.3 497.4,317.3 497.8,319.0 498.2,318.3 498.6,316.5 499.0,318.3 499.4,319.0 499.8,320.3 500.2,322.6 500.6,318.2 501.0,314.6 501.4,318.7 501.8,315.7 502.2,317.1 502.6,316.3 503.0,315.9 503.4,318.3 503.8,319.5 504.2,319.3 504.6,318.1 505.0,320.0 505.4,320.5 505.8,319.8 506.2,316.4 506.6,318.9 507.0,315.7 507.4,319.9 507.8,315.0 508.2,318.6 508.6,318.8 509.0,319.2 509.4,320.2 509.8,315.6 510.2,313.0 510.6,316.8 511.0,319.0 511.4,316.0 511.8,317.7 512.2,318.7 512.6,319.5 513.0,314.0 513.4,317.8 513.8,319.0 514.2,316.5 514.6,321.9 515.0,319.1 515.4,316.4 515.8,318.6 516.2,315.9 516.6,316.4 517.0,314.3 517.4,315.2 517.8,312.4 518.2,312.0 518.6,314.9 519.0,313.3 519.4,313.8 519.8,317.0 520.2,319.6 520.6,315.8 521.0,315.8 521.4,313.3 521.8,317.6 522.2,310.1 522.6,310.6 523.0,312.6 523.4,317.0 523.8,314.0 524.2,314.6 524.6,313.4 525.0,313.7 525.4,311.2 525.8,314.5 526.2,307.3 526.6,310.7 527.0,312.7 527.4,308.0 527.8,314.7 528.2,315.1 528.6,311.9 529.0,308.7 529.4,313.3 529.8,312.4 530.2,311.7 530.6,312.8 531.0,311.5 531.4,313.0 531.8,310.0 532.2,307.5 532.6,309.3 533.0,306.4 533.4,306.0 533.8,311.3 534.2,311.2 534.6,309.1 535.0,312.1 535.4,307.8 535.8,310.6 536.2,304.2 536.6,310.9 537.0,304.8 537.4,310.4 537.8,308.6 538.2,314.5 538.6,308.2 539.0,308.3 539.4,302.6 539.8,303.4 540.2,304.9 540.6,304.9 541.0,303.8 541.4,305.6 541.8,306.2 542.2,299.9 542.6,308.5 543.0,310.3 543.4,308.1 543.8,302.8 544.2,305.6 544.6,307.6 545.0,303.2 545.4,304.7 545.8,301.5 546.2,310.3 546.6,300.1 547.0,306.2 547.4,302.1 547.8,304.4 548.2,302.9 548.6,302.3 549.0,305.7 549.4,300.5 549.8,301.4 550.2,302.6 550.6,300.8 551.0,297.0 551.4,301.0 551.8,307.9 552.2,303.9 552.6,305.0 553.0,302.8 553.4,307.8 553.8,299.4 554.2,306.3 554.6,305.9 555.0,306.1 555.4,302.0 555.8,305.5 556.2,304.1 556.6,304.6 557.0,306.3 557.4,301.5 557.8,303.0 558.2,301.2 558.6,304.4 559.0,307.6 559.4,306.9 559.8,301.1 560.2,304.3 560.6,305.7 561.0,300.5 561.4,306.1 561.8,304.6 562.2,305.2 562.6,299.7 563.0,305.9 563.4,308.6 563.8,302.9 564.2,305.0 564.6,303.8 565.0,304.5 565.4,301.2 565.8,306.8 566.2,305.1 566.6,308.6 567.0,308.6 567.4,306.2 567.8,304.2 568.2,307.5 568.6,308.5 569.0,309.6 569.4,311.2 569.8,303.6 570.2,306.6 570.6,308.2 571.0,310.3 571.4,305.2 571.8,306.9 572.2,310.8 572.6,307.2 573.0,304.2 573.4,312.3 573.8,311.4 574.2,312.9 574.6,310.6 575.0,307.7 575.4,307.6 575.8,311.0 576.2,306.9 576.6,311.9 577.0,316.2 577.4,312.2 577.8,310.1 578.2,310.7 578.6,306.5 579.0,313.5 579.4,310.6 579.8,312.3 580.2,315.7 580.6,309.8 581.0,310.9 581.4,313.5 581.8,307.1 582.2,312.7 582.6,311.5 583.0,309.5 583.4,310.1 583.8,312.8 584.2,309.4 584.6,313.3 585.0,311.6 585.4,314.8 585.8,316.1 586.2,311.4 586.6,313.7 587.0,317.6 587.4,314.1 587.8,315.2 588.2,313.8 588.6,319.6 589.0,317.8 589.4,316.6 589.8,318.7 590.2,314.2 590.6,312.8 591.0,316.1 591.4,314.3 591.8,316.5 592.2,316.1 592.6,318.9 593.0,320.5 593.4,311.2 593.8,315.2 594.2,317.3 594.6,318.1 595.0,314.2 595.4,312.4 595.8,317.6 596.2,314.7 596.6,314.7 597.0,317.3 597.4,310.9 597.8,319.1 598.2,314.3 598.6,320.2 599.0,314.1 599.4,317.6 599.8,313.4 600.2,318.8 600.6,314.2 601.0,322.6 601.4,320.5 601.8,316.6 602.2,319.2 602.6,316.1 603.0,317.2 603.4,313.7 603.8,316.6 604.2,321.3 604.6,317.7 605.0,319.0 605.4,314.3 605.8,313.6 606.2,317.0 606.6,318.7 607.0,319.0 607.4,318.0 607.8,319.1 608.2,317.2 608.6,316.8 609.0,318.7 609.4,318.0 609.8,317.7 610.2,316.4 610.6,319.0 611.0,318.9 611.4,317.6 611.8,312.1 612.2,321.1 612.6,316.6 613.0,316.9 613.4,315.1 613.8,314.8 614.2,318.1 614.6,315.5 615.0,316.7 615.4,316.0 615.8,314.8 616.2,313.0 616.6,315.9 617.0,315.0 617.4,320.8 617.8,316.8 618.2,316.2 618.6,317.0 619.0,316.4 619.4,316.8 619.8,317.4 620.2,317.2 620.6,319.0 621.0,313.2 621.4,314.9 621.8,308.6 622.2,313.5 622.6,312.6 623.0,316.3 623.4,309.1 623.8,314.0 624.2,313.4 624.6,311.4 625.0,313.4 625.4,314.4 625.8,318.6 626.2,311.9 626.6,311.3 627.0,311.9 627.4,310.2 627.8,314.4 628.2,311.0 628.6,311.1 629.0,314.5 629.4,308.3 629.8,314.2 630.2,310.4 630.6,311.7 631.0,311.7 631.4,310.6 631.8,311.9 632.2,307.4 632.6,306.1 633.0,309.0 633.4,306.9 633.8,306.7 634.2,307.3 634.6,311.0 635.0,313.3 635.4,307.2 635.8,310.0 636.2,310.5 636.6,311.3 637.0,307.3 637.4,308.4 637.8,308.3 638.2,310.6 638.6,307.8 639.0,306.3 639.4,311.3 639.8,309.2 640.2,313.8 640.6,310.2 641.0,306.6 641.4,312.2 641.8,308.1 642.2,305.0 642.6,312.1 643.0,306.5 643.4,304.0 643.8,306.5 644.2,307.9 644.6,305.4 645.0,306.5 645.4,308.6 645.8,307.6 646.2,301.3 646.6,305.3 647.0,306.6 647.4,304.0 647.8,310.6 648.2,306.3 648.6,304.4 649.0,310.3 649.4,299.0 649.8,306.2 650.2,302.8 650.6,306.3 651.0,301.1 651.4,306.9 651.8,302.1 652.2,301.5 652.6,309.9 653.0,303.0 653.4,311.1 653.8,306.5 654.2,308.0 654.6,304.8 655.0,308.0 655.4,303.5 655.8,308.8 656.2,302.2 656.6,301.2 657.0,302.5 657.4,301.9 657.8,302.9 658.2,304.3 658.6,302.6 659.0,305.1 659.4,304.5 659.8,306.6 660.2,306.9 660.6,305.1 661.0,305.5 661.4,301.9 661.8,301.5 662.2,307.1 662.6,304.2 663.0,303.1 663.4,306.5 663.8,305.1 664.2,310.6 664.6,305.2 665.0,305.0 665.4,305.8 665.8,310.4 666.2,310.6 666.6,312.6 667.0,311.0 667.4,306.9 667.8,299.2 668.2,309.1 668.6,309.2 669.0,311.0 669.4,308.1 669.8,312.4 670.2,309.5 670.6,311.4 671.0,308.3 671.4,304.6 671.8,308.8 672.2,310.3 672.6,303.1 673.0,306.4 673.4,313.4 673.8,310.5 674.2,305.9 674.6,302.5 675.0,309.9 675.4,310.7 675.8,313.1 676.2,314.4 676.6,308.9 677.0,310.0 677.4,309.8 677.8,314.0 678.2,309.6 678.6,312.8 679.0,309.0 679.4,310.2 679.8,312.4 680.2,313.6 680.6,311.9 681.0,314.0 681.4,308.8 681.8,311.1 682.2,313.8 682.6,312.8 683.0,307.0 683.4,312.4 683.8,310.1 684.2,312.3 684.6,312.5 685.0,312.5 685.4,311.6 685.8,314.0 686.2,318.3 686.6,314.3 687.0,313.3 687.4,313.0 687.8,314.5 688.2,313.5 688.6,313.4 689.0,311.7 689.4,315.6 689.8,314.9 690.2,313.9 690.6,313.8 691.0,319.1 691.4,312.8 691.8,315.5 692.2,315.6 692.6,313.1 693.0,317.5 693.4,310.1 693.8,314.5 694.2,316.4 694.6,318.1 695.0,313.5 695.4,311.0 695.8,315.9 696.2,313.4 696.6,310.5 697.0,314.0 697.4,315.7 697.8,315.7 698.2,315.6 698.6,312.1 699.0,315.0 699.4,315.6 699.8,318.8 700.2,316.0 700.6,316.3 701.0,317.0 701.4,315.6 701.8,315.5 702.2,315.7 702.6,315.9 703.0,313.8 703.4,318.1 703.8,315.7 704.2,316.4 704.6,312.6 705.0,317.7 705.4,313.8 705.8,312.6 706.2,319.3 706.6,314.7 707.0,316.5 707.4,316.0 707.8,317.0 708.2,317.3 708.6,316.2 709.0,314.8 709.4,317.7 709.8,317.6 710.2,316.0 710.6,320.4 711.0,314.6 711.4,315.5 711.8,316.7 712.2,318.0 712.6,315.8 713.0,316.0 713.4,315.6 713.8,316.2 714.2,316.5 714.6,314.9 715.0,319.4 715.4,315.4 715.8,316.0 716.2,312.2 716.6,318.0 717.0,318.0 717.4,317.8 717.8,316.4 718.2,316.9 718.6,316.4 719.0,314.7 719.4,319.4 719.8,315.0 720.2,312.7 720.6,314.4 721.0,313.0 721.4,316.9 721.8,318.0 722.2,312.8 722.6,312.2 723.0,318.7 723.4,314.2 723.8,314.3 724.2,317.5 724.6,315.9 725.0,313.3 725.4,314.3 725.8,315.5 726.2,313.3 726.6,314.6 727.0,316.5 727.4,314.6 727.8,315.8 728.2,316.0 728.6,313.6 729.0,316.3 729.4,312.6 729.8,315.9 730.2,314.9 730.6,313.5 731.0,314.5 731.4,311.5 731.8,313.7 732.2,315.2 732.6,316.1 733.0,315.2 733.4,312.9 733.8,316.1 734.2,314.9 734.6,316.2 735.0,309.9 735.4,317.4 735.8,314.0 736.2,314.6 736.6,315.2 737.0,313.3 737.4,317.1 737.8,317.3 738.2,314.6 738.6,313.9 739.0,312.7 739.4,313.7 739.8,314.7 740.2,317.1 740.6,316.8 741.0,314.2 741.4,317.0 741.8,313.8 742.2,316.7 742.6,316.0 743.0,316.2 743.4,315.6 743.8,314.1 744.2,314.3 744.6,315.6 745.0,314.1 745.4,315.7 745.8,311.5 746.2,314.1 746.6,317.0 747.0,315.0 747.4,313.0 747.8,315.3 748.2,317.7 748.6,315.7 749.0,315.9 749.4,318.3 749.8,314.1 750.2,313.7 750.6,315.4 751.0,312.7 751.4,314.7 751.8,312.8 752.2,316.7 752.6,311.3 753.0,315.3 753.4,313.2 753.8,315.4 754.2,316.9 754.6,312.9 755.0,313.4 755.4,315.4 755.8,316.4 756.2,311.3 756.6,313.8 757.0,314.6 757.4,312.3 757.8,310.1 758.2,315.7 758.6,316.3 759.0,313.0 759.4,312.7 759.8,312.7 760.2,310.6 760.6,310.0 761.0,313.0 761.4,315.4 761.8,314.6 762.2,310.9 762.6,316.1 763.0,312.8 763.4,317.5 763.8,311.7 764.2,311.3 764.6,314.8 765.0,309.9 765.4,312.9 765.8,313.5 766.2,314.4 766.6,316.9 767.0,312.4 767.4,314.8 767.8,315.5 768.2,311.7 768.6,312.9 769.0,315.8 769.4,313.1 769.8,314.0 770.2,316.2 770.6,311.1 771.0,310.3 771.4,317.4 771.8,314.0 772.2,315.6 772.6,315.6 773.0,315.1 773.4,314.6 773.8,311.2 774.2,313.9 774.6,310.1 775.0,312.0 775.4,318.7 775.8,312.0 776.2,316.6 776.6,315.0 777.0,313.8 777.4,315.3 777.8,317.1 778.2,312.1 778.6,316.0 779.0,314.8 779.4,313.9 779.8,314.9 780.2,317.7 780.6,316.7 781.0,317.7 781.4,315.7 781.8,317.4 782.2,317.0 782.6,313.3 783.0,313.8 783.4,314.2 783.8,314.9 784.2,317.9 784.6,315.2 785.0,315.6 785.4,318.2 785.8,313.9 786.2,317.0 786.6,314.4 787.0,317.3 787.4,315.1 787.8,311.8 788.2,315.0 788.6,316.1 789.0,316.8 789.4,311.9 789.8,312.0 790.2,317.0 790.6,316.2 791.0,313.3 791.4,317.9 791.8,319.7 792.2,317.5 792.6,316.0 793.0,318.3 793.4,313.0 793.8,315.9 794.2,318.2 794.6,318.5 795.0,317.0 795.4,315.7 795.8,318.5 796.2,316.3 796.6,317.7 797.0,314.0 797.4,317.6 797.8,317.7 798.2,316.7 798.6,315.8 799.0,319.0 799.4,319.6 799.8,318.9 800.2,316.6 800.6,314.3 801.0,318.4 801.4,317.4 801.8,316.2 802.2,318.7 802.6,315.6 803.0,322.0 803.4,311.7 803.8,318.8 804.2,321.2 804.6,319.1 805.0,317.9 805.4,320.5 805.8,315.8 806.2,315.9 806.6,317.9 807.0,317.1 807.4,318.2 807.8,318.5 808.2,316.0 808.6,318.2 809.0,321.2 809.4,323.6 809.8,322.3 810.2,319.2 810.6,322.5 811.0,319.5 811.4,317.2 811.8,322.0 812.2,319.9 812.6,320.1 813.0,320.1 813.4,317.3 813.8,320.5 814.2,321.9 814.6,320.3 815.0,318.6 815.4,316.4 815.8,318.7 816.2,318.3 816.6,318.9 817.0,318.5 817.4,318.0 817.8,318.7 818.2,316.7 818.6,316.0 819.0,318.1 819.4,317.5 819.8,320.1 820.2,321.7 820.6,320.5 821.0,319.2 821.4,319.6 821.8,321.4 822.2,321.7 822.6,322.1 823.0,319.7 823.4,322.3 823.8,324.5 824.2,323.2 824.6,322.5 825.0,320.7 825.4,320.0 825.8,321.0 826.2,319.5 826.6,319.0 827.0,321.2 827.4,317.5 827.8,320.9 828.2,322.6 828.6,319.2 829.0,320.8 829.4,319.9 829.8,323.8 830.2,320.5 830.6,322.3 831.0,319.6 831.4,320.9 831.8,319.2 832.2,319.9 832.6,319.0 833.0,318.6 833.4,321.9 833.8,321.8 834.2,320.8 834.6,321.3 835.0,321.5 835.4,321.8 835.8,318.2 836.2,322.1 836.6,319.3 837.0,320.8 837.4,323.2 837.8,319.2 838.2,324.0 838.6,319.7 839.0,318.8 839.4,322.8 839.8,318.8 840.2,321.5 840.6,318.2 841.0,321.8 841.4,318.1 841.8,318.5 842.2,324.3 842.6,318.3 843.0,321.0 843.4,322.5 843.8,320.6 844.2,320.1 844.6,315.3 845.0,319.7 845.4,322.8 845.8,317.4 846.2,318.7 846.6,322.5 847.0,322.2 847.4,319.4 847.8,320.3 848.2,319.7 848.6,320.7 849.0,320.7 849.4,321.6 849.8,320.8 850.2,321.1 850.6,322.4 851.0,321.3 851.4,318.5 851.8,319.0 852.2,320.1 852.6,323.2 853.0,319.2 853.4,320.4 853.8,315.9 854.2,319.4 854.6,321.1 855.0,322.7 855.4,322.3 855.8,319.1 856.2,323.9 856.6,320.2 857.0,322.6 857.4,320.1 857.8,323.3 858.2,321.8 858.6,320.5 859.0,321.2 859.4,318.2 859.8,321.1 860.2,318.8 860.6,320.1 861.0,323.0 861.4,320.5 861.8,319.4 862.2,318.9 862.6,321.6 863.0,319.2 863.4,320.1 863.8,322.4 864.2,321.4 864.6,322.6 865.0,322.1 865.4,323.3 865.8,320.9 866.2,320.5 866.6,323.3 867.0,323.8 867.4,322.0 867.8,322.4 868.2,322.8 868.6,322.9 869.0,322.7 869.4,322.4 869.8,320.3 870.2,320.3 870.6,322.2 871.0,324.1 871.4,322.6 871.8,320.8 872.2,318.5 872.6,321.7 873.0,319.4 873.4,322.9 873.8,318.9 874.2,322.6 874.6,323.0 875.0,322.1 875.4,325.4 875.8,318.1 876.2,323.1 876.6,321.0 877.0,319.8 877.4,320.6 877.8,319.2 878.2,319.2 878.6,317.7 879.0,317.8 879.4,322.2 879.8,321.8 880.2,318.8 880.6,320.3 881.0,317.2 881.4,322.0 881.8,318.4 882.2,320.0 882.6,323.2 883.0,319.7 883.4,322.1 883.8,320.0 884.2,321.6 884.6,320.9 885.0,322.9 885.4,322.2 885.8,321.4 886.2,320.9 886.6,322.2 887.0,322.2 887.4,317.3 887.8,322.4 888.2,318.4 888.6,322.3 889.0,321.1 889.4,320.8 889.8,322.5 890.2,320.8 890.6,321.2 891.0,321.6 891.4,319.2 891.8,321.8 892.2,323.8 892.6,321.5 893.0,321.4 893.4,321.8 893.8,321.7 894.2,320.3 894.6,321.3 895.0,323.9 895.4,320.3 895.8,320.1 896.2,319.3 896.6,321.7 897.0,323.3 897.4,325.1 897.8,319.9 898.2,319.9 898.6,319.9 899.0,320.7 899.4,321.9 899.8,318.8 900.2,320.2 900.6,319.9 901.0,318.5 901.4,320.1 901.8,321.3 902.2,321.6 902.6,321.0 903.0,321.3 903.4,318.4 903.8,319.0 904.2,322.0 904.6,321.4 905.0,322.7 905.4,322.6 905.8,319.5 906.2,321.8 906.6,318.7 907.0,320.1 907.4,320.4 907.8,321.8 908.2,318.4 908.6,322.5 909.0,318.6 909.4,320.7 909.8,321.2 910.2,326.4 910.6,319.7 911.0,322.2 911.4,323.0 911.8,321.2 912.2,318.9 912.6,321.0 913.0,321.3 913.4,321.3 913.8,321.8 914.2,318.6 914.6,317.0 915.0,323.3 915.4,317.6 915.8,321.7 916.2,321.3 916.6,320.4 917.0,319.5 917.4,319.9 917.8,320.6 918.2,319.8 918.6,320.5 919.0,323.6 919.4,320.6 919.8,323.3 920.2,322.4 920.6,323.8 921.0,322.7 921.4,324.1 921.8,322.9 922.2,320.5 922.6,321.0 923.0,324.2 923.4,320.1 923.8,323.8 924.2,320.1 924.6,321.8 925.0,324.9 925.4,322.1 925.8,320.5 926.2,317.9 926.6,322.5 927.0,321.7 927.4,324.3 927.8,320.6 928.2,321.2 928.6,321.9 929.0,322.7 929.4,317.9 929.8,323.0 930.2,322.2 930.6,320.0 931.0,321.4 931.4,319.4 931.8,319.1 932.2,323.7 932.6,320.6 933.0,322.8 933.4,321.2 933.8,322.8 934.2,321.3 934.6,324.1 935.0,319.0 935.4,322.7 935.8,324.2 936.2,320.0 936.6,319.7 937.0,323.3 937.4,322.1 937.8,321.2 938.2,323.6 938.6,321.7 939.0,322.6 939.4,321.0 939.8,320.5 940.2,321.9 940.6,321.0 941.0,323.9 941.4,321.5 941.8,320.5 942.2,320.0 942.6,319.0 943.0,322.6 943.4,320.7 943.8,321.5 944.2,321.6 944.6,323.3 945.0,321.8 945.4,320.6 945.8,321.3 946.2,322.0 946.6,320.9 947.0,324.4 947.4,321.1 947.8,320.5 948.2,321.9 948.6,322.8 949.0,323.3 949.4,319.9 949.8,323.7 950.2,324.0 950.6,322.6 951.0,323.0 951.4,323.2 951.8,317.7 952.2,323.8 952.6,322.8 953.0,321.5 953.4,322.0 953.8,322.8 954.2,322.6 954.6,321.3 955.0,321.8 955.4,320.9 955.8,323.9 956.2,319.9 956.6,322.6 957.0,320.5 957.4,319.3 957.8,320.4 958.2,320.9 958.6,322.8 959.0,323.7 959.4,319.5 959.8,318.9 960.2,322.3 960.6,321.2 961.0,321.0 961.4,321.3 961.8,320.9 962.2,322.5 962.6,320.6 963.0,321.7 963.4,323.4 963.8,320.9" fill="none" stroke="#000" stroke-width="1.3" stroke-linejoin="round"/>
<rect x="193.2" y="2.7" width="658.8" height="63.3" fill="#fff" stroke="#000" stroke-width="1.3"/>
<rect x="53.8" y="66.5" width="910.8" height="733.6" fill="none" stroke="#000" stroke-width="3" stroke-linejoin="round"/>
<line x1="102.5" y1="801.1" x2="102.5" y2="814.9" stroke="#000" stroke-width="3" stroke-linecap="round"/>
<text transform="translate(102.5,849.2) scale(0.975,1)" font-size="32" text-anchor="middle">30</text>
<line x1="183.8" y1="801.1" x2="183.8" y2="807.7" stroke="#000" stroke-width="3" stroke-linecap="round"/>
<line x1="265.1" y1="801.1" x2="265.1" y2="814.9" stroke="#000" stroke-width="3" stroke-linecap="round"/>
<text transform="translate(265.1,849.2) scale(0.975,1)" font-size="32" text-anchor="middle">40</text>
<line x1="346.5" y1="801.1" x2="346.5" y2="807.7" stroke="#000" stroke-width="3" stroke-linecap="round"/>
<line x1="427.8" y1="801.1" x2="427.8" y2="814.9" stroke="#000" stroke-width="3" stroke-linecap="round"/>
<text transform="translate(427.8,849.2) scale(0.975,1)" font-size="32" text-anchor="middle">50</text>
<line x1="509.1" y1="801.1" x2="509.1" y2="807.7" stroke="#000" stroke-width="3" stroke-linecap="round"/>
<line x1="590.4" y1="801.1" x2="590.4" y2="814.9" stroke="#000" stroke-width="3" stroke-linecap="round"/>
<text transform="translate(590.4,849.2) scale(0.975,1)" font-size="32" text-anchor="middle">60</text>
<line x1="671.7" y1="801.1" x2="671.7" y2="807.7" stroke="#000" stroke-width="3" stroke-linecap="round"/>
<line x1="753.1" y1="801.1" x2="753.1" y2="814.9" stroke="#000" stroke-width="3" stroke-linecap="round"/>
<text transform="translate(753.1,849.2) scale(0.975,1)" font-size="32" text-anchor="middle">70</text>
<line x1="834.4" y1="801.1" x2="834.4" y2="807.7" stroke="#000" stroke-width="3" stroke-linecap="round"/>
<line x1="915.7" y1="801.1" x2="915.7" y2="814.9" stroke="#000" stroke-width="3" stroke-linecap="round"/>
<text transform="translate(915.7,849.2) scale(0.975,1)" font-size="32" text-anchor="middle">80</text>
<polygon points="230.3,22.8 252.3,22.8 241.3,40.9" fill="#000"/>
<text transform="translate(293.6,40.9) scale(1.045,1)" font-size="37" text-anchor="start">h-AlN</text>
<polygon points="486.5,34.9 506.3,34.9 496.4,17.6" fill="#fff" stroke="#000" stroke-width="1.3"/>
<text transform="translate(548.2,40.9) scale(1.045,1)" font-size="37" text-anchor="start">CrN</text>
<polygon points="713.3,18.7 715.7,26.0 723.3,26.0 717.1,30.4 719.5,37.7 713.3,33.2 707.1,37.7 709.5,30.4 703.3,26.0 710.9,26.0" fill="#000"/>
<text transform="translate(765.2,40.9) scale(1.045,1)" font-size="37" text-anchor="start">Cr<tspan font-size="23" dy="14">2</tspan><tspan dy="-14">N</tspan></text>
<polygon points="139.7,177.2 161.3,177.2 150.5,195.1" fill="#000"/>
<polygon points="216.8,191.3 238.4,191.3 227.6,209.2" fill="#000"/>
<polygon points="410.4,191.3 432.0,191.3 421.2,209.2" fill="#000"/>
<polygon points="561.4,191.3 583.0,191.3 572.2,209.2" fill="#000"/>
<polygon points="674.8,191.3 696.4,191.3 685.6,209.2" fill="#000"/>
<polygon points="758.5,191.3 780.1,191.3 769.3,209.2" fill="#000"/>
<polygon points="215.1,180.4 234.5,180.4 224.8,163.7" fill="#fff" stroke="#000" stroke-width="1.4"/>
<polygon points="316.1,203.4 335.5,203.4 325.8,186.7" fill="#fff" stroke="#000" stroke-width="1.4"/>
<polygon points="638.6,203.4 658.0,203.4 648.3,186.7" fill="#fff" stroke="#000" stroke-width="1.4"/>
<polygon points="307.9,376.3 310.2,383.4 317.7,383.4 311.6,387.8 314.0,394.9 307.9,390.5 301.8,394.9 304.2,387.8 298.1,383.4 305.6,383.4" fill="#000"/>
<text transform="translate(163.3,167.8) rotate(-90) scale(1.022,1)" font-size="37">(<tspan font-family="IPAGothic, 'Liberation Sans', sans-serif" font-size="36" letter-spacing="3.1" dx="1.42" dy="1.8">1</tspan><tspan dx="-1.42" dy="-1.8">00)</tspan></text>
<text transform="translate(238.3,160.9) rotate(-90) scale(1.022,1)" font-size="37">(<tspan font-family="IPAGothic, 'Liberation Sans', sans-serif" font-size="36" letter-spacing="3.1" dx="1.42" dy="1.8">111</tspan><tspan dx="-1.42" dy="-1.8">)</tspan></text>
<text transform="translate(273.8,238.4) rotate(-90) scale(1.022,1)" font-size="37">(<tspan font-family="IPAGothic, 'Liberation Sans', sans-serif" font-size="36" letter-spacing="3.1" dx="1.42" dy="1.8">1</tspan><tspan dx="-1.42" dy="-1.8">0</tspan><tspan font-family="IPAGothic, 'Liberation Sans', sans-serif" font-size="36" letter-spacing="3.1" dx="1.42" dy="1.8">1</tspan><tspan dx="-1.42" dy="-1.8">)</tspan></text>
<text transform="translate(339.8,177.7) rotate(-90) scale(1.022,1)" font-size="37">(200)</text>
<text transform="translate(433.4,177.7) rotate(-90) scale(1.022,1)" font-size="37">(<tspan font-family="IPAGothic, 'Liberation Sans', sans-serif" font-size="36" letter-spacing="3.1" dx="1.42" dy="1.8">1</tspan><tspan dx="-1.42" dy="-1.8">02)</tspan></text>
<text transform="translate(584.0,181.4) rotate(-90) scale(1.022,1)" font-size="37">(<tspan font-family="IPAGothic, 'Liberation Sans', sans-serif" font-size="36" letter-spacing="3.1" dx="1.42" dy="1.8">11</tspan><tspan dx="-1.42" dy="-1.8">0)</tspan></text>
<text transform="translate(661.1,176.4) rotate(-90) scale(1.022,1)" font-size="37">(220)</text>
<text transform="translate(700.4,177.7) rotate(-90) scale(1.022,1)" font-size="37">(<tspan font-family="IPAGothic, 'Liberation Sans', sans-serif" font-size="36" letter-spacing="3.1" dx="1.42" dy="1.8">1</tspan><tspan dx="-1.42" dy="-1.8">03)</tspan></text>
<text transform="translate(780.7,181.4) rotate(-90) scale(1.022,1)" font-size="37">(<tspan font-family="IPAGothic, 'Liberation Sans', sans-serif" font-size="36" letter-spacing="3.1" dx="1.42" dy="1.8">11</tspan><tspan dx="-1.42" dy="-1.8">2)</tspan></text>
<text transform="translate(315.2,379.9) rotate(-90) scale(1.022,1)" font-size="37">(<tspan font-family="IPAGothic, 'Liberation Sans', sans-serif" font-size="36" letter-spacing="3.1" dx="1.42" dy="1.8">111</tspan><tspan dx="-1.42" dy="-1.8">)</tspan></text>
<text transform="translate(58.1,289.0) scale(1.055,1)" font-size="37.5" text-anchor="start">(e)</text>
<text transform="translate(59.4,412.9) scale(1.055,1)" font-size="37.5" text-anchor="start">(d)</text>
<text transform="translate(57.1,529.1) scale(1.055,1)" font-size="37.5" text-anchor="start">(c)</text>
<text transform="translate(60.8,643.2) scale(1.055,1)" font-size="37.5" text-anchor="start">(b)</text>
<text transform="translate(58.8,762.5) scale(1.055,1)" font-size="37.5" text-anchor="start">(a)</text>
<text transform="translate(29,493) rotate(-90) scale(1.013,1)" font-size="37">Intensity</text>
<text transform="translate(461,901.7) scale(1.045,1)" font-size="37.5" text-anchor="start"><tspan font-size="38.5">2</tspan><tspan font-family="'Liberation Serif', serif" font-size="38.5" stroke="#000" stroke-width="0.7" dx="-0.4">Θ</tspan> <tspan dx="-0.5">[</tspan><tspan font-size="21" dy="-20" dx="-0.4">0</tspan><tspan dy="20" dx="1">]</tspan></text>
</svg>
</body></html>
